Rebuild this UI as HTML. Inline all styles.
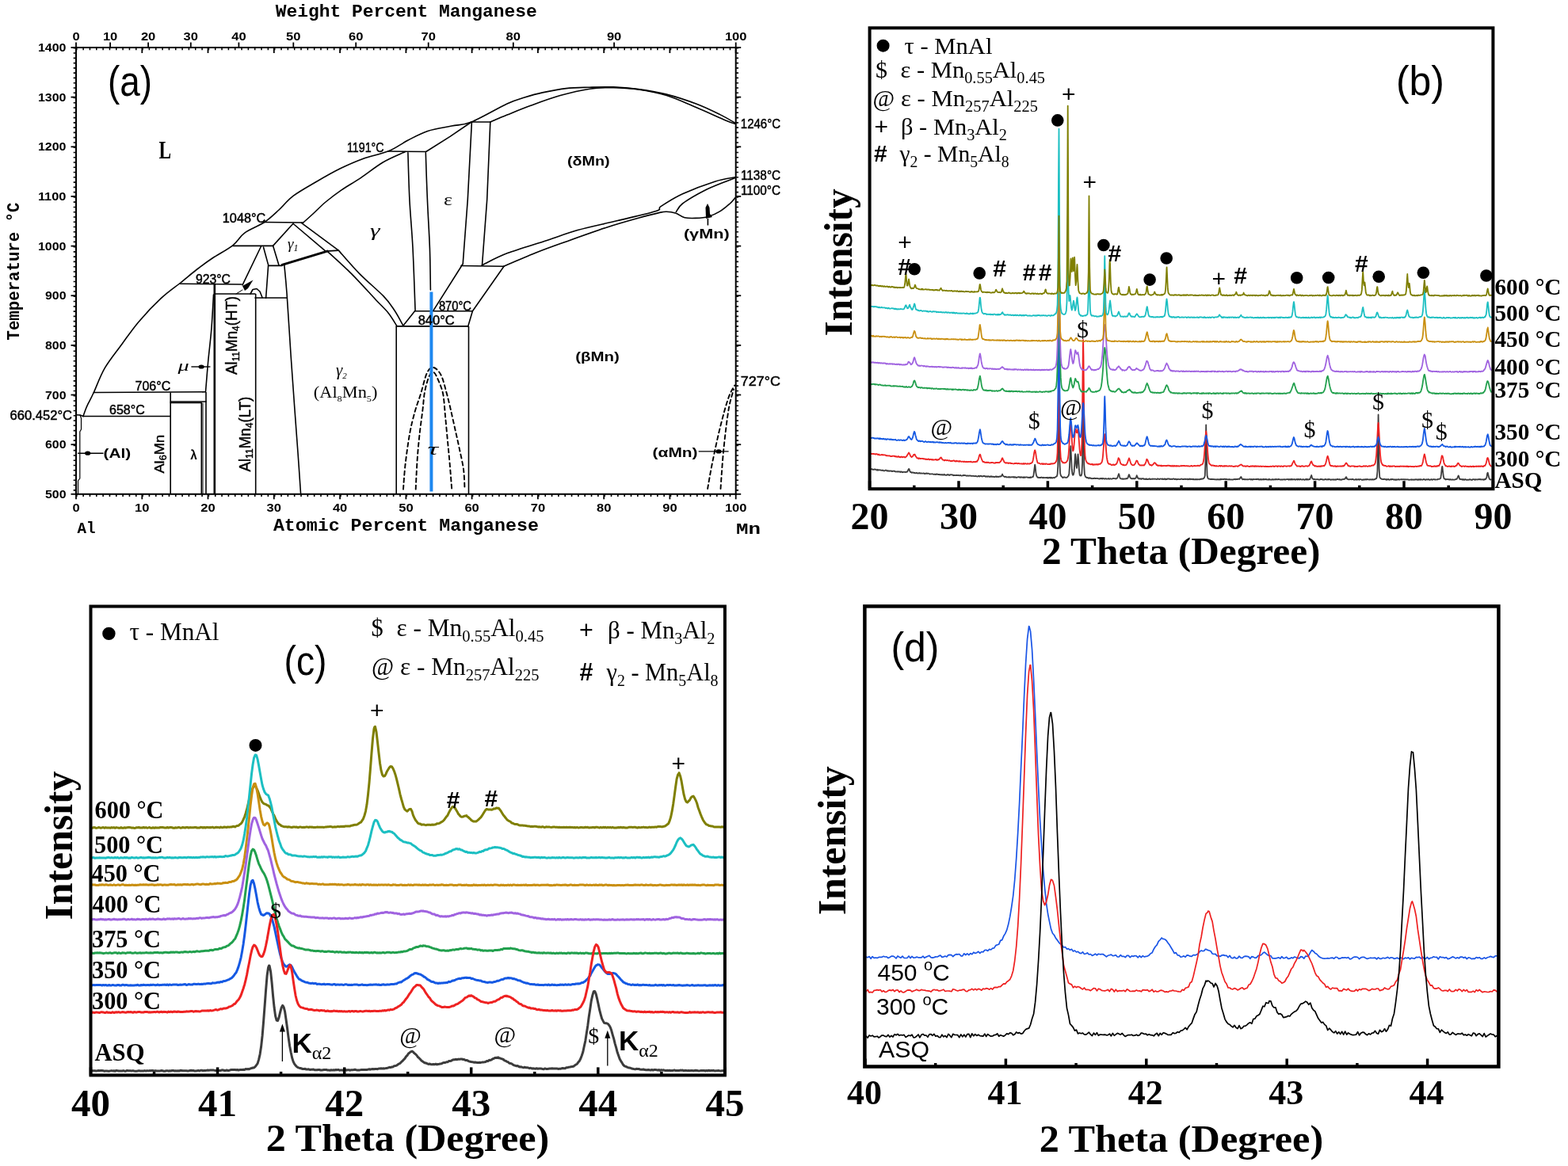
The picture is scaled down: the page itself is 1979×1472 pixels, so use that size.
<!DOCTYPE html>
<html><head><meta charset="utf-8"><title>Mn-Al phase diagram and XRD</title>
<style>html,body{margin:0;padding:0;background:#fff;overflow:hidden}svg{display:block}</style></head>
<body><svg xmlns="http://www.w3.org/2000/svg" width="1979" height="1472" viewBox="0 0 1979 1472">
<rect width="1979" height="1472" fill="#fff"/>
<rect x="96.0" y="60.0" width="832.7" height="563.8" fill="none" stroke="#000" stroke-width="2"/>
<line x1="94.2" y1="60.0" x2="94.2" y2="623.8" stroke="#000" stroke-width="3" stroke-dasharray="1.6 4.67"/>
<line x1="930.5" y1="60.0" x2="930.5" y2="623.8" stroke="#000" stroke-width="3" stroke-dasharray="1.6 4.67"/>
<line x1="96.0" y1="61.8" x2="928.7" y2="61.8" stroke="#000" stroke-width="3" stroke-dasharray="1.6 6.73"/>
<line x1="96.0" y1="625.5999999999999" x2="928.7" y2="625.5999999999999" stroke="#000" stroke-width="3" stroke-dasharray="1.6 6.73"/>
<line x1="89.5" y1="623.8" x2="96.0" y2="623.8" stroke="#000" stroke-width="1.8" />
<line x1="928.7" y1="623.8" x2="935.2" y2="623.8" stroke="#000" stroke-width="1.8" />
<line x1="89.5" y1="561.2" x2="96.0" y2="561.2" stroke="#000" stroke-width="1.8" />
<line x1="928.7" y1="561.2" x2="935.2" y2="561.2" stroke="#000" stroke-width="1.8" />
<line x1="89.5" y1="498.5" x2="96.0" y2="498.5" stroke="#000" stroke-width="1.8" />
<line x1="928.7" y1="498.5" x2="935.2" y2="498.5" stroke="#000" stroke-width="1.8" />
<line x1="89.5" y1="435.9" x2="96.0" y2="435.9" stroke="#000" stroke-width="1.8" />
<line x1="928.7" y1="435.9" x2="935.2" y2="435.9" stroke="#000" stroke-width="1.8" />
<line x1="89.5" y1="373.2" x2="96.0" y2="373.2" stroke="#000" stroke-width="1.8" />
<line x1="928.7" y1="373.2" x2="935.2" y2="373.2" stroke="#000" stroke-width="1.8" />
<line x1="89.5" y1="310.6" x2="96.0" y2="310.6" stroke="#000" stroke-width="1.8" />
<line x1="928.7" y1="310.6" x2="935.2" y2="310.6" stroke="#000" stroke-width="1.8" />
<line x1="89.5" y1="247.9" x2="96.0" y2="247.9" stroke="#000" stroke-width="1.8" />
<line x1="928.7" y1="247.9" x2="935.2" y2="247.9" stroke="#000" stroke-width="1.8" />
<line x1="89.5" y1="185.3" x2="96.0" y2="185.3" stroke="#000" stroke-width="1.8" />
<line x1="928.7" y1="185.3" x2="935.2" y2="185.3" stroke="#000" stroke-width="1.8" />
<line x1="89.5" y1="122.6" x2="96.0" y2="122.6" stroke="#000" stroke-width="1.8" />
<line x1="928.7" y1="122.6" x2="935.2" y2="122.6" stroke="#000" stroke-width="1.8" />
<line x1="89.5" y1="60.0" x2="96.0" y2="60.0" stroke="#000" stroke-width="1.8" />
<line x1="928.7" y1="60.0" x2="935.2" y2="60.0" stroke="#000" stroke-width="1.8" />
<line x1="96.0" y1="623.8" x2="96.0" y2="630.3" stroke="#000" stroke-width="1.8" />
<line x1="96.0" y1="60.0" x2="96.0" y2="67.0" stroke="#000" stroke-width="1.8" />
<line x1="179.3" y1="623.8" x2="179.3" y2="630.3" stroke="#000" stroke-width="1.8" />
<line x1="179.3" y1="60.0" x2="179.3" y2="67.0" stroke="#000" stroke-width="1.8" />
<line x1="262.5" y1="623.8" x2="262.5" y2="630.3" stroke="#000" stroke-width="1.8" />
<line x1="262.5" y1="60.0" x2="262.5" y2="67.0" stroke="#000" stroke-width="1.8" />
<line x1="345.8" y1="623.8" x2="345.8" y2="630.3" stroke="#000" stroke-width="1.8" />
<line x1="345.8" y1="60.0" x2="345.8" y2="67.0" stroke="#000" stroke-width="1.8" />
<line x1="429.1" y1="623.8" x2="429.1" y2="630.3" stroke="#000" stroke-width="1.8" />
<line x1="429.1" y1="60.0" x2="429.1" y2="67.0" stroke="#000" stroke-width="1.8" />
<line x1="512.4" y1="623.8" x2="512.4" y2="630.3" stroke="#000" stroke-width="1.8" />
<line x1="512.4" y1="60.0" x2="512.4" y2="67.0" stroke="#000" stroke-width="1.8" />
<line x1="595.6" y1="623.8" x2="595.6" y2="630.3" stroke="#000" stroke-width="1.8" />
<line x1="595.6" y1="60.0" x2="595.6" y2="67.0" stroke="#000" stroke-width="1.8" />
<line x1="678.9" y1="623.8" x2="678.9" y2="630.3" stroke="#000" stroke-width="1.8" />
<line x1="678.9" y1="60.0" x2="678.9" y2="67.0" stroke="#000" stroke-width="1.8" />
<line x1="762.2" y1="623.8" x2="762.2" y2="630.3" stroke="#000" stroke-width="1.8" />
<line x1="762.2" y1="60.0" x2="762.2" y2="67.0" stroke="#000" stroke-width="1.8" />
<line x1="845.4" y1="623.8" x2="845.4" y2="630.3" stroke="#000" stroke-width="1.8" />
<line x1="845.4" y1="60.0" x2="845.4" y2="67.0" stroke="#000" stroke-width="1.8" />
<line x1="928.7" y1="623.8" x2="928.7" y2="630.3" stroke="#000" stroke-width="1.8" />
<line x1="928.7" y1="60.0" x2="928.7" y2="67.0" stroke="#000" stroke-width="1.8" />
<line x1="96.0" y1="53.5" x2="96.0" y2="60.0" stroke="#000" stroke-width="1.8" />
<line x1="139.1" y1="53.5" x2="139.1" y2="60.0" stroke="#000" stroke-width="1.8" />
<line x1="187.1" y1="53.5" x2="187.1" y2="60.0" stroke="#000" stroke-width="1.8" />
<line x1="240.8" y1="53.5" x2="240.8" y2="60.0" stroke="#000" stroke-width="1.8" />
<line x1="301.4" y1="53.5" x2="301.4" y2="60.0" stroke="#000" stroke-width="1.8" />
<line x1="370.3" y1="53.5" x2="370.3" y2="60.0" stroke="#000" stroke-width="1.8" />
<line x1="449.2" y1="53.5" x2="449.2" y2="60.0" stroke="#000" stroke-width="1.8" />
<line x1="540.7" y1="53.5" x2="540.7" y2="60.0" stroke="#000" stroke-width="1.8" />
<line x1="647.8" y1="53.5" x2="647.8" y2="60.0" stroke="#000" stroke-width="1.8" />
<line x1="775.1" y1="53.5" x2="775.1" y2="60.0" stroke="#000" stroke-width="1.8" />
<line x1="928.7" y1="53.5" x2="928.7" y2="60.0" stroke="#000" stroke-width="1.8" />
<text x="83.5" y="628.9" font-size="14" text-anchor="end" font-family="Liberation Sans" font-weight="bold" textLength="26.5" lengthAdjust="spacingAndGlyphs">500</text>
<text x="83.5" y="566.3" font-size="14" text-anchor="end" font-family="Liberation Sans" font-weight="bold" textLength="26.5" lengthAdjust="spacingAndGlyphs">600</text>
<text x="83.5" y="503.6" font-size="14" text-anchor="end" font-family="Liberation Sans" font-weight="bold" textLength="26.5" lengthAdjust="spacingAndGlyphs">700</text>
<text x="83.5" y="441.0" font-size="14" text-anchor="end" font-family="Liberation Sans" font-weight="bold" textLength="26.5" lengthAdjust="spacingAndGlyphs">800</text>
<text x="83.5" y="378.3" font-size="14" text-anchor="end" font-family="Liberation Sans" font-weight="bold" textLength="26.5" lengthAdjust="spacingAndGlyphs">900</text>
<text x="83.5" y="315.7" font-size="14" text-anchor="end" font-family="Liberation Sans" font-weight="bold" textLength="35.6" lengthAdjust="spacingAndGlyphs">1000</text>
<text x="83.5" y="253.0" font-size="14" text-anchor="end" font-family="Liberation Sans" font-weight="bold" textLength="35.6" lengthAdjust="spacingAndGlyphs">1100</text>
<text x="83.5" y="190.4" font-size="14" text-anchor="end" font-family="Liberation Sans" font-weight="bold" textLength="35.6" lengthAdjust="spacingAndGlyphs">1200</text>
<text x="83.5" y="127.7" font-size="14" text-anchor="end" font-family="Liberation Sans" font-weight="bold" textLength="35.6" lengthAdjust="spacingAndGlyphs">1300</text>
<text x="83.5" y="65.1" font-size="14" text-anchor="end" font-family="Liberation Sans" font-weight="bold" textLength="35.6" lengthAdjust="spacingAndGlyphs">1400</text>
<text x="96.0" y="645.5" font-size="15" text-anchor="middle" font-family="Liberation Sans" font-weight="bold" textLength="9.2" lengthAdjust="spacingAndGlyphs">0</text>
<text x="179.3" y="645.5" font-size="15" text-anchor="middle" font-family="Liberation Sans" font-weight="bold" textLength="18.4" lengthAdjust="spacingAndGlyphs">10</text>
<text x="262.5" y="645.5" font-size="15" text-anchor="middle" font-family="Liberation Sans" font-weight="bold" textLength="18.4" lengthAdjust="spacingAndGlyphs">20</text>
<text x="345.8" y="645.5" font-size="15" text-anchor="middle" font-family="Liberation Sans" font-weight="bold" textLength="18.4" lengthAdjust="spacingAndGlyphs">30</text>
<text x="429.1" y="645.5" font-size="15" text-anchor="middle" font-family="Liberation Sans" font-weight="bold" textLength="18.4" lengthAdjust="spacingAndGlyphs">40</text>
<text x="512.4" y="645.5" font-size="15" text-anchor="middle" font-family="Liberation Sans" font-weight="bold" textLength="18.4" lengthAdjust="spacingAndGlyphs">50</text>
<text x="595.6" y="645.5" font-size="15" text-anchor="middle" font-family="Liberation Sans" font-weight="bold" textLength="18.4" lengthAdjust="spacingAndGlyphs">60</text>
<text x="678.9" y="645.5" font-size="15" text-anchor="middle" font-family="Liberation Sans" font-weight="bold" textLength="18.4" lengthAdjust="spacingAndGlyphs">70</text>
<text x="762.2" y="645.5" font-size="15" text-anchor="middle" font-family="Liberation Sans" font-weight="bold" textLength="18.4" lengthAdjust="spacingAndGlyphs">80</text>
<text x="845.4" y="645.5" font-size="15" text-anchor="middle" font-family="Liberation Sans" font-weight="bold" textLength="18.4" lengthAdjust="spacingAndGlyphs">90</text>
<text x="928.7" y="645.5" font-size="15" text-anchor="middle" font-family="Liberation Sans" font-weight="bold" textLength="27.599999999999998" lengthAdjust="spacingAndGlyphs">100</text>
<text x="96.0" y="50.8" font-size="15" text-anchor="middle" font-family="Liberation Sans" font-weight="bold" textLength="9.2" lengthAdjust="spacingAndGlyphs">0</text>
<text x="139.1" y="50.8" font-size="15" text-anchor="middle" font-family="Liberation Sans" font-weight="bold" textLength="18.4" lengthAdjust="spacingAndGlyphs">10</text>
<text x="187.1" y="50.8" font-size="15" text-anchor="middle" font-family="Liberation Sans" font-weight="bold" textLength="18.4" lengthAdjust="spacingAndGlyphs">20</text>
<text x="240.8" y="50.8" font-size="15" text-anchor="middle" font-family="Liberation Sans" font-weight="bold" textLength="18.4" lengthAdjust="spacingAndGlyphs">30</text>
<text x="301.4" y="50.8" font-size="15" text-anchor="middle" font-family="Liberation Sans" font-weight="bold" textLength="18.4" lengthAdjust="spacingAndGlyphs">40</text>
<text x="370.3" y="50.8" font-size="15" text-anchor="middle" font-family="Liberation Sans" font-weight="bold" textLength="18.4" lengthAdjust="spacingAndGlyphs">50</text>
<text x="449.2" y="50.8" font-size="15" text-anchor="middle" font-family="Liberation Sans" font-weight="bold" textLength="18.4" lengthAdjust="spacingAndGlyphs">60</text>
<text x="540.7" y="50.8" font-size="15" text-anchor="middle" font-family="Liberation Sans" font-weight="bold" textLength="18.4" lengthAdjust="spacingAndGlyphs">70</text>
<text x="647.8" y="50.8" font-size="15" text-anchor="middle" font-family="Liberation Sans" font-weight="bold" textLength="18.4" lengthAdjust="spacingAndGlyphs">80</text>
<text x="775.1" y="50.8" font-size="15" text-anchor="middle" font-family="Liberation Sans" font-weight="bold" textLength="18.4" lengthAdjust="spacingAndGlyphs">90</text>
<text x="928.7" y="50.8" font-size="15" text-anchor="middle" font-family="Liberation Sans" font-weight="bold" textLength="27.599999999999998" lengthAdjust="spacingAndGlyphs">100</text>
<text x="347.8" y="21.0" font-size="22.5" text-anchor="start" font-family="Liberation Mono" font-weight="bold" textLength="330" lengthAdjust="spacingAndGlyphs">Weight Percent Manganese</text>
<text x="344.9" y="670.0" font-size="22.5" text-anchor="start" font-family="Liberation Mono" font-weight="bold" textLength="335" lengthAdjust="spacingAndGlyphs">Atomic Percent Manganese</text>
<text x="97.5" y="672.5" font-size="20" text-anchor="start" font-family="Liberation Mono" font-weight="bold" textLength="23" lengthAdjust="spacingAndGlyphs">Al</text>
<text x="929.0" y="673.5" font-size="20" text-anchor="start" font-family="Liberation Mono" font-weight="bold" textLength="31" lengthAdjust="spacingAndGlyphs">Mn</text>
<text transform="translate(24,429.5) rotate(-90)" font-size="22" font-family="Liberation Mono" font-weight="bold" textLength="174" lengthAdjust="spacingAndGlyphs">Temperature °C</text>
<text x="136" y="120.5" font-size="54" font-family="Liberation Sans" textLength="56" lengthAdjust="spacingAndGlyphs">(a)</text>
<polyline points="96.0,523.7 101.0,524.0 105.0,525.5" fill="none" stroke="#000" stroke-width="1.6" stroke-linejoin="round" stroke-linecap="round" />
<path d="M105.0,525.5 C105.5,524.1 107.0,519.6 108.0,517.0 C109.0,514.4 109.5,513.3 111.2,509.7 C112.9,506.1 114.8,503.1 118.3,495.5 C121.8,487.9 126.5,474.5 132.4,464.4 C138.3,454.3 146.6,444.4 153.7,434.7 C160.8,425.0 166.7,416.1 174.9,406.4 C183.2,396.7 194.5,384.8 203.2,376.7 C211.9,368.6 219.7,363.5 227.2,357.5 C234.7,351.5 241.2,345.8 248.0,340.5 C254.8,335.2 260.4,331.1 268.0,326.0 C275.6,320.9 287.0,315.1 293.8,309.8 C300.6,304.5 302.0,299.0 308.7,294.1 C315.4,289.2 326.6,285.4 333.8,280.5 C341.0,275.6 346.0,270.5 352.0,265.0 C358.0,259.5 362.0,253.4 370.0,247.4 C378.0,241.4 390.1,234.8 400.0,229.0 C409.9,223.2 419.7,217.6 429.4,212.8 C439.1,208.1 447.9,204.2 458.0,200.5 C468.1,196.8 480.8,194.7 490.3,190.8 C499.8,186.9 506.8,181.2 515.0,177.0 C523.2,172.8 530.6,168.4 539.8,165.4 C549.0,162.4 560.8,160.9 570.0,159.0 C579.2,157.1 583.3,158.7 595.0,154.0 C606.7,149.3 628.8,136.2 640.0,131.0 C651.2,125.8 654.5,125.3 662.0,123.0 C669.5,120.7 676.0,118.8 684.7,116.9 C693.5,115.0 704.6,112.7 714.5,111.6 C724.4,110.5 734.0,110.5 744.0,110.2 C754.0,109.9 764.2,109.5 774.2,109.9 C784.2,110.3 792.8,110.9 804.0,112.4 C815.2,113.9 828.9,116.0 841.3,119.1 C853.7,122.2 867.3,126.8 878.5,131.0 C889.7,135.2 900.0,140.3 908.3,144.4 C916.6,148.5 925.1,153.7 928.5,155.6" fill="none" stroke="#000" stroke-width="1.6" stroke-linejoin="round" stroke-linecap="round" />
<path d="M619.0,154.0 C622.5,152.5 631.5,148.4 640.0,145.0 C648.5,141.6 658.6,137.4 669.8,133.3 C681.0,129.2 694.7,124.1 707.1,120.6 C719.5,117.1 733.2,113.9 744.4,112.2 C755.6,110.5 764.3,110.5 774.2,110.6 C784.1,110.7 792.8,111.1 804.0,112.8 C815.2,114.5 828.9,116.7 841.3,120.5 C853.7,124.3 866.1,130.3 878.5,135.5 C890.9,140.7 907.5,148.4 915.8,151.9 C924.1,155.4 926.4,155.7 928.5,156.4" fill="none" stroke="#000" stroke-width="1.6" stroke-linejoin="round" stroke-linecap="round" />
<path d="M382.7,281.0 C384.8,279.2 390.3,274.3 395.0,270.0 C399.7,265.7 405.0,260.0 411.0,255.0 C417.0,250.0 423.7,244.8 431.0,239.8 C438.3,234.8 446.2,230.6 454.9,224.8 C463.6,219.0 473.8,210.6 483.2,205.0 C492.6,199.4 506.8,193.8 511.5,191.5" fill="none" stroke="#000" stroke-width="1.6" stroke-linejoin="round" stroke-linecap="round" />
<polyline points="490.3,191.0 537.7,191.5" fill="none" stroke="#000" stroke-width="1.6" stroke-linejoin="round" stroke-linecap="round" />
<polyline points="537.7,191.5 568.0,172.4 595.0,154.0" fill="none" stroke="#000" stroke-width="1.6" stroke-linejoin="round" stroke-linecap="round" />
<polyline points="595.0,154.0 619.0,154.0" fill="none" stroke="#000" stroke-width="1.6" stroke-linejoin="round" stroke-linecap="round" />
<path d="M514.9,192.8 C515.2,202.7 515.9,231.9 516.9,251.9 C517.9,271.9 519.8,289.6 521.0,313.0 C522.2,336.4 523.6,379.2 524.1,392.5" fill="none" stroke="#000" stroke-width="1.6" stroke-linejoin="round" stroke-linecap="round" />
<path d="M537.3,192.8 C537.6,202.7 538.5,231.9 539.4,251.9 C540.2,271.9 541.7,294.0 542.4,313.0 C543.1,332.0 543.2,357.2 543.4,366.0" fill="none" stroke="#000" stroke-width="1.6" stroke-linejoin="round" stroke-linecap="round" />
<polyline points="595.4,154.1 590.3,251.9 584.2,333.4 582.2,335.5" fill="none" stroke="#000" stroke-width="1.6" stroke-linejoin="round" stroke-linecap="round" />
<polyline points="618.8,154.1 614.7,251.9 608.6,333.4 608.4,334.8" fill="none" stroke="#000" stroke-width="1.6" stroke-linejoin="round" stroke-linecap="round" />
<polyline points="582.2,335.5 636.0,336.2" fill="none" stroke="#000" stroke-width="1.6" stroke-linejoin="round" stroke-linecap="round" />
<polyline points="582.2,336.2 546.9,392.1" fill="none" stroke="#000" stroke-width="1.6" stroke-linejoin="round" stroke-linecap="round" />
<polyline points="636.0,336.2 596.4,392.8 590.7,411.9" fill="none" stroke="#000" stroke-width="1.6" stroke-linejoin="round" stroke-linecap="round" />
<polyline points="523.5,392.8 596.4,392.8" fill="none" stroke="#000" stroke-width="1.6" stroke-linejoin="round" stroke-linecap="round" />
<polyline points="500.2,411.9 590.7,411.9" fill="none" stroke="#000" stroke-width="1.6" stroke-linejoin="round" stroke-linecap="round" />
<polyline points="508.8,411.2 523.5,392.8" fill="none" stroke="#000" stroke-width="1.6" stroke-linejoin="round" stroke-linecap="round" />
<line x1="500.2" y1="411.9" x2="500.2" y2="623.8" stroke="#000" stroke-width="1.6" />
<line x1="591.5" y1="411.9" x2="591.5" y2="623.8" stroke="#000" stroke-width="1.6" />
<path d="M608.3,334.7 C613.7,332.2 626.7,324.9 640.5,319.6 C654.3,314.4 676.4,308.1 691.1,303.2 C705.9,298.3 714.3,294.6 729.0,290.5 C743.7,286.4 763.0,282.5 779.5,278.5 C796.0,274.5 818.9,269.5 828.0,266.5 C837.1,263.5 828.7,264.0 834.3,260.4 C839.9,256.8 850.2,250.0 861.5,244.8 C872.8,239.6 891.1,232.7 902.2,229.2 C913.3,225.7 923.7,224.7 928.0,223.8" fill="none" stroke="#000" stroke-width="1.6" stroke-linejoin="round" stroke-linecap="round" />
<path d="M636.1,336.0 C643.1,333.1 665.0,323.6 678.4,318.3 C691.8,313.0 701.5,309.7 716.3,304.4 C731.0,299.1 752.1,291.5 766.9,286.7 C781.6,281.9 794.0,278.5 804.8,275.5 C815.6,272.5 825.5,270.0 831.6,268.6 C837.7,267.2 837.5,267.1 841.1,267.2 C844.7,267.3 849.4,268.1 853.3,269.3 C857.1,270.6 860.1,273.7 864.2,274.7 C868.3,275.7 872.8,275.6 877.8,275.4 C882.8,275.2 888.9,274.9 894.1,273.4 C899.3,271.9 904.5,269.3 909.0,266.6 C913.5,263.9 918.1,259.8 921.3,257.0 C924.5,254.2 926.9,250.8 928.0,249.6" fill="none" stroke="#000" stroke-width="1.6" stroke-linejoin="round" stroke-linecap="round" />
<path d="M853.3,267.5 C854.7,265.8 855.6,261.5 861.5,257.0 C867.4,252.5 879.7,245.3 888.7,240.7 C897.8,236.1 909.2,231.9 915.8,229.2 C922.3,226.5 926.0,225.3 928.0,224.5" fill="none" stroke="#000" stroke-width="1.6" stroke-linejoin="round" stroke-linecap="round" />
<path d="M891,276 L890.5,262 L893,257 L895.5,262 L896,270 L899,274 Z" fill="#000"/>
<line x1="893.4" y1="276.0" x2="893.4" y2="284.5" stroke="#000" stroke-width="1.6" />
<polyline points="333.8,280.5 382.7,281.0" fill="none" stroke="#000" stroke-width="1.6" stroke-linejoin="round" stroke-linecap="round" />
<polyline points="370.2,282.0 344.5,310.4" fill="none" stroke="#000" stroke-width="1.6" stroke-linejoin="round" stroke-linecap="round" />
<polyline points="293.8,310.4 344.5,310.4" fill="none" stroke="#000" stroke-width="1.6" stroke-linejoin="round" stroke-linecap="round" />
<polyline points="370.2,282.5 411.0,317.1" fill="none" stroke="#000" stroke-width="1.6" stroke-linejoin="round" stroke-linecap="round" />
<polyline points="380.4,281.4 427.3,316.1" fill="none" stroke="#000" stroke-width="1.6" stroke-linejoin="round" stroke-linecap="round" />
<polyline points="411.0,317.1 427.3,316.1" fill="none" stroke="#000" stroke-width="1.6" stroke-linejoin="round" stroke-linecap="round" />
<path d="M413.0,317.1 C418.1,321.9 433.4,335.4 443.6,345.6 C453.8,355.8 466.4,370.0 474.1,378.2 C481.8,386.4 485.6,389.5 490.0,395.0 C494.4,400.5 498.8,408.3 500.6,411.0" fill="none" stroke="#000" stroke-width="1.6" stroke-linejoin="round" stroke-linecap="round" />
<path d="M427.3,316.1 C431.7,321.0 444.3,335.9 453.8,345.6 C463.3,355.3 476.9,366.4 484.3,374.1 C491.7,381.8 493.9,385.9 498.0,392.0 C502.1,398.1 507.0,407.8 508.8,411.0" fill="none" stroke="#000" stroke-width="1.6" stroke-linejoin="round" stroke-linecap="round" />
<polyline points="356.0,334.4 413.0,317.1" fill="none" stroke="#000" stroke-width="3.0" stroke-linejoin="round" stroke-linecap="round" />
<polyline points="329.5,311.0 306.0,359.9" fill="none" stroke="#000" stroke-width="1.6" stroke-linejoin="round" stroke-linecap="round" />
<polyline points="332.5,312.0 338.6,334.4" fill="none" stroke="#000" stroke-width="1.6" stroke-linejoin="round" stroke-linecap="round" />
<polyline points="344.8,311.0 351.9,334.4" fill="none" stroke="#000" stroke-width="1.6" stroke-linejoin="round" stroke-linecap="round" />
<polyline points="338.6,335.4 356.0,335.4" fill="none" stroke="#000" stroke-width="1.6" stroke-linejoin="round" stroke-linecap="round" />
<polyline points="338.6,335.4 335.6,376.2" fill="none" stroke="#000" stroke-width="1.6" stroke-linejoin="round" stroke-linecap="round" />
<path d="M358.8,334.2 C359.3,340.2 360.6,350.7 362.0,370.0 C363.4,389.3 365.6,425.9 367.2,450.0 C368.8,474.1 370.3,494.6 371.8,514.9 C373.3,535.1 374.7,553.4 376.0,571.5 C377.3,589.6 379.0,615.1 379.6,623.8" fill="none" stroke="#000" stroke-width="1.6" stroke-linejoin="round" stroke-linecap="round" />
<polyline points="322.0,376.0 362.0,376.0" fill="none" stroke="#000" stroke-width="1.6" stroke-linejoin="round" stroke-linecap="round" />
<polyline points="227.2,358.3 305.0,359.0" fill="none" stroke="#000" stroke-width="1.6" stroke-linejoin="round" stroke-linecap="round" />
<polyline points="271.8,371.0 322.0,371.0" fill="none" stroke="#000" stroke-width="1.6" stroke-linejoin="round" stroke-linecap="round" />
<polyline points="316.0,371.0 319.0,365.5 324.0,364.5 328.0,368.0 331.0,375.5" fill="none" stroke="#000" stroke-width="1.6" stroke-linejoin="round" stroke-linecap="round" />
<line x1="322.7" y1="371.0" x2="322.7" y2="623.8" stroke="#000" stroke-width="1.6" />
<line x1="270.8" y1="359.0" x2="270.8" y2="623.8" stroke="#000" stroke-width="2.6" />
<path d="M269.5,372.0 C269.1,379.1 268.0,400.7 266.9,414.9 C265.8,429.1 263.8,444.0 262.6,457.3 C261.4,470.6 260.0,488.6 259.5,494.8" fill="none" stroke="#000" stroke-width="1.6" stroke-linejoin="round" stroke-linecap="round" />
<line x1="260.0" y1="495.0" x2="260.0" y2="623.8" stroke="#000" stroke-width="1.6" />
<path d="M306,361 L319.5,353.5 L313,364 L309,367 Z" fill="#000"/>
<polyline points="298.0,371.0 306.0,366.0" fill="none" stroke="#000" stroke-width="1.0" stroke-linejoin="round" stroke-linecap="round" />
<polyline points="118.3,495.5 259.1,494.8" fill="none" stroke="#000" stroke-width="1.6" stroke-linejoin="round" stroke-linecap="round" />
<line x1="215.2" y1="495.5" x2="215.2" y2="623.8" stroke="#000" stroke-width="1.6" />
<polyline points="215.4,507.0 260.0,507.0" fill="none" stroke="#000" stroke-width="1.6" stroke-linejoin="round" stroke-linecap="round" />
<polyline points="215.4,508.5 254.3,508.5" fill="none" stroke="#000" stroke-width="1.6" stroke-linejoin="round" stroke-linecap="round" />
<line x1="254.3" y1="508.5" x2="254.3" y2="623.8" stroke="#000" stroke-width="1.6" />
<line x1="256.0" y1="508.5" x2="256.0" y2="623.8" stroke="#000" stroke-width="1.0" />
<polyline points="105.0,525.5 215.2,525.5" fill="none" stroke="#000" stroke-width="1.6" stroke-linejoin="round" stroke-linecap="round" />
<polyline points="101.0,524.0 102.5,528.0 102.5,542.0 100.8,545.0 100.8,604.0 98.5,607.0 98.5,623.8" fill="none" stroke="#000" stroke-width="1.2" stroke-linejoin="round" stroke-linecap="round" />
<line x1="98.0" y1="572.2" x2="130.5" y2="572.2" stroke="#000" stroke-width="1.4" />
<ellipse cx="110.7" cy="572.2" rx="3.6" ry="2.6" fill="#000"/>
<line x1="241.4" y1="463.0" x2="265.4" y2="463.0" stroke="#000" stroke-width="1.4" />
<ellipse cx="254.1" cy="463.0" rx="3.6" ry="2.6" fill="#000"/>
<line x1="881.7" y1="569.9" x2="919.6" y2="569.9" stroke="#000" stroke-width="1.4" />
<ellipse cx="907.0" cy="569.9" rx="3.6" ry="2.6" fill="#000"/>
<path d="M509.0,617.6 C509.4,612.2 510.3,596.8 511.7,585.0 C513.1,573.2 515.2,558.0 517.2,546.9 C519.2,535.8 521.7,526.5 524.0,518.4 C526.3,510.2 528.3,505.9 530.8,498.0 C533.3,490.1 536.2,476.5 538.9,470.8 C541.6,465.1 544.1,463.6 547.1,464.0 C550.1,464.4 553.9,468.3 556.6,473.5 C559.3,478.7 561.4,487.9 563.4,495.2 C565.4,502.4 567.0,509.3 568.8,517.0 C570.6,524.7 572.5,533.4 574.3,541.5 C576.1,549.6 577.9,557.3 579.7,565.9 C581.5,574.5 584.0,584.5 585.1,593.1 C586.2,601.7 586.3,613.5 586.5,617.6" fill="none" stroke="#000" stroke-width="1.9" stroke-linejoin="round" stroke-linecap="round" stroke-dasharray="5 4"/>
<path d="M524.7,617.6 C525.0,611.2 525.9,590.8 526.7,579.5 C527.5,568.2 528.3,560.0 529.4,549.6 C530.5,539.2 532.4,526.3 533.5,517.0 C534.6,507.7 534.8,500.9 536.2,493.9 C537.6,486.9 539.8,478.9 541.7,474.9 C543.6,470.9 545.5,468.9 547.5,470.0 C549.5,471.1 551.9,477.0 553.9,481.7 C555.9,486.4 557.9,490.8 559.3,498.0 C560.6,505.2 561.1,515.6 562.0,525.1 C562.9,534.6 563.9,545.2 564.8,555.0 C565.7,564.8 566.6,573.2 567.5,583.6 C568.4,594.0 569.8,611.9 570.2,617.6" fill="none" stroke="#000" stroke-width="1.9" stroke-linejoin="round" stroke-linecap="round" stroke-dasharray="5 4"/>
<path d="M893.1,617.0 C894.1,611.2 896.7,595.8 899.4,582.5 C902.1,569.2 906.1,550.6 909.5,537.1 C912.9,523.6 916.6,510.1 919.6,501.7 C922.6,493.3 925.9,489.0 927.2,486.5" fill="none" stroke="#000" stroke-width="1.9" stroke-linejoin="round" stroke-linecap="round" stroke-dasharray="5 4"/>
<path d="M909.5,617.0 C910.1,608.7 911.6,584.1 913.3,567.4 C915.0,550.7 917.5,529.5 919.6,516.9 C921.7,504.3 924.9,495.8 925.9,491.6" fill="none" stroke="#000" stroke-width="1.9" stroke-linejoin="round" stroke-linecap="round" stroke-dasharray="5 4"/>
<line x1="544.4" y1="368.5" x2="544.4" y2="620.5" stroke="#1e88f0" stroke-width="4"/>
<text x="437.9" y="191.5" font-size="16" font-family="Liberation Sans" stroke="#000" stroke-width="0.45" textLength="46.7" lengthAdjust="spacingAndGlyphs">1191°C</text>
<text x="280.8" y="281.2" font-size="16" font-family="Liberation Sans" stroke="#000" stroke-width="0.45" textLength="54.4" lengthAdjust="spacingAndGlyphs">1048°C</text>
<text x="247.0" y="357.6" font-size="16" font-family="Liberation Sans" stroke="#000" stroke-width="0.45" textLength="44.0" lengthAdjust="spacingAndGlyphs">923°C</text>
<text x="170.6" y="493.4" font-size="16" font-family="Liberation Sans" stroke="#000" stroke-width="0.45" textLength="44.6" lengthAdjust="spacingAndGlyphs">706°C</text>
<text x="138.1" y="523.1" font-size="16" font-family="Liberation Sans" stroke="#000" stroke-width="0.45" textLength="44.6" lengthAdjust="spacingAndGlyphs">658°C</text>
<text x="12.6" y="529.8" font-size="16" font-family="Liberation Sans" stroke="#000" stroke-width="0.45" textLength="78.4" lengthAdjust="spacingAndGlyphs">660.452°C</text>
<text x="553.9" y="392.0" font-size="16" font-family="Liberation Sans" stroke="#000" stroke-width="0.45" textLength="41.1" lengthAdjust="spacingAndGlyphs">870°C</text>
<text x="527.7" y="409.8" font-size="16" font-family="Liberation Sans" stroke="#000" stroke-width="0.45" textLength="46.0" lengthAdjust="spacingAndGlyphs">840°C</text>
<text x="934.8" y="161.7" font-size="16" font-family="Liberation Sans" stroke="#000" stroke-width="0.45" textLength="50.2" lengthAdjust="spacingAndGlyphs">1246°C</text>
<text x="934.9" y="227.2" font-size="16" font-family="Liberation Sans" stroke="#000" stroke-width="0.45" textLength="50.2" lengthAdjust="spacingAndGlyphs">1138°C</text>
<text x="934.9" y="246.2" font-size="16" font-family="Liberation Sans" stroke="#000" stroke-width="0.45" textLength="50.1" lengthAdjust="spacingAndGlyphs">1100°C</text>
<text x="934.8" y="486.5" font-size="16" font-family="Liberation Sans" stroke="#000" stroke-width="0.45" textLength="50.2" lengthAdjust="spacingAndGlyphs">727°C</text>
<text x="716.0" y="208.8" font-size="16" font-family="Liberation Sans" font-weight="bold" textLength="53.7" lengthAdjust="spacingAndGlyphs">(δMn)</text>
<text x="862.9" y="300.5" font-size="16" font-family="Liberation Sans" font-weight="bold" textLength="57.7" lengthAdjust="spacingAndGlyphs">(γMn)</text>
<text x="726.3" y="455.5" font-size="16" font-family="Liberation Sans" font-weight="bold" textLength="55.6" lengthAdjust="spacingAndGlyphs">(βMn)</text>
<text x="823.6" y="577.0" font-size="16" font-family="Liberation Sans" font-weight="bold" textLength="56.9" lengthAdjust="spacingAndGlyphs">(αMn)</text>
<text x="130.5" y="577.5" font-size="16" font-family="Liberation Sans" font-weight="bold" textLength="34.7" lengthAdjust="spacingAndGlyphs">(Al)</text>
<text x="200.4" y="200.0" font-size="31" font-family="Liberation Serif" font-weight="bold" textLength="15.6" lengthAdjust="spacingAndGlyphs">L</text>
<text x="467.0" y="298.0" font-size="22" font-family="Liberation Serif" font-style="italic" textLength="12.5" lengthAdjust="spacingAndGlyphs">γ</text>
<text x="560.0" y="259.0" font-size="20" font-family="Liberation Serif" textLength="11.0" lengthAdjust="spacingAndGlyphs">ε</text>
<text x="363" y="314" font-size="19" font-family="Liberation Serif" font-style="italic">γ<tspan font-size="12" dy="3">1</tspan></text>
<text x="539.6" y="574.0" font-size="21" font-family="Liberation Serif" font-style="italic" textLength="13.6" lengthAdjust="spacingAndGlyphs">τ</text>
<text x="224.4" y="468.0" font-size="19" font-family="Liberation Serif" font-style="italic" textLength="14.2" lengthAdjust="spacingAndGlyphs">μ</text>
<text x="240.2" y="580.0" font-size="16" font-family="Liberation Sans" font-weight="bold" textLength="8.5" lengthAdjust="spacingAndGlyphs">λ</text>
<text x="424" y="474" font-size="21" font-family="Liberation Serif" font-style="italic">γ<tspan font-size="11" dy="4">2</tspan></text>
<text x="395.8" y="501.5" font-size="20" font-family="Liberation Serif" textLength="80.7" lengthAdjust="spacingAndGlyphs">(Al<tspan font-size="11" dy="5">8</tspan><tspan dy="-5">Mn</tspan><tspan font-size="11" dy="5">5</tspan><tspan dy="-5">)</tspan></text>
<text transform="translate(206.5,597.6) rotate(-90)" font-size="17" font-family="Liberation Sans" stroke="#000" stroke-width="0.45" textLength="48.8" lengthAdjust="spacingAndGlyphs">Al<tspan font-size="12" dy="3">6</tspan><tspan dy="-3">Mn</tspan></text>
<text transform="translate(299.4,472.9) rotate(-90)" font-size="20.5" font-family="Liberation Sans" stroke="#000" stroke-width="0.45" textLength="99" lengthAdjust="spacingAndGlyphs">Al<tspan font-size="13" dy="3">11</tspan><tspan dy="-3">Mn</tspan><tspan font-size="13" dy="3">4</tspan><tspan dy="-3">(HT)</tspan></text>
<text transform="translate(316,595.5) rotate(-90)" font-size="20" font-family="Liberation Sans" stroke="#000" stroke-width="0.45" textLength="94.8" lengthAdjust="spacingAndGlyphs">Al<tspan font-size="13" dy="3">11</tspan><tspan dy="-3">Mn</tspan><tspan font-size="13" dy="3">4</tspan><tspan dy="-3">(LT)</tspan></text>
<polyline points="1098.7,592.3 1099.4,592.2 1100.1,592.4 1100.8,592.1 1101.5,592.8 1102.2,592.9 1102.9,592.8 1103.6,592.4 1104.3,592.8 1105.0,592.7 1105.7,592.7 1106.4,593.5 1107.1,593.6 1107.8,592.7 1108.5,593.6 1109.2,593.4 1109.9,593.3 1110.6,593.2 1111.3,593.7 1112.0,593.5 1112.7,593.8 1113.4,593.9 1114.1,593.4 1114.8,594.1 1115.5,594.4 1116.2,594.4 1116.9,594.1 1117.6,593.6 1118.3,593.7 1119.0,593.9 1119.7,594.7 1120.4,594.2 1121.1,594.3 1121.8,594.9 1122.5,594.4 1123.2,594.7 1123.9,594.6 1124.6,594.3 1125.3,594.9 1126.0,595.2 1126.7,594.6 1127.4,594.7 1128.1,594.9 1128.8,594.6 1129.5,595.1 1130.2,595.5 1130.9,595.4 1131.6,595.3 1132.3,595.7 1133.0,595.1 1133.7,595.5 1134.4,595.4 1135.1,595.7 1135.8,595.3 1136.5,596.0 1137.2,595.3 1137.9,595.5 1138.6,596.2 1139.3,596.3 1140.0,595.9 1140.7,595.9 1141.4,595.8 1142.1,595.8 1142.8,596.2 1143.5,595.8 1144.2,595.7 1144.9,595.8 1145.6,594.7 1146.3,593.2 1147.0,591.8 1147.1,591.8 1147.7,592.9 1148.4,594.9 1149.1,596.0 1149.8,595.9 1150.5,596.8 1151.2,596.5 1151.9,596.6 1152.6,596.4 1153.3,596.9 1154.0,597.0 1154.7,596.9 1155.4,597.4 1156.1,597.3 1156.8,596.9 1157.5,597.3 1158.2,597.7 1158.9,597.3 1159.6,597.5 1160.3,597.0 1161.0,597.5 1161.7,597.5 1162.4,597.5 1163.1,597.5 1163.8,597.7 1164.5,597.7 1165.2,597.7 1165.9,597.4 1166.6,597.8 1167.3,598.3 1168.0,597.8 1168.7,597.5 1169.4,597.5 1170.1,598.1 1170.8,597.6 1171.5,597.7 1172.2,597.8 1172.9,598.2 1173.6,598.7 1174.3,598.3 1175.0,598.3 1175.7,598.3 1176.4,598.4 1177.1,598.4 1177.8,598.7 1178.5,598.9 1179.2,598.8 1179.9,598.5 1180.6,598.8 1181.3,599.1 1182.0,598.4 1182.7,598.5 1183.4,598.9 1184.1,599.0 1184.8,599.0 1185.5,599.0 1186.2,599.3 1186.9,599.0 1187.6,599.3 1188.3,599.5 1189.0,599.0 1189.7,599.5 1190.4,599.4 1191.1,599.6 1191.8,598.8 1192.5,599.7 1193.2,599.6 1193.9,599.8 1194.6,599.9 1195.3,599.2 1196.0,599.6 1196.7,599.1 1197.4,599.6 1198.1,600.0 1198.8,599.3 1199.5,599.5 1200.2,599.2 1200.9,599.4 1201.6,599.4 1202.3,599.4 1203.0,600.3 1203.7,600.2 1204.4,599.8 1205.1,600.1 1205.8,600.1 1206.5,600.0 1207.2,599.9 1207.9,600.2 1208.6,600.1 1209.3,599.8 1210.0,600.0 1210.7,600.3 1211.4,600.3 1212.1,599.9 1212.8,600.3 1213.5,600.6 1214.2,600.7 1214.9,600.5 1215.6,599.9 1216.3,600.3 1217.0,600.0 1217.7,600.0 1218.4,600.2 1219.1,600.4 1219.8,600.8 1220.5,600.7 1221.2,600.4 1221.9,600.8 1222.6,600.6 1223.3,600.7 1224.0,600.4 1224.7,600.6 1225.4,600.6 1226.1,601.0 1226.8,600.8 1227.5,600.8 1228.2,600.8 1228.9,600.8 1229.6,601.1 1230.3,601.1 1231.0,601.2 1231.7,600.9 1232.4,601.3 1233.1,601.5 1233.8,601.5 1234.5,601.3 1235.2,600.7 1235.9,601.5 1236.6,601.5 1237.3,600.7 1238.0,601.0 1238.7,601.0 1239.4,601.5 1240.1,601.4 1240.8,601.1 1241.5,601.0 1242.2,601.0 1242.9,601.0 1243.6,601.7 1244.3,601.8 1245.0,601.1 1245.7,601.7 1246.4,601.9 1247.1,601.2 1247.8,601.6 1248.5,601.5 1249.2,602.0 1249.9,602.0 1250.6,601.1 1251.3,601.3 1252.0,602.0 1252.7,601.7 1253.4,601.7 1254.1,602.0 1254.8,602.0 1255.5,602.2 1256.2,601.6 1256.9,601.3 1257.6,602.0 1258.3,601.4 1259.0,601.9 1259.7,602.2 1260.4,601.7 1261.1,601.9 1261.8,601.5 1262.5,601.4 1263.2,601.6 1263.9,601.1 1264.6,600.0 1265.1,598.6 1265.3,599.6 1266.0,600.5 1266.7,601.3 1267.4,601.7 1268.1,602.1 1268.8,601.9 1269.5,601.7 1270.2,602.5 1270.9,602.4 1271.6,602.3 1272.3,602.4 1273.0,602.7 1273.7,601.9 1274.4,602.6 1275.1,602.6 1275.8,602.2 1276.5,602.4 1277.2,602.3 1277.9,602.1 1278.6,602.3 1279.3,602.0 1280.0,602.8 1280.7,602.1 1281.4,602.6 1282.1,602.5 1282.8,603.0 1283.5,602.8 1284.2,602.4 1284.9,602.4 1285.6,602.1 1286.3,602.1 1287.0,602.4 1287.7,603.0 1288.4,602.2 1289.1,602.3 1289.8,602.8 1290.5,602.5 1291.2,602.3 1291.9,603.1 1292.6,602.2 1293.3,602.8 1294.0,602.6 1294.7,602.5 1295.4,602.4 1296.1,602.4 1296.8,602.6 1297.5,603.0 1298.2,602.7 1298.9,603.0 1299.6,603.1 1300.3,602.3 1301.0,603.0 1301.7,602.6 1302.4,602.4 1303.1,602.2 1303.8,602.1 1304.5,599.7 1305.2,594.4 1305.9,588.5 1306.2,586.6 1306.6,588.5 1307.3,596.1 1308.0,600.1 1308.7,601.7 1309.4,602.5 1310.1,603.0 1310.8,602.6 1311.5,603.2 1312.2,603.0 1312.9,603.0 1313.6,603.0 1314.3,602.5 1315.0,602.7 1315.7,603.2 1316.4,603.3 1317.1,602.7 1317.8,603.2 1318.5,603.1 1319.2,603.2 1319.9,603.0 1320.6,602.9 1321.3,603.0 1322.0,603.6 1322.7,602.8 1323.4,603.5 1324.1,603.2 1324.8,602.7 1325.5,603.5 1326.2,602.7 1326.9,603.5 1327.6,602.9 1328.3,603.5 1329.0,603.3 1329.7,602.8 1330.4,603.0 1331.1,603.3 1331.8,602.3 1332.5,602.0 1333.2,601.6 1333.9,601.2 1334.6,598.5 1335.3,588.6 1336.0,524.8 1336.5,481.5 1336.7,501.9 1337.4,581.7 1338.1,597.3 1338.8,600.0 1339.5,601.2 1340.2,601.7 1340.9,602.8 1341.6,603.2 1342.3,602.4 1343.0,602.7 1343.7,602.4 1344.4,602.8 1345.1,603.0 1345.8,602.8 1346.5,602.9 1347.2,602.3 1347.9,601.4 1348.6,600.7 1349.3,597.9 1350.0,588.6 1350.7,571.3 1351.3,563.2 1351.4,563.6 1352.1,578.7 1352.8,592.7 1353.5,598.3 1354.2,599.8 1354.9,599.1 1355.6,595.9 1356.3,585.9 1357.0,573.9 1357.2,573.1 1357.7,577.0 1358.4,588.2 1359.1,590.9 1359.8,583.1 1360.5,573.6 1360.6,573.5 1361.2,580.4 1361.9,592.7 1362.6,599.0 1363.3,600.5 1364.0,600.7 1364.7,600.2 1365.4,597.8 1366.1,583.7 1366.8,506.7 1367.1,479.5 1367.5,516.5 1368.2,586.9 1368.9,598.8 1369.6,600.9 1370.3,602.4 1371.0,602.5 1371.7,603.2 1372.4,602.8 1373.1,603.2 1373.8,603.9 1374.5,603.3 1375.2,603.8 1375.9,603.3 1376.6,603.9 1377.3,603.8 1378.0,604.3 1378.7,604.2 1379.4,604.2 1380.1,603.8 1380.8,604.1 1381.5,603.6 1382.2,604.0 1382.9,603.9 1383.6,604.0 1384.3,603.8 1385.0,603.8 1385.7,604.1 1386.4,604.3 1387.1,604.2 1387.8,604.6 1388.5,604.2 1389.2,603.8 1389.9,604.3 1390.6,604.0 1391.3,604.6 1392.0,603.8 1392.7,604.2 1393.4,604.4 1394.1,604.7 1394.8,604.2 1395.5,604.1 1396.2,604.5 1396.9,604.5 1397.6,604.7 1398.3,604.5 1399.0,603.9 1399.7,604.8 1400.4,604.7 1401.1,604.2 1401.8,604.4 1402.5,604.6 1403.2,604.7 1403.9,604.5 1404.6,603.9 1405.3,603.9 1406.0,604.1 1406.7,604.2 1407.4,604.1 1408.1,604.5 1408.8,604.4 1409.5,603.8 1410.2,603.5 1410.9,601.3 1411.6,599.4 1412.0,598.2 1412.3,598.6 1413.0,601.4 1413.7,603.7 1414.4,604.1 1415.1,604.4 1415.8,604.6 1416.5,604.2 1417.2,604.8 1417.9,604.8 1418.6,604.4 1419.3,604.6 1420.0,604.7 1420.7,604.4 1421.4,603.9 1422.1,604.4 1422.8,603.9 1423.5,603.5 1424.2,601.0 1424.9,599.1 1425.0,599.2 1425.6,600.4 1426.3,602.7 1427.0,603.6 1427.7,604.1 1428.4,604.4 1429.1,604.0 1429.8,604.4 1430.5,604.3 1431.2,603.9 1431.9,604.5 1432.6,604.2 1433.3,603.8 1434.0,602.4 1434.7,600.2 1434.8,600.8 1435.4,601.6 1436.1,603.6 1436.8,603.7 1437.5,604.7 1438.2,604.4 1438.9,604.1 1439.6,604.5 1440.3,605.0 1441.0,604.2 1441.7,604.5 1442.4,604.2 1443.1,604.2 1443.8,605.0 1444.5,604.7 1445.2,604.7 1445.9,605.1 1446.6,604.3 1447.3,605.1 1448.0,604.9 1448.7,605.1 1449.4,605.0 1450.1,604.6 1450.8,604.2 1451.5,605.2 1452.2,604.9 1452.9,604.9 1453.6,604.9 1454.3,604.5 1455.0,604.9 1455.7,604.7 1456.4,604.5 1457.1,604.8 1457.8,604.7 1458.5,604.6 1459.2,605.0 1459.9,605.2 1460.6,604.9 1461.3,604.3 1462.0,604.8 1462.7,604.9 1463.4,605.1 1464.1,604.6 1464.8,604.5 1465.5,604.7 1466.2,604.5 1466.9,605.1 1467.6,604.4 1468.3,604.9 1469.0,605.2 1469.7,604.4 1470.4,604.5 1471.1,605.3 1471.8,604.7 1472.5,605.1 1473.2,604.4 1473.9,604.8 1474.6,604.4 1475.3,604.6 1476.0,604.4 1476.7,605.1 1477.4,604.8 1478.1,604.7 1478.8,604.8 1479.5,605.1 1480.2,604.6 1480.9,604.5 1481.6,604.4 1482.3,605.0 1483.0,605.1 1483.7,604.6 1484.4,604.9 1485.1,605.4 1485.8,604.9 1486.5,605.2 1487.2,604.8 1487.9,605.0 1488.6,605.2 1489.3,605.1 1490.0,605.0 1490.7,604.7 1491.4,604.5 1492.1,604.9 1492.8,605.2 1493.5,604.8 1494.2,605.2 1494.9,604.9 1495.6,604.5 1496.3,605.0 1497.0,605.0 1497.7,604.8 1498.4,604.7 1499.1,605.4 1499.8,605.0 1500.5,605.2 1501.2,604.5 1501.9,605.2 1502.6,604.6 1503.3,605.0 1504.0,604.9 1504.7,604.9 1505.4,605.3 1506.1,604.7 1506.8,605.4 1507.5,605.3 1508.2,605.0 1508.9,605.3 1509.6,605.0 1510.3,605.4 1511.0,604.9 1511.7,605.4 1512.4,605.2 1513.1,605.1 1513.8,605.4 1514.5,605.1 1515.2,604.6 1515.9,605.0 1516.6,604.4 1517.3,604.6 1518.0,604.7 1518.7,604.0 1519.4,603.8 1520.1,602.8 1520.8,600.5 1521.5,581.7 1522.2,536.4 1522.2,536.4 1522.9,578.7 1523.6,600.3 1524.3,603.2 1525.0,604.2 1525.7,604.6 1526.4,604.7 1527.1,604.9 1527.8,605.0 1528.5,604.9 1529.2,605.2 1529.9,604.6 1530.6,605.2 1531.3,605.1 1532.0,605.0 1532.7,605.1 1533.4,605.4 1534.1,605.3 1534.8,605.2 1535.5,605.5 1536.2,605.4 1536.9,604.9 1537.6,605.4 1538.3,605.5 1539.0,605.2 1539.7,605.5 1540.4,604.8 1541.1,605.4 1541.8,604.8 1542.5,605.0 1543.2,605.1 1543.9,605.0 1544.6,605.1 1545.3,604.7 1546.0,604.7 1546.7,605.4 1547.4,604.9 1548.1,604.9 1548.8,605.3 1549.5,605.4 1550.2,605.2 1550.9,605.5 1551.6,605.0 1552.3,605.5 1553.0,605.3 1553.7,605.5 1554.4,605.5 1555.1,605.3 1555.8,605.6 1556.5,605.4 1557.2,605.1 1557.9,604.8 1558.6,605.1 1559.3,605.3 1560.0,604.7 1560.7,605.2 1561.4,605.0 1562.1,605.1 1562.8,604.6 1563.5,604.6 1564.2,605.0 1564.9,604.0 1565.6,602.7 1566.3,602.6 1566.3,601.8 1567.0,603.3 1567.7,604.6 1568.4,605.3 1569.1,605.2 1569.8,604.7 1570.5,605.1 1571.2,605.5 1571.9,605.1 1572.6,605.2 1573.3,605.4 1574.0,605.3 1574.7,605.1 1575.4,605.3 1576.1,605.2 1576.8,605.0 1577.5,604.8 1578.2,605.0 1578.9,605.7 1579.6,605.0 1580.3,605.1 1581.0,605.7 1581.7,604.8 1582.4,605.0 1583.1,605.1 1583.8,605.2 1584.5,605.1 1585.2,605.0 1585.9,604.9 1586.6,605.3 1587.3,604.9 1588.0,604.7 1588.7,605.5 1589.4,605.5 1590.1,605.1 1590.8,605.6 1591.5,604.9 1592.2,605.7 1592.9,605.4 1593.6,605.4 1594.3,604.8 1595.0,605.5 1595.7,604.9 1596.4,605.3 1597.1,605.3 1597.8,604.8 1598.5,605.1 1599.2,605.7 1599.9,605.5 1600.6,605.1 1601.3,605.7 1602.0,604.8 1602.7,605.4 1603.4,605.6 1604.1,605.6 1604.8,605.4 1605.5,605.5 1606.2,605.0 1606.9,605.6 1607.6,605.5 1608.3,605.4 1609.0,605.1 1609.7,605.5 1610.4,604.8 1611.1,605.3 1611.8,605.4 1612.5,605.1 1613.2,605.4 1613.9,604.8 1614.6,605.1 1615.3,605.3 1616.0,605.6 1616.7,605.3 1617.4,605.7 1618.1,605.2 1618.8,605.7 1619.5,605.4 1620.2,605.3 1620.9,605.0 1621.6,605.6 1622.3,605.6 1623.0,605.2 1623.7,605.1 1624.4,605.1 1625.1,605.1 1625.8,604.9 1626.5,605.7 1627.2,605.2 1627.9,605.0 1628.6,605.5 1629.3,605.0 1630.0,605.7 1630.7,604.8 1631.4,605.4 1632.1,605.5 1632.8,605.2 1633.5,605.0 1634.2,605.7 1634.9,605.4 1635.6,605.5 1636.3,605.0 1637.0,604.8 1637.7,605.7 1638.4,605.0 1639.1,604.9 1639.8,605.6 1640.5,605.4 1641.2,604.8 1641.9,605.4 1642.6,605.3 1643.3,605.7 1644.0,605.4 1644.7,605.0 1645.4,605.4 1646.1,605.6 1646.8,605.8 1647.5,605.1 1648.2,605.4 1648.9,604.8 1649.6,605.7 1650.3,604.9 1651.0,605.4 1651.7,605.5 1652.4,605.0 1653.1,605.2 1653.8,603.5 1654.5,601.5 1655.1,600.7 1655.2,599.9 1655.9,602.6 1656.6,604.4 1657.3,604.5 1658.0,605.3 1658.7,605.0 1659.4,604.9 1660.1,605.3 1660.8,605.5 1661.5,605.2 1662.2,605.2 1662.9,605.0 1663.6,605.4 1664.3,605.4 1665.0,605.7 1665.7,605.7 1666.4,604.9 1667.1,605.0 1667.8,605.0 1668.5,605.1 1669.2,605.6 1669.9,605.3 1670.6,605.6 1671.3,605.7 1672.0,605.2 1672.7,604.9 1673.4,605.1 1674.1,605.5 1674.8,605.4 1675.5,605.1 1676.2,605.6 1676.9,604.9 1677.6,605.0 1678.3,605.4 1679.0,605.5 1679.7,605.8 1680.4,605.3 1681.1,605.7 1681.8,605.3 1682.5,605.2 1683.2,605.8 1683.9,605.4 1684.6,605.6 1685.3,605.2 1686.0,605.8 1686.7,605.4 1687.4,604.9 1688.1,604.9 1688.8,605.2 1689.5,605.3 1690.2,605.0 1690.9,605.7 1691.6,605.4 1692.3,605.8 1693.0,605.5 1693.7,605.6 1694.4,605.0 1695.1,604.8 1695.8,605.0 1696.5,605.1 1697.2,604.4 1697.9,604.3 1698.6,602.4 1698.9,602.7 1699.3,602.3 1700.0,604.4 1700.7,604.7 1701.4,605.2 1702.1,605.4 1702.8,605.4 1703.5,605.1 1704.2,605.1 1704.9,605.2 1705.6,605.4 1706.3,604.9 1707.0,605.1 1707.7,604.9 1708.4,605.7 1709.1,605.6 1709.8,605.7 1710.5,605.6 1711.2,604.9 1711.9,605.2 1712.6,605.8 1713.3,605.4 1714.0,605.2 1714.7,605.0 1715.4,605.8 1716.1,605.0 1716.8,605.2 1717.5,605.2 1718.2,605.5 1718.9,605.8 1719.6,605.6 1720.3,605.8 1721.0,605.2 1721.7,605.6 1722.4,605.6 1723.1,604.9 1723.8,605.4 1724.5,605.7 1725.2,604.9 1725.9,605.1 1726.6,605.4 1727.3,605.4 1728.0,605.4 1728.7,605.7 1729.4,605.2 1730.1,605.5 1730.8,605.3 1731.5,605.6 1732.2,605.1 1732.9,605.6 1733.6,605.5 1734.3,605.2 1735.0,605.3 1735.7,604.9 1736.4,604.1 1737.1,604.2 1737.8,602.1 1738.5,595.0 1739.2,550.6 1739.6,523.4 1739.9,539.7 1740.6,591.5 1741.3,602.2 1742.0,603.5 1742.7,604.0 1743.4,604.7 1744.1,605.0 1744.8,604.8 1745.5,605.2 1746.2,605.1 1746.9,604.7 1747.6,604.8 1748.3,605.2 1749.0,605.5 1749.7,605.0 1750.4,605.8 1751.1,605.2 1751.8,605.0 1752.5,605.0 1753.2,605.8 1753.9,605.7 1754.6,605.5 1755.3,604.9 1756.0,605.5 1756.7,604.9 1757.4,605.1 1758.1,605.0 1758.8,605.6 1759.5,605.7 1760.2,605.2 1760.9,605.9 1761.6,605.5 1762.3,605.8 1763.0,605.1 1763.7,605.7 1764.4,605.5 1765.1,605.0 1765.8,605.7 1766.5,605.7 1767.2,605.3 1767.9,605.2 1768.6,605.0 1769.3,605.5 1770.0,605.2 1770.7,605.2 1771.4,605.4 1772.1,605.1 1772.8,605.6 1773.5,605.3 1774.2,605.2 1774.9,605.4 1775.6,605.4 1776.3,605.4 1777.0,605.2 1777.7,605.7 1778.4,605.8 1779.1,605.5 1779.8,605.7 1780.5,605.7 1781.2,605.2 1781.9,605.8 1782.6,605.5 1783.3,605.6 1784.0,605.5 1784.7,605.8 1785.4,605.4 1786.1,605.7 1786.8,605.2 1787.5,605.1 1788.2,605.5 1788.9,605.8 1789.6,605.1 1790.3,605.7 1791.0,605.2 1791.7,605.1 1792.4,605.8 1793.1,605.0 1793.8,605.4 1794.5,605.6 1795.2,605.6 1795.9,605.7 1796.6,605.0 1797.3,605.1 1798.0,605.2 1798.7,605.8 1799.4,605.8 1800.1,605.4 1800.8,605.2 1801.5,605.5 1802.2,605.4 1802.9,604.9 1803.6,605.5 1804.3,605.9 1805.0,605.6 1805.7,605.6 1806.4,605.0 1807.1,605.5 1807.8,605.8 1808.5,605.2 1809.2,605.2 1809.9,605.1 1810.6,605.5 1811.3,605.2 1812.0,605.7 1812.7,605.5 1813.4,605.3 1814.1,605.5 1814.8,604.9 1815.5,604.9 1816.2,604.9 1816.9,604.7 1817.6,604.3 1818.3,603.5 1819.0,598.7 1819.7,591.9 1820.2,588.8 1820.4,588.8 1821.1,595.6 1821.8,601.1 1822.5,604.1 1823.2,604.6 1823.9,604.6 1824.6,605.5 1825.3,605.1 1826.0,605.0 1826.7,605.2 1827.4,605.0 1828.1,605.1 1828.8,605.5 1829.5,605.5 1830.2,605.0 1830.9,605.6 1831.6,605.6 1832.3,605.4 1833.0,605.5 1833.7,605.5 1834.4,605.6 1835.1,605.6 1835.8,605.6 1836.5,605.3 1837.2,605.2 1837.9,604.8 1838.6,604.9 1839.3,603.7 1840.0,601.8 1840.6,600.6 1840.7,600.5 1841.4,602.0 1842.1,604.4 1842.8,605.2 1843.5,604.8 1844.2,605.0 1844.9,605.3 1845.6,605.0 1846.3,605.9 1847.0,605.0 1847.7,605.6 1848.4,605.8 1849.1,605.0 1849.8,605.4 1850.5,605.4 1851.2,605.9 1851.9,605.9 1852.6,605.5 1853.3,605.7 1854.0,605.8 1854.7,605.1 1855.4,605.1 1856.1,605.6 1856.8,605.9 1857.5,605.7 1858.2,605.9 1858.9,605.1 1859.6,605.2 1860.3,605.1 1861.0,605.5 1861.7,605.9 1862.4,605.1 1863.1,605.4 1863.8,605.4 1864.5,605.5 1865.2,605.2 1865.9,605.4 1866.6,604.9 1867.3,604.9 1868.0,605.4 1868.7,605.0 1869.4,605.5 1870.1,605.3 1870.8,605.3 1871.5,605.2 1872.2,605.7 1872.9,605.1 1873.6,605.6 1874.3,604.7 1875.0,605.0 1875.7,603.9 1876.4,602.6 1877.1,597.8 1877.7,596.8 1877.8,596.9 1878.5,600.0 1879.2,602.9 1879.9,604.8 1880.6,605.3 1881.3,605.5 1882.0,605.4 1882.7,605.6" fill="none" stroke="#3c3c3c" stroke-width="1.8" stroke-linejoin="round"/>
<polyline points="1098.7,572.5 1099.4,572.7 1100.1,573.2 1100.8,572.8 1101.5,572.9 1102.2,573.1 1102.9,572.8 1103.6,573.2 1104.3,573.4 1105.0,573.7 1105.7,573.0 1106.4,573.3 1107.1,573.2 1107.8,574.0 1108.5,574.0 1109.2,573.4 1109.9,574.4 1110.6,574.5 1111.3,574.3 1112.0,574.3 1112.7,574.0 1113.4,573.9 1114.1,574.5 1114.8,574.1 1115.5,574.3 1116.2,574.4 1116.9,574.3 1117.6,574.8 1118.3,574.9 1119.0,575.4 1119.7,575.1 1120.4,575.3 1121.1,575.3 1121.8,575.5 1122.5,575.4 1123.2,575.3 1123.9,576.1 1124.6,576.1 1125.3,576.0 1126.0,576.0 1126.7,575.7 1127.4,575.7 1128.1,575.8 1128.8,575.6 1129.5,576.4 1130.2,576.1 1130.9,576.6 1131.6,576.2 1132.3,576.9 1133.0,576.8 1133.7,576.0 1134.4,576.3 1135.1,577.1 1135.8,576.7 1136.5,577.3 1137.2,576.7 1137.9,576.5 1138.6,577.1 1139.3,577.3 1140.0,576.8 1140.7,576.7 1141.4,576.9 1142.1,577.5 1142.8,577.3 1143.5,576.5 1144.2,576.1 1144.9,575.1 1145.6,573.7 1146.3,572.8 1147.0,571.4 1147.1,571.8 1147.7,572.4 1148.4,573.8 1149.1,575.8 1149.8,576.2 1150.5,577.1 1151.2,576.5 1151.9,576.3 1152.6,575.0 1153.3,573.8 1154.0,573.8 1154.1,573.6 1154.7,573.7 1155.4,575.6 1156.1,576.3 1156.8,577.4 1157.5,578.4 1158.2,578.5 1158.9,578.2 1159.6,579.2 1160.3,578.5 1161.0,578.6 1161.7,579.2 1162.4,578.9 1163.1,578.9 1163.8,578.8 1164.5,578.8 1165.2,579.4 1165.9,579.1 1166.6,579.5 1167.3,579.4 1168.0,579.5 1168.7,580.1 1169.4,579.6 1170.1,579.8 1170.8,580.1 1171.5,579.5 1172.2,579.5 1172.9,580.3 1173.6,580.3 1174.3,579.8 1175.0,579.8 1175.7,580.4 1176.4,580.6 1177.1,579.9 1177.8,580.7 1178.5,580.7 1179.2,580.4 1179.9,580.3 1180.6,580.0 1181.3,580.0 1182.0,580.9 1182.7,580.2 1183.4,580.7 1184.1,580.1 1184.8,580.4 1185.5,579.7 1186.2,578.7 1186.9,577.9 1187.5,578.2 1187.6,577.5 1188.3,578.2 1189.0,579.4 1189.7,580.4 1190.4,580.7 1191.1,580.7 1191.8,581.5 1192.5,580.8 1193.2,580.7 1193.9,581.0 1194.6,581.3 1195.3,581.0 1196.0,581.1 1196.7,581.4 1197.4,581.6 1198.1,581.2 1198.8,581.5 1199.5,582.1 1200.2,582.2 1200.9,581.9 1201.6,582.0 1202.3,581.9 1203.0,581.5 1203.7,581.5 1204.4,581.5 1205.1,582.4 1205.8,582.2 1206.5,582.6 1207.2,581.6 1207.9,582.3 1208.6,582.2 1209.3,582.5 1210.0,582.1 1210.7,582.8 1211.4,581.9 1212.1,582.4 1212.8,582.7 1213.5,582.9 1214.2,582.7 1214.9,582.7 1215.6,582.9 1216.3,583.0 1217.0,582.5 1217.7,582.8 1218.4,583.1 1219.1,583.1 1219.8,582.7 1220.5,583.1 1221.2,583.2 1221.9,582.9 1222.6,583.0 1223.3,582.8 1224.0,583.0 1224.7,583.1 1225.4,582.6 1226.1,583.1 1226.8,583.5 1227.5,583.4 1228.2,583.3 1228.9,582.9 1229.6,583.3 1230.3,583.1 1231.0,582.9 1231.7,583.3 1232.4,582.4 1233.1,582.7 1233.8,581.4 1234.5,580.6 1235.2,578.3 1235.9,575.4 1236.6,573.9 1236.9,573.6 1237.3,574.3 1238.0,577.0 1238.7,579.0 1239.4,580.7 1240.1,582.2 1240.8,583.1 1241.5,582.9 1242.2,583.1 1242.9,583.9 1243.6,583.8 1244.3,583.6 1245.0,584.1 1245.7,583.6 1246.4,584.0 1247.1,583.6 1247.8,583.9 1248.5,584.3 1249.2,584.4 1249.9,584.4 1250.6,583.9 1251.3,584.2 1252.0,583.9 1252.7,583.8 1253.4,584.2 1254.1,584.5 1254.8,584.6 1255.5,584.4 1256.2,584.7 1256.9,584.0 1257.6,583.9 1258.3,584.2 1259.0,584.0 1259.7,583.9 1260.4,584.1 1261.1,584.2 1261.8,583.7 1262.5,582.9 1263.2,582.3 1263.9,580.9 1264.6,578.9 1265.1,578.2 1265.3,578.3 1266.0,580.3 1266.7,581.2 1267.4,583.2 1268.1,583.8 1268.8,584.0 1269.5,584.7 1270.2,584.1 1270.9,584.3 1271.6,584.7 1272.3,584.3 1273.0,585.1 1273.7,584.6 1274.4,584.5 1275.1,584.4 1275.8,585.1 1276.5,584.9 1277.2,585.1 1277.9,585.2 1278.6,585.3 1279.3,585.5 1280.0,585.3 1280.7,584.8 1281.4,585.1 1282.1,584.8 1282.8,584.7 1283.5,585.2 1284.2,585.4 1284.9,584.9 1285.6,585.0 1286.3,585.1 1287.0,585.5 1287.7,585.3 1288.4,585.4 1289.1,585.6 1289.8,585.2 1290.5,585.6 1291.2,585.8 1291.9,584.9 1292.6,585.8 1293.3,585.6 1294.0,585.0 1294.7,585.3 1295.4,585.5 1296.1,585.8 1296.8,585.2 1297.5,585.4 1298.2,585.6 1298.9,585.5 1299.6,585.6 1300.3,585.0 1301.0,585.0 1301.7,584.3 1302.4,584.3 1303.1,583.2 1303.8,580.7 1304.5,577.0 1305.2,571.7 1305.9,568.6 1306.2,568.3 1306.6,569.1 1307.3,572.8 1308.0,577.9 1308.7,581.0 1309.4,583.7 1310.1,584.7 1310.8,584.7 1311.5,584.7 1312.2,585.2 1312.9,585.5 1313.6,585.8 1314.3,585.5 1315.0,585.1 1315.7,586.0 1316.4,585.3 1317.1,586.0 1317.8,585.4 1318.5,585.6 1319.2,586.1 1319.9,585.4 1320.6,585.4 1321.3,585.8 1322.0,586.0 1322.7,586.1 1323.4,586.0 1324.1,586.2 1324.8,585.7 1325.5,586.1 1326.2,585.2 1326.9,585.3 1327.6,585.6 1328.3,585.2 1329.0,585.5 1329.7,585.3 1330.4,584.9 1331.1,584.9 1331.8,584.2 1332.5,583.2 1333.2,582.0 1333.9,579.9 1334.6,571.6 1335.3,542.3 1336.0,489.3 1336.5,471.5 1336.7,478.7 1337.4,531.7 1338.1,566.7 1338.8,578.3 1339.5,581.4 1340.2,582.9 1340.9,583.0 1341.6,584.4 1342.3,584.2 1343.0,584.1 1343.7,584.5 1344.4,584.2 1345.1,583.8 1345.8,583.6 1346.5,582.4 1347.2,581.6 1347.9,578.8 1348.6,574.1 1349.3,564.6 1350.0,550.5 1350.7,537.3 1351.3,532.2 1351.4,532.7 1352.1,541.4 1352.8,554.7 1353.5,564.8 1354.2,569.4 1354.9,567.9 1355.6,561.4 1356.3,551.6 1357.0,542.6 1357.2,542.0 1357.7,541.5 1358.4,545.3 1359.1,546.4 1359.8,543.9 1360.5,541.6 1360.6,541.9 1361.2,547.3 1361.9,557.2 1362.6,567.3 1363.3,572.7 1364.0,575.2 1364.7,572.9 1365.4,559.8 1366.1,515.3 1366.8,442.8 1367.1,429.1 1367.5,449.2 1368.2,522.7 1368.9,563.9 1369.6,576.5 1370.3,580.7 1371.0,582.5 1371.7,583.5 1372.4,584.6 1373.1,584.9 1373.8,585.5 1374.5,585.2 1375.2,585.9 1375.9,586.1 1376.6,586.4 1377.3,585.9 1378.0,586.0 1378.7,586.7 1379.4,586.0 1380.1,586.9 1380.8,586.8 1381.5,586.1 1382.2,586.2 1382.9,586.7 1383.6,586.2 1384.3,586.0 1385.0,586.7 1385.7,586.2 1386.4,586.5 1387.1,585.7 1387.8,585.8 1388.5,585.9 1389.2,584.9 1389.9,584.4 1390.6,583.6 1391.3,581.1 1392.0,575.8 1392.7,566.3 1393.4,556.2 1394.1,549.0 1394.3,548.2 1394.8,550.9 1395.5,559.9 1396.2,570.0 1396.9,577.4 1397.6,581.6 1398.3,584.2 1399.0,585.2 1399.7,585.8 1400.4,585.7 1401.1,586.0 1401.8,586.1 1402.5,586.9 1403.2,587.2 1403.9,587.2 1404.6,586.4 1405.3,586.4 1406.0,587.3 1406.7,586.7 1407.4,586.9 1408.1,586.3 1408.8,585.9 1409.5,584.9 1410.2,583.0 1410.9,580.8 1411.6,578.2 1412.0,578.6 1412.3,579.0 1413.0,580.3 1413.7,583.0 1414.4,585.2 1415.1,585.9 1415.8,586.3 1416.5,586.5 1417.2,587.0 1417.9,586.5 1418.6,587.4 1419.3,587.3 1420.0,587.2 1420.7,587.2 1421.4,586.7 1422.1,585.7 1422.8,584.6 1423.5,582.4 1424.2,580.5 1424.9,578.9 1425.0,578.3 1425.6,579.8 1426.3,582.0 1427.0,584.3 1427.7,585.9 1428.4,586.3 1429.1,587.2 1429.8,587.3 1430.5,587.2 1431.2,587.1 1431.9,586.6 1432.6,585.4 1433.3,584.3 1434.0,582.1 1434.7,581.5 1434.8,581.6 1435.4,581.8 1436.1,583.7 1436.8,585.5 1437.5,586.5 1438.2,586.7 1438.9,587.7 1439.6,587.5 1440.3,587.2 1441.0,587.6 1441.7,587.5 1442.4,587.4 1443.1,587.2 1443.8,587.6 1444.5,586.8 1445.2,585.9 1445.9,584.4 1446.6,582.5 1447.3,579.7 1447.7,580.0 1448.0,580.3 1448.7,581.5 1449.4,583.8 1450.1,585.1 1450.8,586.3 1451.5,587.0 1452.2,586.9 1452.9,587.1 1453.6,587.7 1454.3,587.1 1455.0,586.5 1455.7,586.1 1456.4,584.7 1457.1,584.4 1457.3,584.1 1457.8,584.6 1458.5,584.8 1459.2,586.4 1459.9,587.3 1460.6,587.0 1461.3,588.1 1462.0,587.5 1462.7,587.8 1463.4,587.6 1464.1,587.9 1464.8,588.1 1465.5,587.5 1466.2,588.5 1466.9,587.9 1467.6,588.1 1468.3,588.1 1469.0,587.9 1469.7,587.9 1470.4,588.2 1471.1,588.1 1471.8,587.9 1472.5,588.3 1473.2,587.9 1473.9,587.6 1474.6,587.9 1475.3,587.7 1476.0,587.8 1476.7,588.4 1477.4,588.0 1478.1,588.6 1478.8,588.4 1479.5,587.7 1480.2,588.7 1480.9,588.6 1481.6,587.8 1482.3,588.6 1483.0,588.1 1483.7,588.2 1484.4,588.7 1485.1,587.9 1485.8,588.2 1486.5,588.6 1487.2,588.4 1487.9,588.2 1488.6,588.7 1489.3,588.5 1490.0,588.3 1490.7,587.8 1491.4,588.4 1492.1,588.2 1492.8,587.9 1493.5,587.8 1494.2,588.3 1494.9,587.9 1495.6,588.2 1496.3,588.4 1497.0,588.2 1497.7,588.0 1498.4,588.3 1499.1,588.2 1499.8,588.5 1500.5,588.3 1501.2,588.7 1501.9,588.7 1502.6,588.4 1503.3,587.9 1504.0,587.8 1504.7,588.6 1505.4,588.5 1506.1,588.3 1506.8,588.0 1507.5,587.9 1508.2,588.3 1508.9,588.1 1509.6,588.1 1510.3,588.1 1511.0,588.2 1511.7,587.6 1512.4,587.6 1513.1,588.2 1513.8,588.1 1514.5,587.9 1515.2,586.9 1515.9,586.7 1516.6,586.6 1517.3,586.2 1518.0,585.5 1518.7,583.2 1519.4,579.8 1520.1,572.3 1520.8,561.8 1521.5,550.7 1522.2,544.5 1522.2,544.6 1522.9,549.6 1523.6,561.2 1524.3,571.8 1525.0,579.3 1525.7,583.7 1526.4,585.7 1527.1,585.9 1527.8,586.4 1528.5,587.5 1529.2,587.5 1529.9,587.8 1530.6,587.4 1531.3,587.8 1532.0,587.7 1532.7,588.3 1533.4,587.9 1534.1,588.3 1534.8,588.6 1535.5,588.0 1536.2,588.3 1536.9,588.5 1537.6,588.7 1538.3,588.2 1539.0,588.2 1539.7,587.9 1540.4,588.7 1541.1,588.0 1541.8,588.0 1542.5,588.5 1543.2,588.4 1543.9,588.6 1544.6,588.2 1545.3,588.7 1546.0,588.0 1546.7,588.2 1547.4,588.6 1548.1,588.1 1548.8,588.3 1549.5,588.7 1550.2,588.7 1550.9,588.3 1551.6,588.1 1552.3,588.4 1553.0,588.7 1553.7,588.4 1554.4,588.1 1555.1,588.7 1555.8,588.6 1556.5,588.9 1557.2,589.0 1557.9,588.9 1558.6,588.4 1559.3,588.8 1560.0,588.3 1560.7,588.3 1561.4,588.4 1562.1,588.9 1562.8,588.7 1563.5,587.9 1564.2,587.7 1564.9,587.2 1565.6,586.7 1566.3,586.5 1566.3,586.5 1567.0,586.6 1567.7,587.5 1568.4,588.2 1569.1,588.2 1569.8,588.7 1570.5,588.5 1571.2,588.2 1571.9,588.8 1572.6,588.9 1573.3,588.4 1574.0,588.1 1574.7,588.6 1575.4,588.6 1576.1,588.7 1576.8,589.1 1577.5,588.8 1578.2,588.9 1578.9,588.2 1579.6,588.7 1580.3,588.9 1581.0,588.2 1581.7,588.2 1582.4,588.9 1583.1,589.0 1583.8,588.2 1584.5,588.8 1585.2,588.3 1585.9,588.9 1586.6,588.8 1587.3,588.4 1588.0,588.4 1588.7,588.9 1589.4,588.7 1590.1,588.9 1590.8,588.6 1591.5,588.5 1592.2,589.1 1592.9,588.8 1593.6,588.7 1594.3,588.7 1595.0,588.9 1595.7,588.9 1596.4,589.1 1597.1,588.6 1597.8,589.0 1598.5,588.9 1599.2,589.0 1599.9,589.0 1600.6,589.0 1601.3,589.1 1602.0,589.2 1602.7,588.8 1603.4,588.7 1604.1,588.9 1604.8,589.0 1605.5,588.6 1606.2,588.6 1606.9,588.3 1607.6,588.9 1608.3,589.2 1609.0,588.6 1609.7,588.4 1610.4,588.4 1611.1,588.6 1611.8,588.5 1612.5,589.2 1613.2,588.3 1613.9,588.5 1614.6,588.3 1615.3,588.8 1616.0,589.0 1616.7,588.4 1617.4,588.3 1618.1,588.6 1618.8,588.8 1619.5,589.1 1620.2,588.2 1620.9,588.3 1621.6,588.4 1622.3,588.4 1623.0,588.4 1623.7,588.9 1624.4,588.7 1625.1,588.3 1625.8,588.3 1626.5,588.3 1627.2,588.2 1627.9,588.7 1628.6,588.1 1629.3,588.1 1630.0,587.8 1630.7,586.5 1631.4,584.6 1632.1,583.4 1632.8,582.2 1633.0,581.6 1633.5,582.4 1634.2,584.6 1634.9,585.9 1635.6,586.9 1636.3,587.4 1637.0,588.7 1637.7,588.7 1638.4,588.3 1639.1,588.5 1639.8,588.6 1640.5,588.4 1641.2,589.1 1641.9,588.8 1642.6,588.4 1643.3,588.1 1644.0,588.6 1644.7,588.5 1645.4,588.9 1646.1,588.8 1646.8,588.7 1647.5,588.3 1648.2,588.2 1648.9,588.4 1649.6,588.3 1650.3,588.8 1651.0,588.3 1651.7,588.1 1652.4,587.9 1653.1,586.1 1653.8,584.9 1654.5,582.9 1655.1,583.0 1655.2,582.3 1655.9,584.1 1656.6,585.7 1657.3,587.1 1658.0,587.2 1658.7,587.9 1659.4,588.6 1660.1,588.0 1660.8,588.5 1661.5,588.5 1662.2,589.0 1662.9,588.7 1663.6,588.9 1664.3,588.4 1665.0,588.9 1665.7,588.5 1666.4,589.0 1667.1,588.1 1667.8,588.8 1668.5,588.2 1669.2,588.4 1669.9,588.3 1670.6,587.8 1671.3,588.3 1672.0,587.3 1672.7,586.3 1673.4,584.2 1674.1,581.5 1674.8,578.1 1675.5,576.1 1675.7,575.7 1676.2,577.0 1676.9,579.7 1677.6,583.3 1678.3,585.8 1679.0,587.6 1679.7,588.1 1680.4,588.3 1681.1,587.8 1681.8,588.3 1682.5,588.7 1683.2,588.3 1683.9,588.6 1684.6,588.6 1685.3,588.1 1686.0,589.1 1686.7,589.0 1687.4,588.4 1688.1,588.8 1688.8,588.5 1689.5,588.6 1690.2,588.7 1690.9,588.5 1691.6,588.5 1692.3,588.5 1693.0,588.8 1693.7,588.4 1694.4,588.2 1695.1,588.7 1695.8,588.0 1696.5,588.1 1697.2,586.9 1697.9,586.0 1698.6,584.7 1698.9,585.1 1699.3,584.5 1700.0,585.5 1700.7,586.5 1701.4,587.9 1702.1,588.4 1702.8,588.1 1703.5,588.5 1704.2,589.0 1704.9,588.8 1705.6,588.3 1706.3,588.4 1707.0,588.4 1707.7,588.3 1708.4,588.6 1709.1,588.3 1709.8,589.2 1710.5,588.7 1711.2,588.8 1711.9,588.9 1712.6,589.0 1713.3,589.1 1714.0,588.6 1714.7,588.6 1715.4,588.6 1716.1,588.2 1716.8,588.6 1717.5,588.9 1718.2,589.2 1718.9,589.0 1719.6,588.8 1720.3,588.8 1721.0,588.2 1721.7,588.5 1722.4,588.5 1723.1,588.8 1723.8,588.2 1724.5,588.4 1725.2,588.5 1725.9,588.8 1726.6,588.8 1727.3,588.5 1728.0,588.0 1728.7,588.6 1729.4,588.6 1730.1,588.2 1730.8,587.9 1731.5,587.9 1732.2,587.3 1732.9,587.6 1733.6,587.6 1734.3,586.6 1735.0,586.0 1735.7,584.6 1736.4,580.8 1737.1,575.1 1737.8,563.9 1738.5,548.9 1739.2,536.1 1739.6,533.6 1739.9,535.3 1740.6,546.9 1741.3,561.3 1742.0,573.6 1742.7,580.1 1743.4,583.9 1744.1,585.2 1744.8,587.0 1745.5,586.6 1746.2,587.8 1746.9,587.7 1747.6,587.9 1748.3,588.1 1749.0,587.9 1749.7,588.6 1750.4,588.8 1751.1,588.7 1751.8,588.5 1752.5,588.1 1753.2,588.8 1753.9,588.3 1754.6,589.0 1755.3,588.4 1756.0,588.7 1756.7,589.0 1757.4,588.4 1758.1,588.7 1758.8,588.3 1759.5,588.3 1760.2,588.4 1760.9,589.2 1761.6,589.2 1762.3,588.9 1763.0,588.6 1763.7,588.9 1764.4,589.0 1765.1,588.7 1765.8,588.9 1766.5,589.1 1767.2,588.3 1767.9,588.5 1768.6,588.8 1769.3,588.5 1770.0,588.7 1770.7,588.9 1771.4,588.5 1772.1,588.8 1772.8,588.6 1773.5,588.9 1774.2,588.7 1774.9,589.0 1775.6,588.4 1776.3,589.0 1777.0,588.5 1777.7,589.3 1778.4,588.9 1779.1,588.8 1779.8,588.7 1780.5,588.9 1781.2,589.0 1781.9,589.1 1782.6,589.0 1783.3,588.8 1784.0,589.3 1784.7,589.1 1785.4,589.1 1786.1,588.7 1786.8,588.7 1787.5,588.8 1788.2,589.1 1788.9,588.7 1789.6,588.6 1790.3,588.5 1791.0,588.9 1791.7,588.2 1792.4,587.8 1793.1,588.3 1793.8,588.1 1794.5,587.2 1795.2,585.5 1795.9,582.9 1796.6,578.6 1797.3,575.1 1797.8,573.4 1798.0,573.6 1798.7,576.6 1799.4,580.7 1800.1,584.0 1800.8,585.8 1801.5,587.6 1802.2,587.9 1802.9,587.9 1803.6,588.1 1804.3,588.3 1805.0,588.2 1805.7,588.1 1806.4,589.0 1807.1,589.1 1807.8,588.8 1808.5,589.0 1809.2,588.6 1809.9,588.9 1810.6,588.3 1811.3,588.8 1812.0,588.6 1812.7,588.9 1813.4,588.1 1814.1,588.7 1814.8,587.9 1815.5,588.2 1816.2,588.2 1816.9,586.5 1817.6,585.3 1818.3,582.8 1819.0,579.2 1819.7,575.4 1820.2,575.3 1820.4,575.3 1821.1,577.5 1821.8,581.3 1822.5,584.6 1823.2,586.0 1823.9,587.1 1824.6,588.4 1825.3,588.1 1826.0,588.4 1826.7,588.9 1827.4,589.0 1828.1,588.6 1828.8,588.4 1829.5,588.5 1830.2,589.1 1830.9,589.1 1831.6,588.4 1832.3,589.1 1833.0,588.6 1833.7,588.7 1834.4,588.4 1835.1,589.1 1835.8,589.1 1836.5,588.3 1837.2,588.5 1837.9,587.7 1838.6,587.6 1839.3,585.8 1840.0,584.8 1840.6,585.1 1840.7,584.7 1841.4,586.0 1842.1,587.1 1842.8,587.8 1843.5,587.8 1844.2,588.7 1844.9,589.1 1845.6,588.7 1846.3,588.3 1847.0,588.5 1847.7,588.6 1848.4,589.0 1849.1,588.5 1849.8,588.5 1850.5,588.6 1851.2,589.0 1851.9,589.2 1852.6,588.7 1853.3,589.0 1854.0,589.3 1854.7,589.0 1855.4,588.6 1856.1,588.7 1856.8,589.3 1857.5,589.1 1858.2,588.7 1858.9,589.0 1859.6,588.5 1860.3,589.4 1861.0,588.8 1861.7,588.9 1862.4,588.9 1863.1,588.4 1863.8,589.0 1864.5,588.6 1865.2,588.6 1865.9,589.1 1866.6,588.4 1867.3,588.6 1868.0,589.1 1868.7,588.5 1869.4,588.5 1870.1,588.8 1870.8,588.4 1871.5,589.0 1872.2,589.0 1872.9,587.9 1873.6,588.1 1874.3,587.8 1875.0,586.3 1875.7,584.9 1876.4,581.6 1877.1,578.5 1877.7,578.0 1877.8,578.2 1878.5,579.8 1879.2,583.1 1879.9,585.7 1880.6,587.0 1881.3,587.9 1882.0,588.6 1882.7,588.6" fill="none" stroke="#ee2222" stroke-width="1.8" stroke-linejoin="round"/>
<polyline points="1098.7,552.8 1099.4,553.0 1100.1,553.1 1100.8,552.6 1101.5,552.6 1102.2,553.0 1102.9,552.9 1103.6,553.5 1104.3,553.5 1105.0,553.5 1105.7,553.5 1106.4,553.6 1107.1,553.2 1107.8,553.5 1108.5,553.3 1109.2,554.1 1109.9,553.3 1110.6,554.2 1111.3,553.5 1112.0,554.1 1112.7,553.8 1113.4,554.0 1114.1,554.5 1114.8,553.7 1115.5,553.8 1116.2,554.7 1116.9,554.4 1117.6,554.0 1118.3,554.9 1119.0,555.0 1119.7,554.2 1120.4,554.5 1121.1,554.3 1121.8,554.5 1122.5,554.9 1123.2,554.5 1123.9,555.1 1124.6,554.5 1125.3,554.6 1126.0,555.3 1126.7,555.0 1127.4,555.0 1128.1,555.3 1128.8,555.2 1129.5,555.2 1130.2,554.8 1130.9,555.6 1131.6,555.9 1132.3,555.9 1133.0,555.7 1133.7,555.4 1134.4,555.4 1135.1,555.8 1135.8,555.8 1136.5,555.3 1137.2,555.5 1137.9,555.6 1138.6,555.8 1139.3,556.1 1140.0,555.8 1140.7,555.4 1141.4,556.2 1142.1,555.8 1142.8,555.8 1143.5,555.3 1144.2,555.1 1144.9,554.3 1145.6,553.5 1146.3,551.5 1147.0,551.3 1147.1,550.9 1147.7,552.0 1148.4,552.6 1149.1,554.0 1149.8,554.7 1150.5,555.0 1151.2,553.8 1151.9,552.5 1152.6,549.6 1153.3,546.5 1154.0,544.8 1154.1,545.3 1154.7,545.9 1155.4,549.5 1156.1,551.8 1156.8,554.8 1157.5,555.4 1158.2,555.9 1158.9,556.8 1159.6,557.1 1160.3,556.4 1161.0,556.7 1161.7,557.3 1162.4,557.0 1163.1,557.0 1163.8,556.8 1164.5,556.9 1165.2,557.5 1165.9,557.9 1166.6,558.0 1167.3,557.6 1168.0,557.1 1168.7,557.5 1169.4,558.0 1170.1,558.1 1170.8,557.9 1171.5,557.5 1172.2,557.9 1172.9,557.9 1173.6,558.1 1174.3,557.7 1175.0,558.4 1175.7,558.4 1176.4,557.7 1177.1,557.9 1177.8,558.5 1178.5,558.0 1179.2,558.7 1179.9,558.3 1180.6,558.5 1181.3,558.5 1182.0,558.1 1182.7,558.2 1183.4,558.2 1184.1,558.6 1184.8,558.7 1185.5,558.2 1186.2,558.9 1186.9,558.5 1187.6,558.4 1188.3,558.6 1189.0,559.2 1189.7,558.8 1190.4,558.9 1191.1,559.2 1191.8,559.3 1192.5,559.1 1193.2,558.8 1193.9,559.0 1194.6,559.3 1195.3,559.2 1196.0,559.1 1196.7,558.9 1197.4,558.9 1198.1,559.3 1198.8,559.2 1199.5,558.6 1200.2,559.4 1200.9,559.6 1201.6,559.5 1202.3,559.6 1203.0,559.7 1203.7,559.3 1204.4,559.6 1205.1,559.2 1205.8,559.0 1206.5,559.3 1207.2,559.2 1207.9,559.9 1208.6,559.7 1209.3,559.5 1210.0,559.6 1210.7,559.2 1211.4,559.6 1212.1,559.8 1212.8,559.5 1213.5,559.4 1214.2,559.6 1214.9,559.5 1215.6,559.9 1216.3,559.4 1217.0,559.3 1217.7,559.6 1218.4,560.0 1219.1,560.1 1219.8,560.0 1220.5,560.3 1221.2,559.7 1221.9,559.4 1222.6,559.9 1223.3,559.8 1224.0,559.6 1224.7,560.1 1225.4,559.8 1226.1,559.7 1226.8,559.7 1227.5,560.4 1228.2,559.4 1228.9,559.7 1229.6,559.6 1230.3,559.5 1231.0,559.6 1231.7,559.2 1232.4,559.6 1233.1,558.6 1233.8,557.6 1234.5,554.7 1235.2,551.1 1235.9,546.4 1236.6,543.1 1236.9,542.2 1237.3,543.5 1238.0,548.2 1238.7,552.9 1239.4,555.8 1240.1,558.1 1240.8,559.4 1241.5,559.5 1242.2,560.0 1242.9,560.2 1243.6,560.6 1244.3,560.3 1245.0,560.5 1245.7,560.3 1246.4,560.7 1247.1,560.3 1247.8,560.6 1248.5,560.5 1249.2,560.4 1249.9,560.3 1250.6,560.4 1251.3,560.8 1252.0,560.5 1252.7,560.3 1253.4,561.1 1254.1,560.6 1254.8,561.3 1255.5,561.0 1256.2,560.8 1256.9,561.3 1257.6,561.3 1258.3,560.7 1259.0,560.5 1259.7,561.0 1260.4,561.2 1261.1,560.9 1261.8,560.8 1262.5,560.0 1263.2,559.5 1263.9,558.1 1264.6,557.3 1265.1,557.0 1265.3,557.1 1266.0,557.9 1266.7,559.5 1267.4,559.7 1268.1,560.3 1268.8,560.6 1269.5,561.5 1270.2,561.1 1270.9,560.7 1271.6,561.5 1272.3,561.6 1273.0,561.6 1273.7,561.2 1274.4,561.6 1275.1,561.2 1275.8,561.0 1276.5,561.8 1277.2,561.7 1277.9,561.1 1278.6,561.8 1279.3,561.0 1280.0,561.3 1280.7,561.0 1281.4,561.2 1282.1,561.2 1282.8,561.7 1283.5,561.3 1284.2,561.3 1284.9,561.3 1285.6,561.4 1286.3,562.0 1287.0,561.7 1287.7,561.2 1288.4,561.8 1289.1,561.7 1289.8,561.6 1290.5,561.7 1291.2,561.8 1291.9,562.0 1292.6,561.7 1293.3,561.8 1294.0,561.7 1294.7,561.8 1295.4,561.6 1296.1,561.6 1296.8,561.7 1297.5,561.9 1298.2,561.5 1298.9,562.1 1299.6,561.6 1300.3,561.9 1301.0,561.7 1301.7,561.9 1302.4,561.4 1303.1,560.6 1303.8,559.5 1304.5,558.1 1305.2,556.1 1305.9,554.5 1306.2,553.6 1306.6,553.9 1307.3,555.8 1308.0,557.9 1308.7,559.4 1309.4,560.3 1310.1,561.1 1310.8,561.1 1311.5,561.8 1312.2,561.8 1312.9,562.2 1313.6,562.3 1314.3,562.1 1315.0,562.3 1315.7,561.4 1316.4,561.6 1317.1,562.3 1317.8,561.9 1318.5,561.6 1319.2,562.2 1319.9,561.8 1320.6,561.9 1321.3,561.7 1322.0,561.6 1322.7,561.4 1323.4,561.9 1324.1,562.2 1324.8,562.2 1325.5,562.0 1326.2,562.1 1326.9,561.4 1327.6,561.2 1328.3,561.7 1329.0,561.3 1329.7,561.1 1330.4,560.1 1331.1,559.9 1331.8,559.5 1332.5,558.8 1333.2,557.3 1333.9,553.8 1334.6,542.3 1335.3,504.3 1336.0,433.3 1336.5,409.6 1336.7,419.3 1337.4,489.5 1338.1,537.1 1338.8,552.0 1339.5,556.1 1340.2,557.8 1340.9,559.0 1341.6,559.8 1342.3,559.7 1343.0,560.4 1343.7,560.9 1344.4,560.7 1345.1,560.1 1345.8,560.1 1346.5,559.4 1347.2,559.3 1347.9,557.6 1348.6,553.8 1349.3,548.2 1350.0,539.7 1350.7,531.2 1351.3,528.0 1351.4,528.1 1352.1,533.5 1352.8,542.6 1353.5,548.7 1354.2,552.1 1354.9,551.6 1355.6,547.7 1356.3,542.4 1357.0,537.6 1357.2,537.1 1357.7,537.2 1358.4,539.2 1359.1,540.3 1359.8,538.0 1360.5,536.8 1360.6,537.3 1361.2,539.8 1361.9,545.4 1362.6,550.3 1363.3,552.0 1364.0,551.4 1364.7,545.3 1365.4,534.9 1366.1,521.6 1366.8,510.7 1367.1,508.9 1367.5,510.7 1368.2,523.2 1368.9,537.2 1369.6,548.6 1370.3,554.3 1371.0,557.5 1371.7,559.5 1372.4,560.3 1373.1,560.8 1373.8,561.1 1374.5,561.8 1375.2,561.5 1375.9,562.2 1376.6,561.8 1377.3,562.0 1378.0,562.0 1378.7,562.4 1379.4,562.5 1380.1,562.0 1380.8,562.4 1381.5,562.6 1382.2,562.4 1382.9,562.6 1383.6,562.5 1384.3,562.6 1385.0,562.3 1385.7,562.2 1386.4,561.9 1387.1,562.7 1387.8,562.5 1388.5,562.0 1389.2,562.4 1389.9,562.1 1390.6,560.9 1391.3,560.8 1392.0,558.5 1392.7,551.7 1393.4,531.2 1394.1,503.5 1394.3,500.5 1394.8,512.3 1395.5,540.9 1396.2,555.4 1396.9,559.3 1397.6,560.5 1398.3,561.9 1399.0,561.8 1399.7,562.2 1400.4,562.5 1401.1,562.9 1401.8,562.2 1402.5,562.4 1403.2,563.1 1403.9,563.1 1404.6,563.2 1405.3,562.8 1406.0,562.6 1406.7,562.4 1407.4,563.1 1408.1,562.8 1408.8,562.2 1409.5,561.7 1410.2,560.0 1410.9,558.7 1411.6,557.7 1412.0,556.7 1412.3,557.4 1413.0,558.3 1413.7,560.5 1414.4,561.8 1415.1,562.3 1415.8,562.5 1416.5,562.3 1417.2,562.8 1417.9,562.7 1418.6,562.8 1419.3,562.4 1420.0,563.2 1420.7,562.8 1421.4,562.6 1422.1,562.4 1422.8,561.6 1423.5,559.8 1424.2,558.2 1424.9,557.6 1425.0,557.1 1425.6,558.2 1426.3,558.8 1427.0,561.1 1427.7,561.9 1428.4,562.5 1429.1,563.2 1429.8,562.5 1430.5,562.7 1431.2,563.0 1431.9,562.6 1432.6,561.8 1433.3,561.2 1434.0,560.0 1434.7,559.6 1434.8,559.4 1435.4,559.5 1436.1,560.4 1436.8,561.2 1437.5,562.0 1438.2,562.3 1438.9,563.4 1439.6,562.6 1440.3,563.1 1441.0,562.6 1441.7,563.4 1442.4,562.9 1443.1,562.3 1443.8,562.7 1444.5,562.0 1445.2,560.8 1445.9,557.6 1446.6,554.6 1447.3,552.1 1447.7,551.2 1448.0,551.8 1448.7,554.4 1449.4,557.7 1450.1,560.3 1450.8,561.8 1451.5,562.2 1452.2,563.0 1452.9,562.9 1453.6,562.7 1454.3,562.7 1455.0,563.3 1455.7,563.1 1456.4,562.9 1457.1,563.3 1457.8,563.2 1458.5,563.2 1459.2,563.4 1459.9,563.4 1460.6,563.4 1461.3,563.9 1462.0,563.8 1462.7,563.2 1463.4,563.8 1464.1,563.2 1464.8,563.8 1465.5,562.9 1466.2,563.1 1466.9,563.7 1467.6,563.3 1468.3,563.2 1469.0,562.4 1469.7,561.6 1470.4,561.2 1471.1,558.4 1471.8,556.4 1472.5,555.5 1472.6,555.9 1473.2,556.7 1473.9,559.1 1474.6,560.9 1475.3,561.9 1476.0,563.1 1476.7,562.9 1477.4,562.8 1478.1,563.8 1478.8,563.8 1479.5,563.6 1480.2,563.4 1480.9,563.2 1481.6,563.2 1482.3,563.1 1483.0,563.2 1483.7,563.6 1484.4,564.0 1485.1,564.0 1485.8,563.6 1486.5,563.8 1487.2,563.6 1487.9,563.9 1488.6,563.8 1489.3,564.1 1490.0,564.0 1490.7,563.8 1491.4,563.7 1492.1,563.3 1492.8,563.6 1493.5,563.6 1494.2,563.3 1494.9,563.4 1495.6,563.6 1496.3,563.4 1497.0,563.8 1497.7,563.5 1498.4,564.2 1499.1,563.9 1499.8,563.7 1500.5,563.6 1501.2,563.6 1501.9,563.4 1502.6,564.2 1503.3,564.1 1504.0,563.8 1504.7,563.8 1505.4,563.3 1506.1,563.7 1506.8,563.4 1507.5,563.5 1508.2,563.8 1508.9,563.3 1509.6,563.4 1510.3,563.9 1511.0,563.6 1511.7,564.0 1512.4,563.3 1513.1,563.2 1513.8,564.0 1514.5,563.6 1515.2,563.6 1515.9,563.4 1516.6,562.9 1517.3,563.6 1518.0,562.8 1518.7,562.7 1519.4,560.7 1520.1,558.6 1520.8,555.5 1521.5,551.5 1522.2,550.2 1522.2,549.6 1522.9,551.1 1523.6,554.8 1524.3,558.4 1525.0,561.4 1525.7,562.6 1526.4,563.0 1527.1,563.1 1527.8,562.8 1528.5,563.7 1529.2,563.1 1529.9,563.2 1530.6,563.5 1531.3,564.0 1532.0,563.3 1532.7,563.3 1533.4,564.1 1534.1,563.2 1534.8,564.0 1535.5,563.4 1536.2,563.6 1536.9,563.5 1537.6,563.7 1538.3,564.2 1539.0,564.1 1539.7,563.8 1540.4,563.4 1541.1,563.5 1541.8,563.6 1542.5,564.1 1543.2,564.2 1543.9,563.4 1544.6,563.7 1545.3,564.3 1546.0,563.5 1546.7,563.4 1547.4,563.6 1548.1,564.2 1548.8,563.6 1549.5,564.1 1550.2,563.5 1550.9,564.0 1551.6,563.5 1552.3,564.0 1553.0,564.1 1553.7,564.2 1554.4,563.8 1555.1,564.3 1555.8,563.8 1556.5,564.3 1557.2,564.3 1557.9,564.3 1558.6,563.4 1559.3,563.6 1560.0,564.0 1560.7,564.2 1561.4,563.5 1562.1,564.0 1562.8,563.6 1563.5,562.8 1564.2,562.4 1564.9,561.6 1565.6,561.0 1566.3,561.4 1566.3,561.1 1567.0,561.7 1567.7,562.5 1568.4,562.7 1569.1,563.5 1569.8,563.8 1570.5,563.9 1571.2,563.4 1571.9,564.2 1572.6,563.5 1573.3,563.8 1574.0,564.1 1574.7,564.1 1575.4,564.2 1576.1,563.7 1576.8,563.7 1577.5,564.1 1578.2,563.5 1578.9,564.3 1579.6,563.7 1580.3,563.8 1581.0,563.7 1581.7,564.2 1582.4,563.6 1583.1,563.6 1583.8,563.5 1584.5,563.6 1585.2,564.1 1585.9,564.4 1586.6,563.5 1587.3,563.9 1588.0,563.8 1588.7,563.8 1589.4,563.8 1590.1,563.6 1590.8,563.9 1591.5,563.7 1592.2,563.5 1592.9,563.6 1593.6,564.4 1594.3,564.2 1595.0,564.5 1595.7,564.3 1596.4,564.2 1597.1,563.7 1597.8,563.6 1598.5,564.5 1599.2,564.2 1599.9,564.2 1600.6,563.6 1601.3,564.3 1602.0,564.0 1602.7,563.6 1603.4,563.7 1604.1,564.4 1604.8,564.1 1605.5,563.6 1606.2,563.6 1606.9,564.2 1607.6,563.8 1608.3,564.0 1609.0,563.6 1609.7,563.7 1610.4,564.0 1611.1,563.9 1611.8,563.7 1612.5,563.6 1613.2,563.9 1613.9,563.6 1614.6,563.5 1615.3,563.9 1616.0,563.5 1616.7,564.2 1617.4,564.2 1618.1,564.2 1618.8,564.4 1619.5,563.6 1620.2,563.8 1620.9,563.8 1621.6,563.5 1622.3,564.2 1623.0,563.4 1623.7,564.3 1624.4,564.0 1625.1,564.3 1625.8,563.3 1626.5,564.1 1627.2,564.1 1627.9,563.7 1628.6,563.3 1629.3,563.0 1630.0,561.9 1630.7,560.5 1631.4,557.5 1632.1,554.2 1632.8,552.0 1633.0,552.2 1633.5,553.1 1634.2,556.5 1634.9,559.4 1635.6,561.1 1636.3,562.7 1637.0,562.8 1637.7,563.4 1638.4,563.6 1639.1,563.9 1639.8,563.3 1640.5,563.4 1641.2,563.5 1641.9,564.0 1642.6,563.5 1643.3,563.9 1644.0,564.3 1644.7,563.8 1645.4,563.6 1646.1,564.0 1646.8,563.8 1647.5,563.9 1648.2,563.6 1648.9,564.1 1649.6,563.7 1650.3,564.4 1651.0,563.8 1651.7,563.9 1652.4,564.0 1653.1,563.7 1653.8,562.2 1654.5,562.6 1655.1,561.6 1655.2,562.4 1655.9,562.6 1656.6,562.6 1657.3,563.5 1658.0,563.7 1658.7,563.7 1659.4,564.0 1660.1,563.8 1660.8,564.0 1661.5,564.1 1662.2,563.4 1662.9,564.0 1663.6,564.1 1664.3,564.2 1665.0,563.9 1665.7,563.8 1666.4,563.4 1667.1,563.4 1667.8,564.1 1668.5,563.1 1669.2,563.9 1669.9,563.0 1670.6,563.0 1671.3,562.9 1672.0,561.6 1672.7,560.5 1673.4,557.9 1674.1,553.0 1674.8,547.4 1675.5,543.8 1675.7,544.5 1676.2,545.3 1676.9,550.9 1677.6,556.0 1678.3,559.3 1679.0,561.6 1679.7,562.7 1680.4,562.7 1681.1,563.0 1681.8,563.9 1682.5,563.3 1683.2,563.6 1683.9,563.7 1684.6,564.1 1685.3,564.2 1686.0,564.1 1686.7,564.0 1687.4,563.9 1688.1,563.5 1688.8,564.0 1689.5,563.9 1690.2,564.2 1690.9,563.9 1691.6,563.6 1692.3,563.9 1693.0,564.3 1693.7,564.0 1694.4,564.2 1695.1,563.6 1695.8,563.8 1696.5,563.8 1697.2,564.0 1697.9,563.7 1698.6,564.5 1699.3,563.9 1700.0,563.6 1700.7,563.8 1701.4,564.1 1702.1,564.2 1702.8,564.4 1703.5,563.6 1704.2,564.5 1704.9,564.4 1705.6,564.1 1706.3,564.2 1707.0,563.9 1707.7,563.7 1708.4,563.6 1709.1,564.5 1709.8,564.5 1710.5,564.0 1711.2,564.2 1711.9,564.0 1712.6,564.3 1713.3,563.7 1714.0,564.3 1714.7,563.7 1715.4,564.2 1716.1,564.2 1716.8,564.4 1717.5,564.2 1718.2,563.7 1718.9,564.4 1719.6,563.9 1720.3,564.1 1721.0,564.4 1721.7,564.5 1722.4,563.7 1723.1,564.0 1723.8,563.9 1724.5,564.4 1725.2,563.9 1725.9,564.4 1726.6,564.3 1727.3,563.9 1728.0,564.3 1728.7,564.2 1729.4,563.6 1730.1,563.7 1730.8,563.6 1731.5,564.2 1732.2,563.7 1732.9,563.6 1733.6,563.9 1734.3,564.1 1735.0,563.1 1735.7,563.3 1736.4,562.1 1737.1,561.3 1737.8,558.9 1738.5,555.7 1739.2,552.8 1739.6,551.7 1739.9,552.8 1740.6,554.5 1741.3,558.2 1742.0,561.1 1742.7,562.0 1743.4,563.0 1744.1,563.6 1744.8,563.7 1745.5,563.5 1746.2,563.7 1746.9,564.2 1747.6,564.1 1748.3,563.6 1749.0,564.1 1749.7,564.3 1750.4,564.1 1751.1,564.4 1751.8,563.8 1752.5,563.8 1753.2,564.4 1753.9,563.8 1754.6,563.7 1755.3,563.7 1756.0,564.4 1756.7,564.4 1757.4,563.8 1758.1,564.3 1758.8,563.8 1759.5,564.2 1760.2,563.6 1760.9,564.2 1761.6,564.3 1762.3,564.1 1763.0,564.2 1763.7,563.7 1764.4,564.0 1765.1,564.4 1765.8,564.0 1766.5,564.3 1767.2,564.2 1767.9,564.4 1768.6,564.3 1769.3,563.9 1770.0,564.4 1770.7,564.4 1771.4,564.0 1772.1,564.3 1772.8,564.0 1773.5,564.2 1774.2,563.9 1774.9,564.0 1775.6,563.9 1776.3,564.5 1777.0,564.2 1777.7,564.2 1778.4,564.1 1779.1,564.0 1779.8,563.7 1780.5,564.2 1781.2,564.0 1781.9,563.9 1782.6,564.0 1783.3,563.6 1784.0,564.1 1784.7,564.3 1785.4,563.8 1786.1,563.6 1786.8,564.4 1787.5,564.0 1788.2,563.7 1788.9,563.4 1789.6,563.8 1790.3,563.4 1791.0,563.9 1791.7,563.6 1792.4,563.0 1793.1,562.8 1793.8,561.9 1794.5,560.9 1795.2,558.9 1795.9,555.0 1796.6,548.6 1797.3,543.4 1797.8,540.9 1798.0,540.9 1798.7,545.8 1799.4,551.5 1800.1,556.6 1800.8,560.1 1801.5,562.0 1802.2,562.4 1802.9,562.7 1803.6,563.4 1804.3,563.6 1805.0,563.7 1805.7,563.3 1806.4,564.1 1807.1,563.7 1807.8,563.9 1808.5,564.3 1809.2,563.5 1809.9,563.9 1810.6,563.9 1811.3,564.1 1812.0,563.7 1812.7,563.7 1813.4,563.7 1814.1,564.0 1814.8,563.7 1815.5,564.3 1816.2,564.2 1816.9,563.9 1817.6,563.3 1818.3,563.1 1819.0,562.1 1819.7,561.6 1820.2,561.6 1820.4,560.8 1821.1,561.9 1821.8,562.9 1822.5,563.1 1823.2,563.4 1823.9,563.4 1824.6,564.3 1825.3,563.7 1826.0,563.5 1826.7,563.6 1827.4,564.1 1828.1,564.3 1828.8,564.5 1829.5,564.3 1830.2,563.7 1830.9,564.5 1831.6,564.5 1832.3,564.4 1833.0,564.5 1833.7,564.4 1834.4,564.3 1835.1,564.4 1835.8,563.6 1836.5,564.6 1837.2,563.6 1837.9,564.1 1838.6,564.2 1839.3,564.1 1840.0,564.0 1840.7,564.1 1841.4,563.9 1842.1,564.3 1842.8,563.7 1843.5,564.0 1844.2,564.3 1844.9,564.1 1845.6,563.7 1846.3,564.1 1847.0,564.6 1847.7,564.2 1848.4,564.4 1849.1,564.0 1849.8,564.6 1850.5,564.2 1851.2,564.4 1851.9,564.3 1852.6,564.4 1853.3,564.0 1854.0,564.6 1854.7,564.6 1855.4,564.5 1856.1,564.5 1856.8,564.0 1857.5,564.0 1858.2,564.5 1858.9,564.4 1859.6,564.2 1860.3,564.2 1861.0,563.6 1861.7,564.1 1862.4,563.6 1863.1,564.1 1863.8,563.8 1864.5,564.2 1865.2,563.7 1865.9,563.9 1866.6,564.3 1867.3,564.1 1868.0,563.6 1868.7,564.4 1869.4,563.4 1870.1,563.7 1870.8,564.0 1871.5,563.7 1872.2,563.7 1872.9,563.7 1873.6,562.5 1874.3,562.1 1875.0,560.2 1875.7,557.7 1876.4,553.5 1877.1,549.6 1877.7,548.5 1877.8,548.3 1878.5,551.0 1879.2,555.5 1879.9,558.7 1880.6,561.8 1881.3,562.5 1882.0,563.1 1882.7,563.8" fill="none" stroke="#1559e3" stroke-width="1.8" stroke-linejoin="round"/>
<polyline points="1098.7,484.6 1099.4,485.1 1100.1,485.1 1100.8,485.4 1101.5,484.8 1102.2,484.9 1102.9,484.9 1103.6,485.0 1104.3,485.6 1105.0,485.0 1105.7,485.5 1106.4,485.3 1107.1,485.4 1107.8,485.6 1108.5,486.1 1109.2,485.9 1109.9,485.4 1110.6,485.7 1111.3,485.6 1112.0,486.4 1112.7,486.4 1113.4,486.5 1114.1,486.6 1114.8,486.5 1115.5,486.8 1116.2,486.7 1116.9,486.2 1117.6,486.9 1118.3,486.6 1119.0,486.9 1119.7,486.8 1120.4,486.7 1121.1,486.7 1121.8,486.8 1122.5,486.7 1123.2,486.6 1123.9,487.4 1124.6,487.4 1125.3,487.6 1126.0,487.4 1126.7,487.3 1127.4,487.6 1128.1,487.0 1128.8,487.6 1129.5,487.4 1130.2,487.2 1130.9,487.3 1131.6,487.7 1132.3,487.4 1133.0,487.7 1133.7,487.9 1134.4,487.7 1135.1,487.5 1135.8,487.9 1136.5,487.7 1137.2,487.8 1137.9,487.8 1138.6,488.0 1139.3,487.7 1140.0,488.4 1140.7,488.7 1141.4,488.2 1142.1,488.6 1142.8,488.8 1143.5,488.0 1144.2,488.1 1144.9,488.8 1145.6,488.8 1146.3,488.7 1147.0,488.2 1147.7,488.4 1148.4,488.9 1149.1,488.9 1149.8,488.6 1150.5,487.8 1151.2,487.7 1151.9,486.0 1152.6,484.3 1153.3,481.3 1154.0,480.7 1154.1,480.3 1154.7,481.3 1155.4,483.1 1156.1,485.9 1156.8,487.5 1157.5,488.4 1158.2,488.6 1158.9,489.3 1159.6,489.0 1160.3,489.1 1161.0,489.1 1161.7,489.7 1162.4,489.2 1163.1,489.3 1163.8,489.2 1164.5,489.9 1165.2,489.8 1165.9,489.9 1166.6,489.4 1167.3,489.9 1168.0,489.8 1168.7,489.6 1169.4,489.6 1170.1,490.6 1170.8,489.8 1171.5,490.0 1172.2,490.0 1172.9,490.4 1173.6,489.9 1174.3,490.3 1175.0,490.3 1175.7,490.8 1176.4,490.0 1177.1,490.3 1177.8,490.5 1178.5,491.1 1179.2,490.6 1179.9,490.6 1180.6,490.9 1181.3,490.5 1182.0,490.3 1182.7,490.8 1183.4,491.2 1184.1,491.1 1184.8,490.7 1185.5,491.1 1186.2,491.3 1186.9,490.8 1187.6,491.1 1188.3,490.9 1189.0,490.9 1189.7,490.9 1190.4,490.9 1191.1,491.1 1191.8,490.8 1192.5,491.2 1193.2,490.9 1193.9,491.6 1194.6,491.5 1195.3,490.9 1196.0,491.7 1196.7,491.2 1197.4,491.5 1198.1,491.6 1198.8,491.4 1199.5,491.4 1200.2,491.5 1200.9,491.3 1201.6,492.0 1202.3,491.3 1203.0,492.1 1203.7,491.5 1204.4,491.6 1205.1,491.7 1205.8,491.4 1206.5,491.5 1207.2,491.8 1207.9,491.9 1208.6,492.3 1209.3,492.5 1210.0,491.5 1210.7,492.1 1211.4,491.7 1212.1,492.4 1212.8,491.9 1213.5,492.5 1214.2,492.2 1214.9,491.8 1215.6,491.7 1216.3,492.0 1217.0,492.6 1217.7,491.9 1218.4,492.3 1219.1,492.2 1219.8,492.2 1220.5,492.7 1221.2,492.1 1221.9,492.6 1222.6,492.6 1223.3,492.9 1224.0,492.4 1224.7,492.9 1225.4,492.4 1226.1,492.5 1226.8,492.6 1227.5,492.8 1228.2,492.8 1228.9,492.0 1229.6,492.0 1230.3,492.3 1231.0,492.5 1231.7,492.1 1232.4,491.6 1233.1,491.6 1233.8,489.8 1234.5,487.1 1235.2,483.2 1235.9,478.4 1236.6,475.5 1236.9,474.6 1237.3,476.3 1238.0,480.7 1238.7,485.6 1239.4,488.9 1240.1,490.6 1240.8,491.8 1241.5,492.5 1242.2,492.6 1242.9,492.4 1243.6,493.0 1244.3,492.4 1245.0,492.7 1245.7,493.5 1246.4,493.0 1247.1,492.8 1247.8,493.4 1248.5,493.1 1249.2,492.7 1249.9,492.8 1250.6,493.0 1251.3,493.1 1252.0,493.8 1252.7,493.1 1253.4,493.7 1254.1,493.7 1254.8,493.3 1255.5,493.9 1256.2,493.7 1256.9,493.5 1257.6,493.2 1258.3,493.4 1259.0,493.9 1259.7,493.5 1260.4,493.2 1261.1,493.3 1261.8,493.2 1262.5,492.6 1263.2,492.5 1263.9,491.2 1264.6,491.2 1265.1,490.4 1265.3,490.4 1266.0,491.5 1266.7,492.1 1267.4,493.3 1268.1,493.3 1268.8,493.6 1269.5,494.0 1270.2,493.5 1270.9,494.1 1271.6,494.0 1272.3,493.8 1273.0,494.4 1273.7,493.5 1274.4,494.3 1275.1,493.6 1275.8,494.3 1276.5,493.7 1277.2,493.6 1277.9,494.1 1278.6,494.5 1279.3,493.8 1280.0,494.1 1280.7,494.2 1281.4,493.9 1282.1,494.2 1282.8,493.7 1283.5,494.1 1284.2,494.5 1284.9,494.1 1285.6,494.0 1286.3,493.8 1287.0,494.5 1287.7,494.2 1288.4,494.7 1289.1,494.5 1289.8,493.9 1290.5,494.7 1291.2,494.8 1291.9,494.7 1292.6,494.7 1293.3,494.6 1294.0,494.6 1294.7,494.6 1295.4,494.5 1296.1,494.2 1296.8,494.1 1297.5,494.7 1298.2,494.6 1298.9,494.0 1299.6,494.6 1300.3,494.6 1301.0,494.5 1301.7,494.8 1302.4,494.9 1303.1,494.4 1303.8,494.9 1304.5,494.6 1305.2,494.6 1305.9,494.5 1306.6,495.0 1307.3,494.5 1308.0,495.0 1308.7,494.4 1309.4,494.8 1310.1,495.0 1310.8,494.8 1311.5,494.5 1312.2,494.2 1312.9,494.6 1313.6,494.5 1314.3,494.9 1315.0,494.9 1315.7,495.1 1316.4,494.6 1317.1,494.5 1317.8,494.7 1318.5,494.8 1319.2,494.2 1319.9,494.3 1320.6,494.2 1321.3,494.4 1322.0,494.3 1322.7,494.9 1323.4,494.1 1324.1,494.8 1324.8,494.1 1325.5,494.0 1326.2,494.6 1326.9,493.6 1327.6,493.5 1328.3,493.3 1329.0,493.1 1329.7,493.1 1330.4,492.5 1331.1,491.8 1331.8,490.8 1332.5,490.1 1333.2,486.7 1333.9,479.8 1334.6,462.7 1335.3,430.3 1336.0,392.7 1336.5,383.2 1336.7,387.1 1337.4,421.1 1338.1,456.8 1338.8,476.9 1339.5,485.6 1340.2,489.5 1340.9,491.0 1341.6,491.9 1342.3,492.8 1343.0,492.6 1343.7,493.4 1344.4,493.3 1345.1,493.4 1345.8,493.2 1346.5,493.1 1347.2,493.1 1347.9,492.3 1348.6,491.0 1349.3,487.3 1350.0,483.4 1350.7,478.4 1351.3,477.4 1351.4,477.0 1352.1,480.4 1352.8,484.9 1353.5,487.6 1354.2,489.5 1354.9,488.1 1355.6,485.5 1356.3,481.3 1357.0,478.6 1357.2,477.8 1357.7,478.8 1358.4,480.7 1359.1,482.0 1359.8,482.2 1360.5,481.7 1360.6,481.9 1361.2,483.7 1361.9,486.6 1362.6,490.5 1363.3,491.8 1364.0,493.0 1364.7,494.3 1365.4,494.6 1366.1,494.4 1366.8,494.5 1367.5,494.3 1368.2,494.2 1368.9,494.7 1369.6,494.5 1370.3,494.3 1371.0,494.9 1371.7,493.6 1372.4,493.1 1373.1,492.3 1373.8,491.0 1374.5,489.7 1374.5,490.3 1375.2,490.7 1375.9,492.1 1376.6,493.6 1377.3,494.3 1378.0,494.5 1378.7,494.9 1379.4,494.7 1380.1,494.8 1380.8,495.0 1381.5,494.8 1382.2,494.5 1382.9,494.0 1383.6,494.7 1384.3,494.1 1385.0,494.0 1385.7,493.6 1386.4,493.6 1387.1,493.0 1387.8,492.9 1388.5,491.7 1389.2,490.0 1389.9,487.5 1390.6,482.6 1391.3,475.9 1392.0,466.8 1392.7,455.8 1393.4,445.4 1394.1,439.5 1394.3,438.8 1394.8,440.7 1395.5,448.6 1396.2,459.7 1396.9,470.4 1397.6,478.8 1398.3,485.1 1399.0,488.1 1399.7,490.6 1400.4,492.3 1401.1,492.8 1401.8,493.7 1402.5,493.4 1403.2,494.3 1403.9,494.2 1404.6,494.4 1405.3,494.0 1406.0,494.4 1406.7,494.8 1407.4,494.6 1408.1,494.2 1408.8,493.6 1409.5,492.5 1410.2,492.2 1410.9,491.1 1411.6,490.8 1412.0,490.6 1412.3,490.5 1413.0,491.6 1413.7,491.8 1414.4,493.6 1415.1,493.5 1415.8,495.0 1416.5,495.0 1417.2,495.1 1417.9,495.7 1418.6,495.3 1419.3,495.3 1420.0,494.8 1420.7,495.3 1421.4,494.9 1422.1,494.0 1422.8,493.2 1423.5,492.8 1424.2,492.6 1424.9,492.2 1425.0,491.8 1425.6,491.6 1426.3,493.0 1427.0,493.2 1427.7,494.4 1428.4,494.8 1429.1,495.6 1429.8,495.1 1430.5,495.8 1431.2,495.9 1431.9,495.2 1432.6,495.8 1433.3,495.5 1434.0,496.0 1434.7,496.2 1435.4,495.9 1436.1,495.8 1436.8,495.9 1437.5,495.5 1438.2,495.7 1438.9,495.3 1439.6,495.9 1440.3,495.1 1441.0,495.5 1441.7,495.0 1442.4,495.1 1443.1,494.1 1443.8,493.2 1444.5,492.5 1445.2,490.8 1445.9,488.7 1446.6,486.2 1447.3,484.9 1447.7,483.8 1448.0,484.4 1448.7,485.9 1449.4,487.7 1450.1,489.9 1450.8,491.9 1451.5,493.6 1452.2,494.8 1452.9,495.2 1453.6,495.4 1454.3,495.1 1455.0,495.9 1455.7,495.7 1456.4,495.5 1457.1,496.0 1457.8,495.6 1458.5,495.7 1459.2,495.9 1459.9,496.2 1460.6,495.6 1461.3,495.9 1462.0,495.7 1462.7,496.1 1463.4,496.2 1464.1,495.6 1464.8,496.1 1465.5,495.7 1466.2,495.4 1466.9,495.3 1467.6,495.2 1468.3,494.9 1469.0,493.9 1469.7,492.0 1470.4,491.0 1471.1,488.9 1471.8,487.0 1472.5,486.1 1472.6,486.3 1473.2,487.1 1473.9,488.3 1474.6,490.2 1475.3,492.7 1476.0,493.6 1476.7,494.2 1477.4,495.6 1478.1,495.2 1478.8,495.6 1479.5,496.0 1480.2,496.2 1480.9,496.5 1481.6,495.8 1482.3,496.2 1483.0,496.6 1483.7,496.2 1484.4,496.5 1485.1,496.2 1485.8,496.5 1486.5,496.8 1487.2,496.2 1487.9,496.6 1488.6,496.2 1489.3,496.7 1490.0,496.6 1490.7,496.7 1491.4,496.8 1492.1,496.5 1492.8,496.8 1493.5,496.1 1494.2,496.5 1494.9,496.0 1495.6,496.5 1496.3,496.6 1497.0,496.2 1497.7,496.8 1498.4,496.4 1499.1,496.2 1499.8,496.2 1500.5,496.5 1501.2,496.4 1501.9,496.0 1502.6,496.3 1503.3,497.0 1504.0,496.5 1504.7,496.7 1505.4,496.4 1506.1,496.1 1506.8,496.6 1507.5,496.2 1508.2,496.1 1508.9,496.6 1509.6,496.7 1510.3,496.0 1511.0,497.0 1511.7,496.0 1512.4,496.2 1513.1,496.4 1513.8,496.8 1514.5,496.8 1515.2,496.8 1515.9,496.5 1516.6,497.0 1517.3,496.2 1518.0,497.0 1518.7,496.1 1519.4,496.2 1520.1,496.8 1520.8,496.8 1521.5,496.7 1522.2,496.3 1522.9,496.9 1523.6,496.6 1524.3,496.3 1525.0,496.2 1525.7,497.1 1526.4,496.1 1527.1,496.3 1527.8,496.4 1528.5,497.0 1529.2,496.9 1529.9,496.9 1530.6,496.7 1531.3,496.1 1532.0,496.8 1532.7,496.3 1533.4,497.1 1534.1,497.1 1534.8,496.2 1535.5,496.8 1536.2,496.4 1536.9,496.2 1537.6,497.0 1538.3,496.6 1539.0,496.4 1539.7,496.7 1540.4,496.2 1541.1,496.5 1541.8,496.8 1542.5,497.0 1543.2,496.3 1543.9,497.0 1544.6,496.2 1545.3,496.3 1546.0,496.5 1546.7,496.3 1547.4,496.2 1548.1,496.8 1548.8,496.5 1549.5,496.3 1550.2,496.6 1550.9,496.3 1551.6,496.8 1552.3,497.1 1553.0,496.6 1553.7,496.5 1554.4,496.5 1555.1,496.5 1555.8,496.5 1556.5,496.3 1557.2,496.4 1557.9,496.8 1558.6,496.5 1559.3,496.1 1560.0,496.2 1560.7,496.8 1561.4,496.2 1562.1,496.5 1562.8,496.0 1563.5,495.6 1564.2,494.8 1564.9,494.5 1565.6,493.8 1566.3,493.7 1566.3,494.1 1567.0,493.5 1567.7,494.1 1568.4,495.4 1569.1,496.0 1569.8,496.2 1570.5,496.6 1571.2,496.0 1571.9,496.7 1572.6,496.2 1573.3,496.9 1574.0,496.5 1574.7,496.6 1575.4,496.7 1576.1,496.4 1576.8,496.7 1577.5,497.0 1578.2,496.6 1578.9,496.6 1579.6,496.5 1580.3,496.4 1581.0,496.5 1581.7,497.0 1582.4,497.2 1583.1,496.6 1583.8,496.5 1584.5,496.6 1585.2,497.1 1585.9,496.5 1586.6,496.4 1587.3,496.5 1588.0,496.3 1588.7,496.4 1589.4,496.5 1590.1,496.9 1590.8,497.2 1591.5,496.5 1592.2,496.5 1592.9,496.8 1593.6,496.3 1594.3,496.3 1595.0,496.8 1595.7,496.7 1596.4,496.6 1597.1,496.7 1597.8,496.3 1598.5,496.5 1599.2,496.4 1599.9,496.5 1600.6,496.3 1601.3,497.1 1602.0,496.3 1602.7,496.7 1603.4,496.4 1604.1,496.4 1604.8,497.0 1605.5,497.2 1606.2,497.2 1606.9,496.6 1607.6,496.8 1608.3,496.7 1609.0,496.3 1609.7,496.6 1610.4,496.8 1611.1,496.6 1611.8,497.0 1612.5,496.7 1613.2,496.5 1613.9,497.1 1614.6,496.8 1615.3,496.4 1616.0,497.1 1616.7,496.7 1617.4,496.8 1618.1,496.6 1618.8,497.0 1619.5,496.9 1620.2,496.5 1620.9,496.4 1621.6,496.8 1622.3,496.9 1623.0,496.6 1623.7,496.8 1624.4,496.4 1625.1,496.2 1625.8,496.0 1626.5,495.8 1627.2,495.5 1627.9,495.9 1628.6,494.8 1629.3,493.3 1630.0,491.8 1630.7,489.8 1631.4,487.7 1632.1,485.4 1632.8,484.1 1633.0,483.6 1633.5,484.3 1634.2,486.8 1634.9,488.8 1635.6,491.4 1636.3,492.7 1637.0,494.4 1637.7,495.2 1638.4,496.1 1639.1,496.4 1639.8,496.4 1640.5,496.1 1641.2,496.7 1641.9,496.8 1642.6,496.0 1643.3,496.4 1644.0,496.6 1644.7,496.4 1645.4,496.3 1646.1,496.9 1646.8,496.3 1647.5,496.7 1648.2,496.2 1648.9,496.6 1649.6,497.1 1650.3,496.2 1651.0,496.3 1651.7,497.1 1652.4,497.1 1653.1,496.7 1653.8,496.5 1654.5,496.5 1655.2,496.9 1655.9,496.7 1656.6,496.6 1657.3,496.8 1658.0,496.2 1658.7,496.5 1659.4,497.0 1660.1,497.0 1660.8,496.6 1661.5,496.8 1662.2,496.9 1662.9,496.5 1663.6,496.1 1664.3,496.0 1665.0,496.5 1665.7,496.2 1666.4,496.3 1667.1,495.7 1667.8,496.5 1668.5,495.6 1669.2,495.7 1669.9,495.4 1670.6,494.4 1671.3,493.2 1672.0,491.7 1672.7,488.7 1673.4,484.8 1674.1,480.7 1674.8,476.6 1675.5,475.3 1675.7,474.6 1676.2,476.2 1676.9,479.3 1677.6,483.9 1678.3,487.4 1679.0,490.3 1679.7,492.4 1680.4,494.3 1681.1,495.2 1681.8,495.7 1682.5,496.2 1683.2,495.6 1683.9,496.3 1684.6,496.4 1685.3,496.8 1686.0,496.1 1686.7,496.9 1687.4,496.0 1688.1,496.6 1688.8,496.4 1689.5,496.6 1690.2,496.3 1690.9,496.5 1691.6,496.5 1692.3,496.7 1693.0,496.6 1693.7,496.4 1694.4,496.4 1695.1,496.7 1695.8,497.2 1696.5,497.1 1697.2,496.4 1697.9,496.9 1698.6,496.4 1699.3,496.6 1700.0,497.3 1700.7,496.6 1701.4,496.4 1702.1,496.9 1702.8,496.9 1703.5,496.8 1704.2,497.3 1704.9,496.8 1705.6,496.7 1706.3,496.5 1707.0,496.9 1707.7,497.1 1708.4,496.8 1709.1,496.7 1709.8,496.6 1710.5,497.2 1711.2,497.3 1711.9,496.9 1712.6,497.1 1713.3,496.7 1714.0,496.5 1714.7,496.4 1715.4,497.0 1716.1,497.3 1716.8,497.1 1717.5,497.0 1718.2,497.2 1718.9,496.8 1719.6,496.8 1720.3,496.6 1721.0,497.2 1721.7,497.1 1722.4,496.9 1723.1,497.2 1723.8,497.3 1724.5,496.4 1725.2,496.6 1725.9,496.9 1726.6,497.1 1727.3,496.6 1728.0,496.8 1728.7,497.1 1729.4,496.7 1730.1,497.1 1730.8,496.4 1731.5,496.8 1732.2,497.0 1732.9,497.3 1733.6,496.9 1734.3,497.1 1735.0,497.1 1735.7,497.0 1736.4,496.8 1737.1,496.7 1737.8,496.5 1738.5,497.3 1739.2,497.2 1739.9,497.0 1740.6,497.1 1741.3,496.7 1742.0,496.6 1742.7,496.9 1743.4,496.9 1744.1,497.0 1744.8,497.3 1745.5,496.8 1746.2,496.8 1746.9,497.1 1747.6,497.3 1748.3,497.0 1749.0,497.0 1749.7,497.3 1750.4,497.3 1751.1,496.4 1751.8,497.4 1752.5,496.5 1753.2,496.9 1753.9,496.9 1754.6,497.4 1755.3,496.6 1756.0,496.4 1756.7,497.4 1757.4,496.8 1758.1,496.8 1758.8,496.8 1759.5,496.7 1760.2,496.4 1760.9,496.9 1761.6,496.6 1762.3,496.9 1763.0,497.4 1763.7,497.4 1764.4,496.7 1765.1,496.7 1765.8,496.5 1766.5,497.0 1767.2,496.5 1767.9,496.5 1768.6,497.3 1769.3,496.9 1770.0,497.2 1770.7,496.6 1771.4,496.5 1772.1,496.9 1772.8,497.0 1773.5,496.5 1774.2,496.8 1774.9,496.9 1775.6,496.8 1776.3,496.6 1777.0,496.7 1777.7,496.4 1778.4,496.4 1779.1,496.3 1779.8,497.1 1780.5,496.5 1781.2,496.9 1781.9,496.3 1782.6,497.1 1783.3,496.2 1784.0,496.9 1784.7,496.6 1785.4,497.0 1786.1,496.9 1786.8,496.0 1787.5,496.0 1788.2,496.1 1788.9,495.8 1789.6,496.5 1790.3,495.6 1791.0,495.9 1791.7,495.9 1792.4,495.1 1793.1,494.5 1793.8,492.6 1794.5,489.9 1795.2,487.0 1795.9,481.9 1796.6,477.6 1797.3,473.8 1797.8,473.0 1798.0,472.8 1798.7,475.9 1799.4,480.2 1800.1,484.6 1800.8,488.3 1801.5,491.8 1802.2,493.7 1802.9,494.0 1803.6,495.6 1804.3,495.2 1805.0,495.5 1805.7,495.8 1806.4,496.1 1807.1,496.3 1807.8,496.8 1808.5,496.1 1809.2,496.6 1809.9,496.6 1810.6,496.2 1811.3,497.1 1812.0,497.1 1812.7,496.5 1813.4,497.1 1814.1,496.7 1814.8,496.9 1815.5,497.2 1816.2,496.9 1816.9,496.6 1817.6,496.3 1818.3,496.8 1819.0,496.9 1819.7,496.6 1820.4,496.9 1821.1,496.4 1821.8,496.6 1822.5,496.8 1823.2,496.8 1823.9,497.1 1824.6,496.6 1825.3,496.7 1826.0,497.1 1826.7,496.7 1827.4,496.5 1828.1,497.0 1828.8,496.7 1829.5,497.0 1830.2,497.4 1830.9,497.4 1831.6,497.2 1832.3,497.4 1833.0,497.2 1833.7,496.8 1834.4,497.3 1835.1,496.5 1835.8,496.6 1836.5,496.9 1837.2,496.5 1837.9,497.0 1838.6,497.0 1839.3,496.6 1840.0,497.1 1840.7,496.5 1841.4,496.9 1842.1,496.7 1842.8,497.3 1843.5,496.6 1844.2,496.8 1844.9,497.1 1845.6,496.7 1846.3,497.2 1847.0,496.5 1847.7,496.5 1848.4,496.4 1849.1,497.0 1849.8,496.9 1850.5,496.9 1851.2,496.9 1851.9,497.3 1852.6,496.6 1853.3,496.5 1854.0,496.6 1854.7,497.2 1855.4,497.2 1856.1,496.5 1856.8,496.4 1857.5,497.3 1858.2,497.3 1858.9,496.6 1859.6,496.9 1860.3,496.4 1861.0,496.8 1861.7,496.5 1862.4,497.0 1863.1,496.4 1863.8,496.8 1864.5,496.6 1865.2,496.7 1865.9,497.1 1866.6,496.7 1867.3,497.1 1868.0,496.8 1868.7,496.2 1869.4,496.2 1870.1,496.6 1870.8,496.5 1871.5,495.6 1872.2,495.9 1872.9,494.8 1873.6,494.1 1874.3,492.8 1875.0,490.5 1875.7,486.9 1876.4,483.7 1877.1,481.4 1877.7,481.1 1877.8,481.5 1878.5,482.7 1879.2,485.7 1879.9,488.8 1880.6,491.2 1881.3,493.1 1882.0,494.8 1882.7,495.4" fill="none" stroke="#22a04e" stroke-width="1.8" stroke-linejoin="round"/>
<polyline points="1098.7,456.8 1099.4,457.5 1100.1,457.5 1100.8,457.8 1101.5,457.2 1102.2,457.3 1102.9,457.8 1103.6,457.8 1104.3,457.5 1105.0,458.0 1105.7,457.8 1106.4,458.2 1107.1,457.6 1107.8,457.8 1108.5,458.5 1109.2,458.0 1109.9,458.0 1110.6,458.6 1111.3,458.5 1112.0,458.1 1112.7,458.6 1113.4,458.7 1114.1,458.3 1114.8,458.8 1115.5,458.4 1116.2,458.6 1116.9,458.4 1117.6,458.6 1118.3,459.5 1119.0,458.9 1119.7,459.6 1120.4,459.1 1121.1,459.3 1121.8,459.6 1122.5,459.5 1123.2,459.0 1123.9,459.5 1124.6,459.6 1125.3,459.2 1126.0,459.2 1126.7,460.0 1127.4,459.7 1128.1,459.4 1128.8,459.8 1129.5,459.6 1130.2,460.2 1130.9,460.0 1131.6,459.6 1132.3,460.4 1133.0,459.7 1133.7,459.9 1134.4,459.7 1135.1,460.5 1135.8,459.9 1136.5,460.4 1137.2,460.0 1137.9,460.4 1138.6,460.6 1139.3,460.5 1140.0,460.5 1140.7,460.5 1141.4,460.5 1142.1,460.6 1142.8,460.1 1143.5,460.3 1144.2,459.8 1144.9,459.8 1145.6,459.0 1146.3,457.0 1147.0,456.6 1147.1,457.1 1147.7,457.4 1148.4,457.9 1149.1,459.5 1149.8,460.3 1150.5,459.8 1151.2,459.2 1151.9,458.0 1152.6,456.2 1153.3,452.9 1154.0,451.3 1154.1,451.2 1154.7,452.6 1155.4,455.1 1156.1,457.4 1156.8,459.4 1157.5,460.1 1158.2,460.9 1158.9,461.8 1159.6,461.6 1160.3,461.4 1161.0,462.2 1161.7,461.7 1162.4,461.7 1163.1,461.5 1163.8,461.7 1164.5,461.8 1165.2,461.9 1165.9,462.6 1166.6,462.0 1167.3,462.1 1168.0,462.5 1168.7,462.8 1169.4,462.2 1170.1,462.8 1170.8,462.4 1171.5,462.6 1172.2,462.7 1172.9,463.1 1173.6,463.0 1174.3,462.8 1175.0,463.1 1175.7,462.7 1176.4,462.7 1177.1,463.4 1177.8,463.0 1178.5,463.2 1179.2,462.8 1179.9,463.5 1180.6,463.2 1181.3,462.9 1182.0,463.6 1182.7,463.2 1183.4,463.1 1184.1,463.0 1184.8,462.9 1185.5,463.0 1186.2,463.6 1186.9,463.0 1187.6,463.2 1188.3,463.4 1189.0,463.5 1189.7,463.4 1190.4,463.9 1191.1,463.4 1191.8,463.5 1192.5,463.6 1193.2,463.3 1193.9,463.5 1194.6,463.4 1195.3,464.0 1196.0,463.5 1196.7,464.0 1197.4,463.6 1198.1,464.1 1198.8,464.1 1199.5,463.8 1200.2,464.4 1200.9,464.2 1201.6,464.1 1202.3,463.6 1203.0,464.0 1203.7,463.9 1204.4,464.2 1205.1,464.6 1205.8,464.6 1206.5,463.8 1207.2,464.5 1207.9,464.8 1208.6,464.4 1209.3,464.0 1210.0,464.8 1210.7,464.4 1211.4,464.9 1212.1,464.9 1212.8,464.8 1213.5,465.0 1214.2,464.1 1214.9,464.9 1215.6,464.4 1216.3,464.3 1217.0,464.5 1217.7,464.8 1218.4,464.2 1219.1,464.7 1219.8,465.0 1220.5,464.7 1221.2,464.8 1221.9,464.6 1222.6,465.3 1223.3,464.6 1224.0,465.0 1224.7,465.0 1225.4,464.3 1226.1,465.3 1226.8,464.6 1227.5,465.3 1228.2,465.2 1228.9,465.2 1229.6,465.1 1230.3,464.5 1231.0,464.5 1231.7,464.2 1232.4,464.5 1233.1,463.0 1233.8,461.8 1234.5,460.1 1235.2,455.8 1235.9,450.6 1236.6,447.2 1236.9,446.4 1237.3,447.8 1238.0,452.0 1238.7,457.5 1239.4,460.3 1240.1,462.8 1240.8,464.0 1241.5,464.8 1242.2,464.7 1242.9,465.1 1243.6,465.6 1244.3,465.1 1245.0,465.0 1245.7,464.9 1246.4,465.8 1247.1,465.4 1247.8,465.4 1248.5,465.6 1249.2,465.2 1249.9,465.3 1250.6,465.4 1251.3,465.4 1252.0,466.1 1252.7,465.5 1253.4,465.4 1254.1,466.2 1254.8,465.9 1255.5,465.4 1256.2,466.0 1256.9,466.0 1257.6,466.0 1258.3,466.2 1259.0,465.8 1259.7,465.6 1260.4,466.1 1261.1,465.9 1261.8,465.9 1262.5,465.0 1263.2,464.7 1263.9,464.2 1264.6,463.2 1265.1,463.3 1265.3,463.2 1266.0,464.1 1266.7,464.5 1267.4,465.3 1268.1,466.1 1268.8,465.8 1269.5,465.8 1270.2,466.3 1270.9,465.8 1271.6,466.6 1272.3,466.0 1273.0,466.7 1273.7,466.4 1274.4,466.0 1275.1,466.4 1275.8,466.6 1276.5,466.4 1277.2,466.6 1277.9,466.3 1278.6,466.9 1279.3,466.2 1280.0,466.8 1280.7,466.0 1281.4,466.5 1282.1,466.1 1282.8,466.2 1283.5,466.7 1284.2,467.0 1284.9,466.4 1285.6,466.5 1286.3,466.6 1287.0,466.8 1287.7,466.5 1288.4,466.5 1289.1,467.1 1289.8,466.8 1290.5,466.6 1291.2,467.1 1291.9,467.3 1292.6,466.7 1293.3,466.3 1294.0,466.6 1294.7,467.2 1295.4,466.5 1296.1,466.5 1296.8,467.1 1297.5,466.5 1298.2,467.2 1298.9,466.6 1299.6,466.8 1300.3,467.0 1301.0,466.5 1301.7,467.2 1302.4,466.9 1303.1,467.2 1303.8,467.2 1304.5,466.5 1305.2,467.3 1305.9,467.3 1306.6,466.7 1307.3,467.1 1308.0,466.7 1308.7,467.0 1309.4,467.3 1310.1,466.9 1310.8,467.0 1311.5,466.6 1312.2,467.4 1312.9,467.1 1313.6,467.3 1314.3,466.6 1315.0,467.3 1315.7,466.6 1316.4,467.1 1317.1,466.7 1317.8,467.4 1318.5,466.6 1319.2,467.0 1319.9,466.9 1320.6,466.8 1321.3,466.5 1322.0,467.1 1322.7,467.3 1323.4,466.7 1324.1,467.2 1324.8,466.6 1325.5,466.4 1326.2,466.5 1326.9,466.9 1327.6,466.6 1328.3,466.3 1329.0,465.5 1329.7,465.6 1330.4,464.7 1331.1,464.2 1331.8,463.7 1332.5,462.3 1333.2,459.5 1333.9,453.2 1334.6,436.9 1335.3,406.1 1336.0,370.7 1336.5,361.2 1336.7,364.7 1337.4,397.6 1338.1,430.7 1338.8,450.3 1339.5,459.1 1340.2,462.0 1340.9,463.9 1341.6,464.5 1342.3,465.3 1343.0,464.8 1343.7,465.8 1344.4,465.6 1345.1,465.7 1345.8,465.3 1346.5,465.0 1347.2,464.5 1347.9,463.2 1348.6,461.4 1349.3,456.1 1350.0,449.8 1350.7,443.8 1351.3,441.0 1351.4,441.2 1352.1,445.2 1352.8,451.5 1353.5,456.3 1354.2,459.0 1354.9,457.8 1355.6,453.3 1356.3,448.1 1357.0,443.1 1357.2,442.1 1357.7,443.2 1358.4,445.0 1359.1,447.0 1359.8,446.2 1360.5,444.9 1360.6,445.9 1361.2,448.3 1361.9,453.9 1362.6,459.5 1363.3,462.5 1364.0,464.3 1364.7,465.1 1365.4,466.5 1366.1,466.3 1366.8,466.8 1367.5,466.9 1368.2,467.3 1368.9,467.3 1369.6,467.3 1370.3,466.9 1371.0,467.1 1371.7,466.1 1372.4,465.2 1373.1,464.5 1373.8,462.6 1374.5,462.8 1374.5,462.2 1375.2,462.9 1375.9,464.1 1376.6,465.3 1377.3,466.4 1378.0,467.1 1378.7,466.5 1379.4,466.9 1380.1,466.8 1380.8,467.5 1381.5,466.9 1382.2,466.9 1382.9,467.3 1383.6,466.6 1384.3,466.5 1385.0,466.3 1385.7,465.9 1386.4,466.1 1387.1,465.2 1387.8,464.8 1388.5,463.9 1389.2,462.5 1389.9,459.7 1390.6,454.8 1391.3,448.3 1392.0,438.9 1392.7,427.7 1393.4,416.9 1394.1,410.5 1394.3,410.0 1394.8,412.4 1395.5,420.4 1396.2,431.9 1396.9,442.2 1397.6,450.8 1398.3,456.4 1399.0,461.0 1399.7,462.8 1400.4,464.4 1401.1,465.4 1401.8,466.1 1402.5,466.5 1403.2,466.5 1403.9,466.3 1404.6,467.2 1405.3,466.4 1406.0,466.8 1406.7,467.3 1407.4,467.1 1408.1,466.6 1408.8,466.4 1409.5,465.0 1410.2,463.9 1410.9,463.3 1411.6,463.3 1412.0,462.3 1412.3,462.7 1413.0,463.6 1413.7,464.2 1414.4,465.9 1415.1,465.9 1415.8,466.4 1416.5,467.7 1417.2,466.9 1417.9,467.3 1418.6,467.5 1419.3,467.9 1420.0,467.3 1420.7,467.3 1421.4,467.1 1422.1,466.3 1422.8,465.7 1423.5,463.9 1424.2,463.6 1424.9,462.7 1425.0,463.5 1425.6,462.9 1426.3,463.8 1427.0,465.1 1427.7,466.1 1428.4,466.2 1429.1,467.3 1429.8,467.0 1430.5,467.2 1431.2,466.8 1431.9,467.1 1432.6,466.8 1433.3,466.1 1434.0,465.2 1434.7,464.9 1434.8,465.6 1435.4,465.6 1436.1,466.2 1436.8,466.3 1437.5,467.2 1438.2,467.4 1438.9,467.8 1439.6,467.6 1440.3,467.9 1441.0,467.6 1441.7,467.2 1442.4,467.2 1443.1,466.2 1443.8,466.0 1444.5,464.2 1445.2,462.1 1445.9,460.3 1446.6,457.6 1447.3,455.6 1447.7,455.9 1448.0,456.1 1448.7,457.1 1449.4,459.7 1450.1,461.6 1450.8,464.1 1451.5,466.2 1452.2,466.7 1452.9,467.8 1453.6,467.2 1454.3,467.4 1455.0,467.5 1455.7,467.7 1456.4,468.4 1457.1,468.7 1457.8,468.5 1458.5,468.4 1459.2,468.2 1459.9,468.2 1460.6,467.9 1461.3,468.2 1462.0,467.9 1462.7,468.6 1463.4,468.3 1464.1,468.1 1464.8,468.6 1465.5,467.9 1466.2,468.4 1466.9,468.1 1467.6,467.7 1468.3,467.1 1469.0,466.3 1469.7,465.2 1470.4,463.6 1471.1,461.2 1471.8,459.9 1472.5,458.5 1472.6,459.1 1473.2,459.7 1473.9,461.1 1474.6,462.5 1475.3,465.1 1476.0,465.9 1476.7,466.8 1477.4,468.0 1478.1,467.5 1478.8,468.3 1479.5,468.0 1480.2,468.7 1480.9,468.2 1481.6,468.1 1482.3,468.5 1483.0,468.5 1483.7,468.9 1484.4,468.4 1485.1,468.4 1485.8,468.5 1486.5,468.7 1487.2,468.3 1487.9,468.8 1488.6,469.1 1489.3,468.9 1490.0,468.5 1490.7,468.7 1491.4,468.4 1492.1,468.8 1492.8,469.1 1493.5,468.3 1494.2,469.0 1494.9,469.2 1495.6,468.6 1496.3,468.6 1497.0,469.0 1497.7,468.5 1498.4,468.6 1499.1,469.0 1499.8,468.9 1500.5,468.5 1501.2,468.6 1501.9,468.9 1502.6,469.2 1503.3,468.6 1504.0,469.1 1504.7,468.9 1505.4,468.7 1506.1,468.8 1506.8,469.2 1507.5,468.5 1508.2,469.0 1508.9,468.9 1509.6,468.5 1510.3,468.8 1511.0,468.6 1511.7,468.8 1512.4,468.5 1513.1,469.0 1513.8,469.2 1514.5,469.3 1515.2,469.4 1515.9,468.7 1516.6,469.2 1517.3,468.8 1518.0,469.2 1518.7,468.9 1519.4,469.2 1520.1,468.9 1520.8,469.4 1521.5,468.9 1522.2,469.3 1522.9,468.6 1523.6,469.2 1524.3,468.7 1525.0,468.9 1525.7,468.9 1526.4,469.1 1527.1,469.1 1527.8,468.8 1528.5,469.4 1529.2,468.5 1529.9,469.0 1530.6,468.6 1531.3,468.6 1532.0,468.7 1532.7,469.4 1533.4,468.5 1534.1,469.2 1534.8,469.1 1535.5,469.3 1536.2,469.4 1536.9,468.6 1537.6,469.4 1538.3,468.7 1539.0,468.6 1539.7,468.8 1540.4,469.2 1541.1,469.1 1541.8,469.2 1542.5,468.7 1543.2,469.0 1543.9,468.9 1544.6,469.5 1545.3,469.1 1546.0,469.2 1546.7,469.0 1547.4,468.6 1548.1,468.6 1548.8,468.8 1549.5,469.3 1550.2,468.7 1550.9,469.0 1551.6,468.9 1552.3,468.7 1553.0,468.9 1553.7,469.0 1554.4,469.4 1555.1,469.3 1555.8,468.9 1556.5,468.8 1557.2,468.7 1557.9,468.8 1558.6,469.0 1559.3,469.4 1560.0,468.5 1560.7,468.5 1561.4,468.6 1562.1,468.6 1562.8,467.9 1563.5,467.4 1564.2,467.4 1564.9,466.3 1565.6,466.6 1566.3,466.3 1566.3,466.1 1567.0,466.8 1567.7,466.8 1568.4,467.9 1569.1,467.6 1569.8,467.9 1570.5,468.5 1571.2,468.8 1571.9,469.0 1572.6,468.6 1573.3,469.2 1574.0,468.8 1574.7,469.5 1575.4,469.3 1576.1,469.3 1576.8,468.6 1577.5,468.6 1578.2,468.6 1578.9,469.0 1579.6,468.6 1580.3,468.7 1581.0,468.7 1581.7,469.6 1582.4,469.1 1583.1,468.9 1583.8,468.8 1584.5,468.9 1585.2,468.7 1585.9,469.4 1586.6,469.5 1587.3,469.4 1588.0,468.7 1588.7,469.2 1589.4,469.5 1590.1,469.0 1590.8,469.4 1591.5,468.6 1592.2,469.2 1592.9,469.4 1593.6,469.1 1594.3,468.7 1595.0,469.6 1595.7,469.5 1596.4,468.9 1597.1,469.4 1597.8,468.8 1598.5,469.3 1599.2,469.4 1599.9,469.2 1600.6,469.1 1601.3,469.5 1602.0,469.1 1602.7,468.7 1603.4,468.8 1604.1,468.8 1604.8,469.4 1605.5,468.7 1606.2,469.6 1606.9,469.2 1607.6,468.7 1608.3,469.6 1609.0,469.6 1609.7,468.9 1610.4,469.2 1611.1,468.9 1611.8,468.8 1612.5,468.7 1613.2,469.5 1613.9,468.8 1614.6,468.8 1615.3,468.8 1616.0,468.9 1616.7,469.5 1617.4,468.8 1618.1,468.7 1618.8,468.6 1619.5,469.2 1620.2,468.6 1620.9,469.3 1621.6,469.4 1622.3,468.7 1623.0,468.9 1623.7,469.2 1624.4,468.8 1625.1,468.6 1625.8,469.1 1626.5,469.0 1627.2,468.1 1627.9,468.3 1628.6,466.9 1629.3,466.7 1630.0,464.7 1630.7,463.3 1631.4,460.0 1632.1,458.1 1632.8,457.1 1633.0,457.2 1633.5,458.0 1634.2,459.2 1634.9,461.5 1635.6,463.8 1636.3,465.4 1637.0,467.4 1637.7,467.8 1638.4,467.9 1639.1,468.3 1639.8,468.4 1640.5,468.7 1641.2,468.6 1641.9,469.0 1642.6,468.6 1643.3,469.1 1644.0,469.4 1644.7,469.2 1645.4,468.6 1646.1,469.0 1646.8,469.4 1647.5,468.6 1648.2,469.5 1648.9,468.7 1649.6,468.7 1650.3,468.6 1651.0,469.4 1651.7,468.6 1652.4,469.1 1653.1,469.2 1653.8,469.1 1654.5,469.6 1655.2,469.2 1655.9,468.6 1656.6,469.0 1657.3,468.7 1658.0,469.4 1658.7,468.8 1659.4,469.2 1660.1,469.0 1660.8,468.9 1661.5,469.0 1662.2,468.7 1662.9,469.1 1663.6,469.0 1664.3,469.2 1665.0,469.1 1665.7,468.4 1666.4,469.0 1667.1,468.4 1667.8,469.0 1668.5,468.4 1669.2,467.8 1669.9,467.8 1670.6,467.2 1671.3,466.2 1672.0,464.4 1672.7,462.1 1673.4,458.7 1674.1,455.1 1674.8,451.1 1675.5,449.3 1675.7,448.8 1676.2,450.4 1676.9,452.7 1677.6,457.4 1678.3,460.7 1679.0,463.6 1679.7,465.4 1680.4,466.9 1681.1,467.2 1681.8,467.7 1682.5,468.3 1683.2,468.3 1683.9,468.6 1684.6,468.7 1685.3,469.2 1686.0,469.0 1686.7,468.4 1687.4,469.1 1688.1,468.8 1688.8,468.7 1689.5,468.9 1690.2,469.4 1690.9,469.4 1691.6,469.0 1692.3,469.5 1693.0,469.1 1693.7,468.8 1694.4,469.4 1695.1,469.5 1695.8,469.3 1696.5,469.0 1697.2,469.2 1697.9,468.8 1698.6,468.9 1699.3,468.8 1700.0,469.7 1700.7,469.4 1701.4,469.2 1702.1,469.4 1702.8,469.4 1703.5,469.2 1704.2,469.0 1704.9,469.2 1705.6,469.3 1706.3,469.1 1707.0,469.0 1707.7,469.3 1708.4,469.4 1709.1,469.0 1709.8,468.9 1710.5,469.5 1711.2,469.7 1711.9,469.5 1712.6,469.6 1713.3,469.5 1714.0,469.2 1714.7,469.4 1715.4,469.2 1716.1,469.7 1716.8,468.9 1717.5,469.8 1718.2,468.9 1718.9,469.1 1719.6,469.4 1720.3,469.7 1721.0,469.7 1721.7,469.5 1722.4,469.4 1723.1,469.5 1723.8,469.1 1724.5,468.8 1725.2,469.4 1725.9,469.0 1726.6,469.2 1727.3,469.6 1728.0,469.8 1728.7,468.9 1729.4,469.7 1730.1,469.0 1730.8,469.3 1731.5,469.6 1732.2,469.5 1732.9,469.2 1733.6,469.7 1734.3,469.0 1735.0,469.6 1735.7,469.8 1736.4,469.6 1737.1,468.9 1737.8,469.2 1738.5,468.9 1739.2,469.1 1739.9,469.2 1740.6,469.0 1741.3,469.3 1742.0,469.6 1742.7,469.5 1743.4,469.1 1744.1,468.9 1744.8,468.9 1745.5,469.6 1746.2,469.1 1746.9,469.4 1747.6,469.0 1748.3,469.5 1749.0,468.9 1749.7,469.3 1750.4,469.2 1751.1,469.3 1751.8,469.0 1752.5,469.5 1753.2,469.8 1753.9,469.0 1754.6,468.9 1755.3,469.1 1756.0,469.1 1756.7,469.7 1757.4,468.8 1758.1,468.8 1758.8,469.3 1759.5,469.3 1760.2,469.0 1760.9,469.5 1761.6,469.2 1762.3,469.8 1763.0,469.0 1763.7,469.3 1764.4,468.9 1765.1,468.9 1765.8,469.7 1766.5,469.7 1767.2,469.5 1767.9,469.3 1768.6,469.4 1769.3,469.0 1770.0,468.9 1770.7,469.0 1771.4,469.0 1772.1,469.2 1772.8,469.3 1773.5,469.0 1774.2,469.1 1774.9,469.5 1775.6,469.5 1776.3,469.0 1777.0,469.3 1777.7,468.8 1778.4,469.3 1779.1,469.3 1779.8,468.9 1780.5,469.5 1781.2,469.3 1781.9,469.6 1782.6,468.9 1783.3,468.7 1784.0,469.3 1784.7,469.3 1785.4,468.7 1786.1,468.9 1786.8,468.6 1787.5,468.8 1788.2,469.3 1788.9,468.5 1789.6,468.4 1790.3,468.8 1791.0,468.7 1791.7,468.0 1792.4,467.5 1793.1,466.6 1793.8,465.4 1794.5,463.4 1795.2,460.2 1795.9,455.9 1796.6,451.5 1797.3,448.6 1797.8,447.5 1798.0,447.9 1798.7,449.2 1799.4,453.8 1800.1,458.1 1800.8,461.3 1801.5,463.7 1802.2,465.8 1802.9,467.6 1803.6,468.0 1804.3,468.0 1805.0,468.7 1805.7,468.1 1806.4,468.9 1807.1,468.8 1807.8,469.3 1808.5,468.7 1809.2,468.8 1809.9,468.8 1810.6,469.0 1811.3,469.0 1812.0,468.8 1812.7,469.1 1813.4,468.7 1814.1,469.3 1814.8,469.5 1815.5,469.0 1816.2,469.1 1816.9,469.7 1817.6,469.5 1818.3,469.4 1819.0,469.3 1819.7,469.7 1820.4,469.2 1821.1,469.4 1821.8,469.6 1822.5,469.1 1823.2,469.2 1823.9,469.4 1824.6,469.5 1825.3,469.5 1826.0,469.2 1826.7,469.1 1827.4,469.6 1828.1,469.5 1828.8,469.3 1829.5,469.1 1830.2,468.9 1830.9,469.3 1831.6,469.7 1832.3,469.7 1833.0,469.5 1833.7,469.2 1834.4,469.7 1835.1,469.7 1835.8,469.1 1836.5,469.3 1837.2,469.2 1837.9,469.0 1838.6,469.3 1839.3,469.0 1840.0,469.8 1840.7,469.8 1841.4,469.1 1842.1,469.0 1842.8,469.0 1843.5,469.7 1844.2,469.1 1844.9,469.6 1845.6,469.8 1846.3,469.2 1847.0,469.7 1847.7,468.9 1848.4,468.9 1849.1,469.5 1849.8,469.1 1850.5,469.0 1851.2,469.3 1851.9,469.6 1852.6,469.2 1853.3,469.3 1854.0,469.6 1854.7,468.9 1855.4,469.3 1856.1,468.8 1856.8,469.0 1857.5,468.9 1858.2,468.9 1858.9,469.7 1859.6,468.8 1860.3,469.2 1861.0,468.8 1861.7,468.7 1862.4,469.6 1863.1,469.2 1863.8,469.5 1864.5,469.3 1865.2,469.2 1865.9,469.4 1866.6,468.6 1867.3,468.8 1868.0,469.2 1868.7,469.4 1869.4,468.6 1870.1,468.7 1870.8,468.9 1871.5,468.6 1872.2,468.4 1872.9,467.2 1873.6,466.5 1874.3,465.5 1875.0,463.6 1875.7,461.0 1876.4,458.4 1877.1,456.3 1877.7,454.9 1877.8,455.2 1878.5,456.3 1879.2,458.9 1879.9,462.2 1880.6,464.2 1881.3,466.4 1882.0,466.7 1882.7,467.9" fill="none" stroke="#a063e0" stroke-width="1.8" stroke-linejoin="round"/>
<polyline points="1098.7,424.5 1099.4,423.6 1100.1,424.4 1100.8,423.9 1101.5,424.7 1102.2,423.8 1102.9,424.7 1103.6,424.5 1104.3,424.8 1105.0,424.9 1105.7,424.2 1106.4,424.4 1107.1,424.8 1107.8,424.4 1108.5,424.4 1109.2,424.4 1109.9,425.1 1110.6,425.1 1111.3,425.1 1112.0,424.6 1112.7,425.3 1113.4,424.9 1114.1,424.7 1114.8,424.9 1115.5,424.9 1116.2,424.6 1116.9,425.2 1117.6,425.0 1118.3,425.2 1119.0,425.6 1119.7,425.4 1120.4,425.2 1121.1,425.7 1121.8,425.8 1122.5,425.4 1123.2,425.9 1123.9,425.0 1124.6,425.1 1125.3,425.2 1126.0,426.0 1126.7,425.8 1127.4,425.8 1128.1,425.4 1128.8,425.7 1129.5,426.1 1130.2,425.3 1130.9,425.4 1131.6,425.4 1132.3,425.8 1133.0,426.2 1133.7,426.0 1134.4,425.8 1135.1,426.0 1135.8,425.7 1136.5,426.5 1137.2,425.9 1137.9,425.8 1138.6,425.9 1139.3,426.5 1140.0,426.0 1140.7,426.6 1141.4,426.1 1142.1,426.2 1142.8,425.8 1143.5,426.7 1144.2,426.6 1144.9,426.3 1145.6,426.0 1146.3,426.3 1147.0,426.2 1147.7,426.7 1148.4,426.8 1149.1,426.5 1149.8,426.0 1150.5,425.6 1151.2,426.1 1151.9,425.1 1152.6,422.3 1153.3,419.8 1154.0,417.8 1154.1,418.3 1154.7,418.5 1155.4,421.4 1156.1,424.6 1156.8,425.7 1157.5,426.2 1158.2,426.8 1158.9,426.7 1159.6,426.9 1160.3,426.6 1161.0,426.5 1161.7,426.4 1162.4,426.8 1163.1,427.2 1163.8,426.9 1164.5,426.9 1165.2,427.3 1165.9,427.4 1166.6,427.3 1167.3,427.0 1168.0,427.6 1168.7,427.6 1169.4,427.7 1170.1,427.7 1170.8,426.9 1171.5,427.6 1172.2,427.3 1172.9,427.3 1173.6,427.5 1174.3,427.1 1175.0,427.3 1175.7,428.0 1176.4,427.4 1177.1,428.0 1177.8,427.8 1178.5,427.4 1179.2,427.5 1179.9,427.8 1180.6,427.9 1181.3,427.6 1182.0,427.3 1182.7,427.4 1183.4,428.1 1184.1,428.0 1184.8,427.4 1185.5,428.2 1186.2,428.0 1186.9,427.7 1187.6,428.3 1188.3,427.6 1189.0,427.6 1189.7,427.8 1190.4,428.2 1191.1,428.1 1191.8,428.0 1192.5,428.5 1193.2,428.0 1193.9,428.4 1194.6,427.6 1195.3,428.4 1196.0,427.8 1196.7,428.3 1197.4,428.5 1198.1,428.4 1198.8,428.3 1199.5,428.3 1200.2,428.5 1200.9,428.2 1201.6,428.0 1202.3,428.4 1203.0,428.4 1203.7,428.0 1204.4,428.4 1205.1,428.4 1205.8,428.1 1206.5,428.6 1207.2,428.7 1207.9,428.3 1208.6,428.8 1209.3,429.0 1210.0,428.7 1210.7,428.4 1211.4,428.3 1212.1,428.2 1212.8,428.3 1213.5,429.1 1214.2,428.2 1214.9,429.0 1215.6,428.8 1216.3,428.9 1217.0,428.3 1217.7,428.8 1218.4,428.4 1219.1,428.9 1219.8,429.0 1220.5,428.9 1221.2,428.8 1221.9,429.1 1222.6,428.5 1223.3,428.4 1224.0,429.1 1224.7,428.3 1225.4,428.7 1226.1,428.7 1226.8,429.1 1227.5,428.6 1228.2,428.8 1228.9,428.7 1229.6,428.7 1230.3,428.6 1231.0,428.5 1231.7,428.5 1232.4,428.2 1233.1,427.9 1233.8,427.6 1234.5,425.8 1235.2,421.2 1235.9,416.0 1236.6,410.1 1236.9,410.0 1237.3,412.1 1238.0,417.2 1238.7,423.1 1239.4,426.6 1240.1,427.7 1240.8,428.2 1241.5,428.0 1242.2,428.6 1242.9,428.8 1243.6,429.2 1244.3,428.9 1245.0,429.4 1245.7,429.0 1246.4,429.3 1247.1,429.4 1247.8,428.9 1248.5,429.7 1249.2,429.2 1249.9,429.3 1250.6,429.8 1251.3,429.4 1252.0,429.4 1252.7,429.1 1253.4,429.1 1254.1,429.7 1254.8,429.4 1255.5,429.6 1256.2,429.6 1256.9,429.6 1257.6,429.3 1258.3,429.9 1259.0,429.5 1259.7,429.2 1260.4,429.9 1261.1,429.9 1261.8,429.2 1262.5,430.0 1263.2,429.8 1263.9,429.4 1264.6,429.7 1265.3,430.0 1266.0,429.3 1266.7,429.8 1267.4,429.4 1268.1,429.3 1268.8,430.1 1269.5,430.2 1270.2,429.9 1270.9,430.0 1271.6,429.6 1272.3,429.7 1273.0,429.9 1273.7,430.1 1274.4,430.0 1275.1,429.7 1275.8,429.9 1276.5,429.7 1277.2,430.1 1277.9,430.2 1278.6,430.1 1279.3,429.7 1280.0,429.7 1280.7,430.3 1281.4,429.7 1282.1,430.0 1282.8,429.5 1283.5,429.5 1284.2,429.6 1284.9,430.1 1285.6,429.6 1286.3,430.1 1287.0,429.5 1287.7,430.1 1288.4,430.2 1289.1,429.7 1289.8,429.7 1290.5,429.7 1291.2,430.0 1291.9,429.7 1292.6,429.7 1293.3,430.3 1294.0,430.5 1294.7,429.7 1295.4,430.1 1296.1,430.2 1296.8,430.5 1297.5,430.1 1298.2,430.1 1298.9,430.3 1299.6,430.4 1300.3,430.3 1301.0,430.2 1301.7,430.4 1302.4,429.7 1303.1,430.4 1303.8,429.8 1304.5,430.0 1305.2,430.0 1305.9,430.2 1306.6,430.2 1307.3,430.2 1308.0,430.0 1308.7,430.0 1309.4,430.3 1310.1,430.6 1310.8,430.1 1311.5,429.7 1312.2,430.5 1312.9,430.6 1313.6,430.5 1314.3,430.3 1315.0,430.1 1315.7,429.8 1316.4,430.6 1317.1,430.1 1317.8,429.8 1318.5,430.3 1319.2,429.8 1319.9,430.1 1320.6,430.3 1321.3,430.5 1322.0,430.0 1322.7,429.9 1323.4,430.0 1324.1,430.5 1324.8,429.7 1325.5,429.7 1326.2,429.9 1326.9,430.5 1327.6,430.3 1328.3,430.4 1329.0,429.3 1329.7,429.7 1330.4,429.1 1331.1,429.3 1331.8,429.1 1332.5,428.2 1333.2,427.5 1333.9,425.6 1334.6,420.1 1335.3,395.5 1336.0,327.8 1336.5,300.7 1336.7,313.1 1337.4,384.2 1338.1,417.8 1338.8,425.1 1339.5,427.2 1340.2,428.1 1340.9,428.4 1341.6,429.5 1342.3,429.2 1343.0,430.1 1343.7,430.2 1344.4,429.7 1345.1,430.4 1345.8,430.3 1346.5,430.4 1347.2,429.7 1347.9,429.8 1348.6,429.6 1349.3,430.0 1350.0,428.4 1350.7,427.4 1351.4,426.7 1351.6,426.3 1352.1,426.9 1352.8,428.1 1353.5,429.0 1354.2,430.1 1354.9,430.1 1355.6,430.1 1356.3,429.6 1357.0,428.5 1357.7,426.8 1358.4,426.9 1358.4,427.0 1359.1,426.9 1359.8,428.5 1360.5,429.3 1361.2,429.7 1361.9,430.4 1362.6,430.4 1363.3,430.1 1364.0,430.5 1364.7,430.7 1365.4,430.2 1366.1,430.7 1366.8,430.8 1367.5,431.0 1368.2,431.1 1368.9,431.0 1369.6,430.5 1370.3,430.2 1371.0,430.5 1371.7,430.3 1372.4,431.0 1373.1,430.5 1373.8,430.7 1374.5,430.9 1375.2,430.7 1375.9,431.2 1376.6,430.9 1377.3,430.8 1378.0,430.4 1378.7,430.4 1379.4,430.9 1380.1,430.6 1380.8,430.8 1381.5,431.1 1382.2,430.8 1382.9,431.0 1383.6,430.5 1384.3,430.2 1385.0,430.4 1385.7,431.0 1386.4,430.2 1387.1,430.1 1387.8,429.9 1388.5,430.7 1389.2,429.8 1389.9,429.4 1390.6,429.2 1391.3,428.2 1392.0,427.4 1392.7,422.2 1393.4,399.2 1394.1,356.0 1394.3,350.4 1394.8,371.8 1395.5,411.6 1396.2,425.3 1396.9,427.6 1397.6,429.5 1398.3,430.1 1399.0,430.0 1399.7,430.0 1400.4,430.4 1401.1,430.7 1401.8,430.5 1402.5,430.7 1403.2,431.1 1403.9,430.9 1404.6,430.6 1405.3,431.2 1406.0,431.1 1406.7,430.3 1407.4,430.8 1408.1,430.7 1408.8,430.7 1409.5,430.8 1410.2,431.2 1410.9,431.0 1411.6,430.7 1412.3,430.5 1413.0,430.6 1413.7,430.8 1414.4,431.0 1415.1,431.0 1415.8,430.9 1416.5,431.0 1417.2,430.8 1417.9,431.4 1418.6,430.7 1419.3,430.9 1420.0,431.1 1420.7,431.3 1421.4,430.9 1422.1,431.1 1422.8,430.8 1423.5,430.5 1424.2,431.5 1424.9,430.6 1425.6,431.3 1426.3,430.5 1427.0,430.8 1427.7,431.0 1428.4,431.4 1429.1,431.3 1429.8,430.8 1430.5,430.5 1431.2,431.3 1431.9,431.3 1432.6,431.5 1433.3,430.7 1434.0,431.2 1434.7,431.1 1435.4,431.4 1436.1,431.4 1436.8,431.3 1437.5,431.3 1438.2,430.6 1438.9,431.5 1439.6,431.0 1440.3,431.3 1441.0,430.5 1441.7,430.8 1442.4,431.1 1443.1,431.1 1443.8,430.6 1444.5,430.5 1445.2,428.6 1445.9,426.6 1446.6,423.3 1447.3,420.3 1447.7,419.3 1448.0,419.5 1448.7,423.3 1449.4,426.5 1450.1,428.5 1450.8,430.4 1451.5,430.7 1452.2,431.1 1452.9,431.1 1453.6,430.9 1454.3,431.3 1455.0,430.6 1455.7,430.5 1456.4,430.8 1457.1,431.5 1457.8,430.6 1458.5,431.3 1459.2,431.1 1459.9,430.7 1460.6,430.8 1461.3,431.3 1462.0,431.0 1462.7,431.4 1463.4,430.6 1464.1,431.1 1464.8,431.4 1465.5,430.7 1466.2,430.8 1466.9,431.0 1467.6,430.5 1468.3,430.9 1469.0,430.9 1469.7,429.8 1470.4,428.4 1471.1,426.8 1471.8,422.7 1472.5,421.6 1472.6,421.1 1473.2,423.1 1473.9,425.9 1474.6,429.0 1475.3,430.1 1476.0,430.6 1476.7,430.3 1477.4,431.0 1478.1,430.7 1478.8,431.2 1479.5,430.9 1480.2,430.8 1480.9,430.8 1481.6,430.9 1482.3,430.8 1483.0,431.0 1483.7,431.2 1484.4,431.6 1485.1,431.5 1485.8,431.1 1486.5,431.6 1487.2,431.1 1487.9,431.2 1488.6,431.3 1489.3,431.3 1490.0,431.2 1490.7,431.4 1491.4,431.0 1492.1,431.0 1492.8,431.1 1493.5,431.2 1494.2,431.0 1494.9,431.3 1495.6,430.8 1496.3,431.2 1497.0,431.2 1497.7,431.4 1498.4,430.9 1499.1,431.4 1499.8,431.3 1500.5,431.7 1501.2,430.9 1501.9,431.2 1502.6,431.6 1503.3,431.7 1504.0,431.6 1504.7,431.7 1505.4,431.2 1506.1,431.0 1506.8,431.1 1507.5,431.4 1508.2,431.5 1508.9,431.2 1509.6,431.0 1510.3,431.7 1511.0,431.1 1511.7,431.1 1512.4,431.7 1513.1,431.6 1513.8,431.5 1514.5,431.6 1515.2,431.5 1515.9,431.5 1516.6,431.2 1517.3,431.0 1518.0,431.8 1518.7,430.9 1519.4,431.6 1520.1,431.2 1520.8,431.6 1521.5,431.7 1522.2,431.6 1522.9,430.9 1523.6,431.7 1524.3,431.1 1525.0,431.1 1525.7,431.8 1526.4,431.7 1527.1,431.0 1527.8,431.7 1528.5,431.1 1529.2,431.5 1529.9,431.7 1530.6,430.9 1531.3,431.0 1532.0,431.0 1532.7,431.0 1533.4,431.8 1534.1,430.9 1534.8,431.2 1535.5,431.7 1536.2,430.9 1536.9,431.3 1537.6,431.7 1538.3,431.8 1539.0,431.7 1539.7,430.9 1540.4,430.9 1541.1,431.6 1541.8,431.3 1542.5,431.4 1543.2,431.6 1543.9,431.7 1544.6,431.2 1545.3,431.8 1546.0,431.2 1546.7,431.8 1547.4,431.0 1548.1,430.9 1548.8,431.5 1549.5,431.6 1550.2,431.5 1550.9,431.0 1551.6,431.8 1552.3,431.8 1553.0,431.8 1553.7,431.6 1554.4,430.9 1555.1,431.3 1555.8,431.1 1556.5,431.1 1557.2,431.4 1557.9,431.7 1558.6,431.5 1559.3,431.8 1560.0,431.2 1560.7,430.9 1561.4,431.6 1562.1,431.7 1562.8,431.2 1563.5,430.8 1564.2,430.8 1564.9,429.7 1565.6,428.8 1566.3,428.5 1566.3,428.6 1567.0,429.2 1567.7,429.5 1568.4,430.6 1569.1,431.1 1569.8,431.0 1570.5,430.9 1571.2,431.1 1571.9,431.3 1572.6,431.5 1573.3,431.9 1574.0,431.1 1574.7,431.5 1575.4,431.1 1576.1,431.0 1576.8,431.2 1577.5,431.3 1578.2,431.8 1578.9,431.2 1579.6,431.9 1580.3,431.7 1581.0,431.3 1581.7,431.8 1582.4,431.2 1583.1,430.9 1583.8,431.4 1584.5,431.6 1585.2,431.6 1585.9,431.0 1586.6,431.0 1587.3,431.6 1588.0,431.9 1588.7,431.4 1589.4,431.7 1590.1,431.1 1590.8,431.1 1591.5,431.4 1592.2,431.9 1592.9,431.1 1593.6,431.5 1594.3,431.6 1595.0,431.0 1595.7,431.8 1596.4,431.1 1597.1,431.8 1597.8,431.6 1598.5,431.0 1599.2,431.2 1599.9,431.4 1600.6,431.0 1601.3,431.7 1602.0,431.4 1602.7,431.1 1603.4,431.2 1604.1,431.6 1604.8,431.4 1605.5,431.5 1606.2,431.1 1606.9,431.2 1607.6,431.2 1608.3,431.4 1609.0,431.1 1609.7,431.0 1610.4,431.9 1611.1,431.9 1611.8,431.0 1612.5,431.8 1613.2,431.2 1613.9,431.5 1614.6,431.5 1615.3,431.0 1616.0,431.3 1616.7,431.4 1617.4,431.5 1618.1,431.5 1618.8,431.3 1619.5,431.4 1620.2,431.0 1620.9,431.6 1621.6,431.5 1622.3,431.1 1623.0,431.3 1623.7,431.3 1624.4,431.3 1625.1,431.0 1625.8,431.2 1626.5,431.2 1627.2,431.6 1627.9,431.4 1628.6,431.1 1629.3,430.4 1630.0,429.9 1630.7,428.0 1631.4,424.9 1632.1,420.4 1632.8,416.9 1633.0,416.9 1633.5,418.5 1634.2,423.3 1634.9,427.0 1635.6,429.1 1636.3,430.2 1637.0,430.8 1637.7,430.9 1638.4,431.1 1639.1,430.7 1639.8,431.7 1640.5,431.1 1641.2,431.1 1641.9,431.7 1642.6,431.2 1643.3,431.6 1644.0,431.0 1644.7,431.4 1645.4,430.9 1646.1,431.4 1646.8,431.7 1647.5,431.2 1648.2,431.6 1648.9,431.7 1649.6,431.3 1650.3,431.1 1651.0,431.6 1651.7,431.8 1652.4,431.9 1653.1,431.9 1653.8,431.8 1654.5,431.3 1655.2,431.7 1655.9,431.7 1656.6,431.4 1657.3,431.8 1658.0,431.1 1658.7,431.7 1659.4,431.6 1660.1,431.1 1660.8,431.0 1661.5,431.6 1662.2,431.0 1662.9,431.2 1663.6,431.8 1664.3,431.6 1665.0,431.2 1665.7,431.2 1666.4,431.0 1667.1,431.4 1667.8,431.2 1668.5,431.2 1669.2,430.7 1669.9,431.3 1670.6,430.4 1671.3,430.6 1672.0,430.4 1672.7,429.1 1673.4,425.4 1674.1,420.2 1674.8,412.1 1675.5,405.7 1675.7,405.3 1676.2,408.2 1676.9,416.6 1677.6,423.9 1678.3,427.8 1679.0,429.8 1679.7,430.0 1680.4,430.7 1681.1,431.3 1681.8,430.8 1682.5,430.9 1683.2,431.0 1683.9,430.8 1684.6,430.9 1685.3,431.6 1686.0,431.1 1686.7,431.1 1687.4,431.7 1688.1,430.9 1688.8,431.2 1689.5,431.1 1690.2,431.3 1690.9,431.1 1691.6,431.6 1692.3,431.2 1693.0,431.6 1693.7,431.1 1694.4,431.8 1695.1,431.1 1695.8,431.8 1696.5,431.1 1697.2,431.4 1697.9,431.6 1698.6,431.1 1699.3,431.5 1700.0,431.6 1700.7,431.4 1701.4,431.7 1702.1,431.5 1702.8,431.0 1703.5,431.8 1704.2,432.0 1704.9,431.2 1705.6,431.2 1706.3,431.6 1707.0,431.6 1707.7,431.5 1708.4,431.2 1709.1,431.5 1709.8,431.4 1710.5,431.6 1711.2,432.0 1711.9,431.5 1712.6,432.0 1713.3,432.0 1714.0,431.2 1714.7,431.5 1715.4,431.2 1716.1,431.2 1716.8,431.6 1717.5,431.1 1718.2,431.8 1718.9,431.7 1719.6,432.0 1720.3,431.8 1721.0,431.9 1721.7,431.4 1722.4,432.0 1723.1,431.3 1723.8,432.0 1724.5,432.0 1725.2,431.8 1725.9,431.8 1726.6,431.2 1727.3,431.8 1728.0,431.2 1728.7,431.3 1729.4,431.1 1730.1,431.8 1730.8,431.8 1731.5,431.5 1732.2,431.1 1732.9,431.2 1733.6,431.9 1734.3,431.7 1735.0,431.3 1735.7,432.0 1736.4,431.6 1737.1,431.1 1737.8,432.0 1738.5,431.4 1739.2,431.5 1739.9,431.9 1740.6,432.0 1741.3,431.3 1742.0,431.9 1742.7,431.3 1743.4,431.1 1744.1,431.1 1744.8,431.2 1745.5,431.6 1746.2,431.3 1746.9,431.9 1747.6,431.4 1748.3,431.1 1749.0,431.5 1749.7,431.1 1750.4,431.1 1751.1,432.0 1751.8,431.1 1752.5,431.2 1753.2,431.3 1753.9,431.2 1754.6,431.5 1755.3,431.7 1756.0,431.4 1756.7,431.6 1757.4,431.1 1758.1,431.2 1758.8,431.3 1759.5,431.7 1760.2,431.8 1760.9,432.0 1761.6,431.5 1762.3,431.2 1763.0,431.4 1763.7,431.4 1764.4,431.9 1765.1,431.7 1765.8,431.5 1766.5,431.5 1767.2,431.8 1767.9,431.7 1768.6,431.9 1769.3,431.5 1770.0,431.8 1770.7,432.0 1771.4,431.9 1772.1,431.2 1772.8,432.0 1773.5,431.6 1774.2,431.9 1774.9,431.9 1775.6,431.9 1776.3,431.8 1777.0,431.7 1777.7,432.0 1778.4,431.6 1779.1,431.2 1779.8,431.6 1780.5,431.6 1781.2,431.8 1781.9,431.6 1782.6,431.4 1783.3,431.7 1784.0,431.4 1784.7,431.1 1785.4,431.9 1786.1,431.5 1786.8,431.4 1787.5,431.6 1788.2,431.3 1788.9,431.2 1789.6,430.7 1790.3,431.2 1791.0,430.8 1791.7,431.0 1792.4,431.1 1793.1,430.6 1793.8,430.2 1794.5,428.7 1795.2,427.1 1795.9,422.6 1796.6,413.7 1797.3,404.1 1797.8,400.4 1798.0,401.1 1798.7,408.1 1799.4,418.2 1800.1,425.2 1800.8,428.3 1801.5,429.8 1802.2,429.9 1802.9,430.6 1803.6,430.9 1804.3,431.1 1805.0,430.8 1805.7,431.2 1806.4,431.2 1807.1,431.3 1807.8,431.0 1808.5,431.7 1809.2,431.5 1809.9,431.2 1810.6,431.9 1811.3,431.5 1812.0,431.3 1812.7,431.4 1813.4,431.3 1814.1,431.2 1814.8,431.1 1815.5,431.1 1816.2,431.1 1816.9,431.7 1817.6,431.4 1818.3,431.4 1819.0,431.4 1819.7,432.0 1820.4,431.9 1821.1,431.3 1821.8,431.7 1822.5,432.0 1823.2,431.9 1823.9,431.5 1824.6,431.8 1825.3,431.3 1826.0,431.8 1826.7,431.3 1827.4,431.8 1828.1,431.4 1828.8,431.9 1829.5,431.2 1830.2,431.4 1830.9,431.3 1831.6,431.5 1832.3,431.1 1833.0,431.2 1833.7,431.3 1834.4,431.1 1835.1,431.8 1835.8,431.9 1836.5,432.0 1837.2,431.5 1837.9,431.4 1838.6,431.6 1839.3,431.4 1840.0,431.1 1840.7,431.4 1841.4,431.8 1842.1,431.3 1842.8,431.3 1843.5,431.4 1844.2,431.9 1844.9,431.4 1845.6,431.4 1846.3,431.3 1847.0,431.2 1847.7,431.9 1848.4,432.0 1849.1,431.9 1849.8,431.6 1850.5,431.4 1851.2,431.7 1851.9,431.6 1852.6,431.3 1853.3,431.7 1854.0,431.9 1854.7,431.7 1855.4,431.4 1856.1,432.0 1856.8,431.9 1857.5,431.7 1858.2,431.3 1858.9,431.2 1859.6,431.9 1860.3,431.3 1861.0,431.1 1861.7,431.3 1862.4,431.8 1863.1,431.8 1863.8,431.9 1864.5,431.9 1865.2,431.7 1865.9,431.6 1866.6,431.8 1867.3,431.5 1868.0,431.9 1868.7,431.2 1869.4,430.9 1870.1,431.6 1870.8,431.3 1871.5,431.6 1872.2,431.0 1872.9,431.0 1873.6,430.3 1874.3,430.1 1875.0,428.6 1875.7,425.7 1876.4,420.9 1877.1,415.8 1877.7,414.0 1877.8,413.3 1878.5,418.3 1879.2,423.7 1879.9,427.6 1880.6,429.2 1881.3,430.9 1882.0,431.0 1882.7,430.6" fill="none" stroke="#c98f10" stroke-width="1.8" stroke-linejoin="round"/>
<polyline points="1098.7,386.6 1099.4,386.8 1100.1,386.8 1100.8,386.9 1101.5,387.0 1102.2,387.3 1102.9,387.0 1103.6,387.4 1104.3,386.9 1105.0,387.2 1105.7,387.4 1106.4,387.2 1107.1,387.9 1107.8,387.6 1108.5,388.1 1109.2,388.4 1109.9,387.7 1110.6,388.4 1111.3,388.4 1112.0,388.4 1112.7,387.8 1113.4,388.3 1114.1,388.5 1114.8,388.3 1115.5,388.3 1116.2,388.4 1116.9,388.5 1117.6,389.1 1118.3,388.7 1119.0,388.8 1119.7,389.1 1120.4,389.5 1121.1,388.9 1121.8,388.7 1122.5,389.7 1123.2,389.6 1123.9,389.7 1124.6,389.5 1125.3,389.2 1126.0,389.2 1126.7,389.4 1127.4,389.7 1128.1,389.3 1128.8,390.0 1129.5,390.1 1130.2,389.5 1130.9,390.3 1131.6,390.0 1132.3,390.5 1133.0,390.1 1133.7,390.5 1134.4,390.2 1135.1,390.4 1135.8,390.4 1136.5,389.9 1137.2,390.1 1137.9,390.2 1138.6,390.4 1139.3,390.3 1140.0,390.4 1140.7,390.3 1141.4,389.3 1142.1,387.7 1142.8,385.7 1143.3,385.4 1143.5,385.3 1144.2,386.9 1144.9,389.0 1145.6,389.3 1146.3,388.9 1147.0,387.4 1147.7,385.4 1148.2,384.7 1148.4,385.5 1149.1,387.7 1149.8,388.9 1150.5,390.5 1151.2,391.0 1151.9,390.4 1152.6,388.3 1153.3,386.1 1154.0,383.6 1154.1,383.5 1154.7,384.7 1155.4,388.2 1156.1,390.7 1156.8,390.9 1157.5,391.3 1158.2,391.8 1158.9,391.6 1159.6,392.1 1160.3,392.5 1161.0,392.3 1161.7,391.9 1162.4,392.0 1163.1,392.2 1163.8,392.7 1164.5,393.0 1165.2,392.7 1165.9,392.3 1166.6,392.5 1167.3,392.8 1168.0,392.5 1168.7,392.6 1169.4,392.9 1170.1,393.4 1170.8,392.8 1171.5,393.5 1172.2,393.6 1172.9,393.2 1173.6,393.0 1174.3,393.0 1175.0,393.5 1175.7,393.7 1176.4,393.8 1177.1,393.2 1177.8,393.5 1178.5,393.1 1179.2,393.4 1179.9,393.5 1180.6,393.3 1181.3,393.3 1182.0,394.3 1182.7,393.7 1183.4,393.9 1184.1,394.0 1184.8,393.9 1185.5,394.1 1186.2,394.1 1186.9,394.1 1187.6,393.7 1188.3,394.3 1189.0,394.4 1189.7,394.5 1190.4,394.1 1191.1,394.3 1191.8,394.7 1192.5,394.6 1193.2,394.0 1193.9,394.3 1194.6,394.2 1195.3,394.8 1196.0,394.5 1196.7,394.5 1197.4,394.4 1198.1,394.7 1198.8,395.0 1199.5,394.9 1200.2,394.5 1200.9,394.7 1201.6,395.0 1202.3,394.5 1203.0,395.4 1203.7,394.5 1204.4,395.2 1205.1,394.7 1205.8,395.6 1206.5,395.3 1207.2,394.9 1207.9,395.2 1208.6,395.6 1209.3,395.6 1210.0,395.5 1210.7,395.5 1211.4,395.6 1212.1,395.8 1212.8,395.4 1213.5,395.6 1214.2,395.8 1214.9,395.5 1215.6,395.3 1216.3,395.7 1217.0,395.5 1217.7,395.8 1218.4,395.9 1219.1,396.1 1219.8,395.3 1220.5,395.3 1221.2,396.2 1221.9,396.0 1222.6,396.3 1223.3,396.2 1224.0,396.3 1224.7,395.5 1225.4,395.6 1226.1,396.0 1226.8,396.2 1227.5,395.5 1228.2,396.4 1228.9,395.7 1229.6,395.6 1230.3,395.8 1231.0,395.5 1231.7,395.3 1232.4,395.2 1233.1,394.9 1233.8,394.5 1234.5,393.5 1235.2,389.9 1235.9,383.0 1236.6,376.0 1236.9,375.7 1237.3,377.3 1238.0,385.5 1238.7,391.1 1239.4,393.8 1240.1,395.2 1240.8,395.5 1241.5,396.3 1242.2,396.1 1242.9,395.8 1243.6,396.1 1244.3,396.1 1245.0,397.0 1245.7,396.5 1246.4,396.9 1247.1,396.8 1247.8,396.7 1248.5,397.0 1249.2,396.9 1249.9,396.4 1250.6,397.4 1251.3,396.8 1252.0,397.1 1252.7,396.9 1253.4,397.5 1254.1,396.7 1254.8,396.6 1255.5,396.6 1256.2,397.0 1256.9,397.5 1257.6,397.1 1258.3,397.6 1259.0,396.8 1259.7,397.6 1260.4,396.8 1261.1,397.5 1261.8,396.8 1262.5,397.1 1263.2,396.7 1263.9,396.2 1264.6,394.6 1265.1,394.8 1265.3,394.1 1266.0,395.9 1266.7,396.5 1267.4,397.1 1268.1,397.8 1268.8,397.2 1269.5,397.6 1270.2,397.6 1270.9,397.3 1271.6,397.2 1272.3,397.5 1273.0,397.4 1273.7,397.8 1274.4,397.6 1275.1,397.3 1275.8,397.9 1276.5,398.2 1277.2,397.9 1277.9,397.6 1278.6,397.6 1279.3,398.3 1280.0,397.8 1280.7,398.1 1281.4,397.5 1282.1,398.2 1282.8,398.3 1283.5,397.7 1284.2,397.7 1284.9,398.1 1285.6,398.4 1286.3,398.3 1287.0,397.5 1287.7,397.6 1288.4,398.4 1289.1,398.0 1289.8,398.5 1290.5,398.0 1291.2,398.4 1291.9,397.8 1292.6,398.6 1293.3,398.1 1294.0,397.7 1294.7,397.9 1295.4,397.8 1296.1,398.1 1296.8,398.7 1297.5,398.7 1298.2,398.7 1298.9,398.2 1299.6,398.6 1300.3,398.5 1301.0,398.6 1301.7,398.8 1302.4,398.7 1303.1,398.6 1303.8,398.2 1304.5,398.0 1305.2,398.3 1305.9,398.2 1306.6,398.7 1307.3,398.1 1308.0,398.1 1308.7,398.7 1309.4,398.0 1310.1,398.1 1310.8,398.0 1311.5,398.0 1312.2,398.1 1312.9,398.7 1313.6,398.3 1314.3,398.1 1315.0,398.5 1315.7,398.4 1316.4,398.0 1317.1,398.1 1317.8,398.3 1318.5,398.5 1319.2,398.2 1319.9,398.5 1320.6,398.5 1321.3,398.9 1322.0,398.6 1322.7,398.3 1323.4,398.2 1324.1,398.1 1324.8,398.3 1325.5,398.8 1326.2,398.8 1326.9,397.9 1327.6,398.3 1328.3,398.3 1329.0,398.4 1329.7,398.0 1330.4,397.6 1331.1,396.7 1331.8,396.4 1332.5,396.2 1333.2,394.7 1333.9,392.0 1334.6,384.9 1335.3,351.7 1336.0,224.8 1336.5,162.7 1336.7,190.5 1337.4,332.0 1338.1,381.7 1338.8,390.1 1339.5,393.2 1340.2,395.7 1340.9,396.0 1341.6,396.5 1342.3,396.9 1343.0,396.8 1343.7,396.9 1344.4,396.3 1345.1,394.8 1345.8,392.5 1346.5,381.5 1347.2,336.8 1347.7,311.0 1347.9,317.5 1348.6,366.0 1349.3,380.0 1350.0,374.7 1350.5,373.0 1350.7,374.1 1351.4,381.6 1352.1,388.5 1352.8,391.5 1353.5,389.0 1354.2,384.2 1354.9,379.8 1355.0,379.7 1355.6,382.3 1356.3,388.9 1357.0,392.0 1357.7,390.3 1358.4,384.2 1359.1,377.2 1359.5,375.5 1359.8,376.8 1360.5,384.3 1361.2,392.1 1361.9,396.2 1362.6,397.0 1363.3,397.7 1364.0,398.7 1364.7,398.2 1365.4,398.6 1366.1,399.1 1366.8,399.0 1367.5,398.6 1368.2,398.6 1368.9,398.5 1369.6,398.2 1370.3,398.5 1371.0,397.8 1371.7,397.4 1372.4,396.8 1373.1,391.6 1373.8,368.1 1374.5,331.1 1374.5,331.5 1375.2,364.3 1375.9,390.8 1376.6,396.4 1377.3,397.9 1378.0,398.8 1378.7,398.2 1379.4,398.7 1380.1,398.5 1380.8,399.0 1381.5,399.4 1382.2,399.1 1382.9,399.2 1383.6,399.1 1384.3,399.8 1385.0,399.6 1385.7,399.7 1386.4,399.4 1387.1,399.6 1387.8,399.3 1388.5,398.7 1389.2,398.6 1389.9,399.2 1390.6,398.5 1391.3,398.2 1392.0,396.9 1392.7,394.0 1393.4,375.2 1394.1,329.1 1394.3,323.2 1394.8,347.6 1395.5,385.9 1396.2,395.1 1396.9,396.6 1397.6,397.3 1398.3,396.8 1399.0,394.7 1399.7,390.9 1400.4,383.7 1401.1,379.8 1401.1,379.4 1401.8,384.7 1402.5,391.8 1403.2,395.8 1403.9,398.4 1404.6,399.0 1405.3,398.6 1406.0,398.8 1406.7,398.9 1407.4,399.5 1408.1,399.0 1408.8,398.9 1409.5,398.5 1410.2,398.0 1410.9,396.1 1411.6,394.3 1412.0,393.5 1412.3,394.4 1413.0,396.4 1413.7,398.0 1414.4,399.6 1415.1,399.6 1415.8,399.7 1416.5,399.5 1417.2,399.6 1417.9,400.0 1418.6,399.7 1419.3,399.4 1420.0,399.7 1420.7,399.8 1421.4,399.4 1422.1,399.3 1422.8,399.6 1423.5,398.4 1424.2,396.3 1424.9,395.3 1425.0,395.2 1425.6,395.6 1426.3,397.7 1427.0,398.5 1427.7,399.7 1428.4,399.8 1429.1,399.4 1429.8,399.9 1430.5,399.6 1431.2,400.0 1431.9,400.2 1432.6,399.7 1433.3,398.1 1434.0,397.2 1434.7,396.2 1434.8,396.5 1435.4,396.6 1436.1,397.9 1436.8,399.1 1437.5,399.6 1438.2,400.2 1438.9,400.3 1439.6,400.1 1440.3,400.2 1441.0,399.9 1441.7,399.7 1442.4,399.8 1443.1,400.0 1443.8,399.5 1444.5,399.7 1445.2,398.6 1445.9,396.5 1446.6,392.9 1447.3,388.7 1447.7,387.1 1448.0,387.7 1448.7,392.2 1449.4,396.8 1450.1,398.8 1450.8,399.6 1451.5,399.5 1452.2,400.0 1452.9,400.2 1453.6,399.9 1454.3,400.1 1455.0,399.8 1455.7,400.6 1456.4,400.4 1457.1,400.4 1457.8,400.5 1458.5,400.5 1459.2,400.1 1459.9,400.4 1460.6,399.9 1461.3,400.4 1462.0,400.1 1462.7,400.3 1463.4,400.5 1464.1,400.0 1464.8,399.8 1465.5,400.4 1466.2,399.8 1466.9,400.4 1467.6,400.3 1468.3,399.3 1469.0,399.3 1469.7,398.9 1470.4,396.5 1471.1,391.3 1471.8,382.7 1472.5,377.4 1472.6,377.8 1473.2,381.5 1473.9,390.5 1474.6,395.7 1475.3,398.1 1476.0,399.6 1476.7,399.5 1477.4,399.9 1478.1,400.5 1478.8,399.9 1479.5,400.7 1480.2,400.1 1480.9,400.4 1481.6,399.9 1482.3,400.9 1483.0,400.4 1483.7,400.4 1484.4,400.9 1485.1,400.4 1485.8,400.0 1486.5,400.3 1487.2,400.0 1487.9,400.0 1488.6,400.9 1489.3,400.8 1490.0,400.7 1490.7,400.7 1491.4,400.4 1492.1,400.6 1492.8,400.4 1493.5,400.7 1494.2,400.8 1494.9,400.5 1495.6,400.3 1496.3,400.4 1497.0,400.3 1497.7,401.0 1498.4,400.9 1499.1,400.4 1499.8,400.2 1500.5,400.6 1501.2,400.9 1501.9,400.4 1502.6,400.9 1503.3,400.5 1504.0,400.3 1504.7,400.9 1505.4,400.9 1506.1,400.5 1506.8,400.9 1507.5,400.5 1508.2,400.9 1508.9,400.8 1509.6,400.7 1510.3,400.5 1511.0,400.8 1511.7,400.4 1512.4,401.1 1513.1,400.7 1513.8,400.9 1514.5,400.2 1515.2,400.3 1515.9,400.5 1516.6,400.4 1517.3,400.6 1518.0,400.8 1518.7,401.0 1519.4,400.3 1520.1,400.9 1520.8,400.3 1521.5,401.0 1522.2,401.1 1522.9,400.9 1523.6,400.6 1524.3,400.6 1525.0,400.9 1525.7,401.1 1526.4,400.3 1527.1,400.5 1527.8,401.1 1528.5,401.0 1529.2,400.4 1529.9,400.4 1530.6,400.3 1531.3,400.5 1532.0,401.1 1532.7,400.8 1533.4,400.4 1534.1,400.3 1534.8,400.3 1535.5,400.5 1536.2,400.2 1536.9,400.0 1537.6,399.9 1538.3,398.6 1539.0,397.4 1539.3,397.3 1539.7,398.3 1540.4,399.2 1541.1,399.5 1541.8,400.9 1542.5,401.0 1543.2,400.2 1543.9,401.1 1544.6,400.2 1545.3,400.5 1546.0,400.4 1546.7,400.8 1547.4,400.9 1548.1,400.5 1548.8,400.9 1549.5,401.1 1550.2,400.4 1550.9,400.5 1551.6,401.1 1552.3,400.3 1553.0,400.6 1553.7,400.6 1554.4,400.9 1555.1,400.3 1555.8,400.3 1556.5,400.9 1557.2,401.0 1557.9,400.4 1558.6,400.9 1559.3,400.5 1560.0,401.1 1560.7,400.9 1561.4,400.9 1562.1,400.5 1562.8,400.7 1563.5,401.1 1564.2,400.3 1564.9,399.7 1565.6,398.8 1566.3,397.6 1566.3,397.7 1567.0,399.0 1567.7,399.8 1568.4,400.0 1569.1,400.6 1569.8,400.5 1570.5,400.9 1571.2,401.0 1571.9,401.2 1572.6,400.9 1573.3,400.5 1574.0,400.9 1574.7,400.5 1575.4,400.8 1576.1,400.8 1576.8,400.7 1577.5,400.6 1578.2,400.5 1578.9,400.6 1579.6,401.0 1580.3,400.6 1581.0,400.9 1581.7,401.3 1582.4,401.4 1583.1,401.2 1583.8,400.9 1584.5,401.0 1585.2,400.9 1585.9,401.3 1586.6,400.8 1587.3,400.5 1588.0,401.3 1588.7,400.6 1589.4,401.3 1590.1,401.3 1590.8,400.7 1591.5,400.7 1592.2,401.3 1592.9,401.3 1593.6,400.9 1594.3,400.5 1595.0,400.9 1595.7,401.4 1596.4,400.8 1597.1,401.1 1597.8,401.3 1598.5,401.0 1599.2,400.8 1599.9,401.0 1600.6,400.7 1601.3,401.3 1602.0,400.6 1602.7,401.2 1603.4,401.0 1604.1,400.7 1604.8,401.3 1605.5,401.4 1606.2,400.6 1606.9,400.8 1607.6,401.3 1608.3,400.6 1609.0,401.2 1609.7,400.7 1610.4,400.9 1611.1,400.7 1611.8,400.5 1612.5,400.9 1613.2,401.3 1613.9,400.6 1614.6,401.1 1615.3,400.5 1616.0,401.3 1616.7,400.4 1617.4,400.7 1618.1,400.7 1618.8,401.0 1619.5,400.9 1620.2,401.1 1620.9,401.0 1621.6,401.2 1622.3,400.6 1623.0,400.6 1623.7,400.9 1624.4,401.1 1625.1,400.7 1625.8,401.1 1626.5,400.4 1627.2,401.0 1627.9,400.5 1628.6,400.5 1629.3,400.5 1630.0,399.8 1630.7,398.1 1631.4,393.9 1632.1,386.7 1632.8,381.4 1633.0,381.1 1633.5,384.0 1634.2,390.8 1634.9,396.9 1635.6,399.3 1636.3,400.3 1637.0,400.2 1637.7,400.3 1638.4,400.6 1639.1,401.1 1639.8,400.6 1640.5,400.6 1641.2,401.0 1641.9,401.3 1642.6,401.0 1643.3,401.2 1644.0,400.8 1644.7,400.5 1645.4,401.3 1646.1,400.9 1646.8,401.1 1647.5,400.7 1648.2,401.3 1648.9,400.6 1649.6,401.0 1650.3,401.4 1651.0,401.2 1651.7,400.5 1652.4,401.3 1653.1,401.4 1653.8,401.4 1654.5,400.7 1655.2,400.5 1655.9,401.0 1656.6,401.1 1657.3,400.6 1658.0,400.9 1658.7,400.5 1659.4,400.5 1660.1,401.4 1660.8,401.1 1661.5,400.7 1662.2,401.0 1662.9,400.6 1663.6,400.8 1664.3,401.1 1665.0,400.7 1665.7,400.4 1666.4,401.3 1667.1,400.4 1667.8,400.8 1668.5,400.6 1669.2,400.6 1669.9,400.7 1670.6,400.1 1671.3,400.0 1672.0,399.5 1672.7,398.8 1673.4,396.7 1674.1,390.9 1674.8,381.7 1675.5,373.6 1675.7,373.2 1676.2,377.0 1676.9,387.0 1677.6,394.7 1678.3,398.3 1679.0,399.4 1679.7,400.5 1680.4,399.9 1681.1,400.5 1681.8,401.0 1682.5,400.4 1683.2,401.0 1683.9,401.0 1684.6,401.2 1685.3,400.7 1686.0,400.7 1686.7,401.1 1687.4,401.1 1688.1,401.0 1688.8,400.9 1689.5,400.5 1690.2,400.9 1690.9,400.8 1691.6,401.2 1692.3,401.4 1693.0,400.9 1693.7,401.2 1694.4,400.8 1695.1,400.8 1695.8,400.9 1696.5,400.2 1697.2,399.8 1697.9,398.1 1698.6,397.1 1698.9,397.4 1699.3,397.8 1700.0,398.5 1700.7,400.0 1701.4,400.5 1702.1,400.3 1702.8,400.5 1703.5,401.1 1704.2,400.6 1704.9,401.3 1705.6,401.4 1706.3,400.7 1707.0,400.5 1707.7,400.5 1708.4,400.6 1709.1,401.4 1709.8,401.1 1710.5,401.4 1711.2,401.1 1711.9,401.2 1712.6,400.8 1713.3,401.0 1714.0,401.3 1714.7,400.4 1715.4,400.3 1716.1,400.1 1716.8,400.2 1717.5,399.5 1718.2,398.0 1718.9,394.7 1719.6,390.1 1720.2,388.0 1720.3,388.0 1721.0,392.2 1721.7,396.0 1722.4,399.2 1723.1,400.2 1723.8,400.0 1724.5,400.5 1725.2,401.1 1725.9,400.8 1726.6,400.4 1727.3,401.2 1728.0,400.6 1728.7,400.9 1729.4,401.2 1730.1,400.4 1730.8,401.4 1731.5,400.5 1732.2,400.4 1732.9,400.6 1733.6,400.4 1734.3,400.9 1735.0,400.6 1735.7,400.3 1736.4,399.4 1737.1,396.9 1737.8,394.7 1738.3,394.5 1738.5,394.7 1739.2,396.6 1739.9,398.8 1740.6,400.4 1741.3,401.0 1742.0,400.3 1742.7,400.8 1743.4,401.4 1744.1,401.2 1744.8,401.1 1745.5,401.2 1746.2,400.6 1746.9,401.2 1747.6,401.1 1748.3,400.6 1749.0,400.7 1749.7,400.8 1750.4,400.9 1751.1,400.8 1751.8,401.2 1752.5,401.3 1753.2,401.4 1753.9,401.2 1754.6,401.2 1755.3,401.1 1756.0,401.3 1756.7,401.3 1757.4,400.6 1758.1,401.4 1758.8,401.6 1759.5,401.6 1760.2,400.9 1760.9,400.8 1761.6,401.5 1762.3,401.4 1763.0,400.6 1763.7,401.1 1764.4,401.2 1765.1,400.6 1765.8,401.5 1766.5,400.7 1767.2,401.4 1767.9,400.7 1768.6,400.5 1769.3,400.7 1770.0,400.5 1770.7,401.1 1771.4,400.9 1772.1,400.5 1772.8,400.9 1773.5,399.9 1774.2,398.9 1774.9,396.4 1775.6,393.1 1776.3,391.5 1776.3,391.4 1777.0,393.9 1777.7,397.4 1778.4,399.5 1779.1,400.0 1779.8,400.6 1780.5,400.6 1781.2,400.8 1781.9,400.7 1782.6,400.6 1783.3,401.3 1784.0,401.1 1784.7,401.0 1785.4,400.9 1786.1,400.5 1786.8,400.9 1787.5,400.4 1788.2,400.8 1788.9,400.7 1789.6,400.8 1790.3,400.8 1791.0,400.3 1791.7,400.1 1792.4,400.0 1793.1,399.9 1793.8,399.9 1794.5,398.7 1795.2,397.4 1795.9,392.5 1796.6,383.9 1797.3,371.3 1797.8,366.5 1798.0,367.0 1798.7,376.5 1799.4,388.7 1800.1,395.4 1800.8,398.3 1801.5,399.5 1802.2,400.3 1802.9,400.6 1803.6,400.1 1804.3,400.7 1805.0,401.1 1805.7,400.8 1806.4,400.6 1807.1,401.1 1807.8,400.5 1808.5,400.6 1809.2,400.5 1809.9,400.8 1810.6,400.9 1811.3,401.2 1812.0,400.8 1812.7,400.6 1813.4,401.1 1814.1,400.7 1814.8,401.3 1815.5,401.1 1816.2,401.0 1816.9,401.1 1817.6,400.6 1818.3,401.2 1819.0,401.1 1819.7,401.6 1820.4,401.6 1821.1,401.5 1821.8,400.7 1822.5,400.8 1823.2,401.6 1823.9,401.5 1824.6,401.6 1825.3,401.3 1826.0,400.8 1826.7,401.0 1827.4,401.0 1828.1,401.4 1828.8,400.8 1829.5,401.2 1830.2,401.2 1830.9,401.6 1831.6,401.4 1832.3,401.4 1833.0,401.4 1833.7,401.1 1834.4,401.0 1835.1,401.1 1835.8,400.8 1836.5,401.6 1837.2,400.7 1837.9,401.2 1838.6,401.6 1839.3,401.6 1840.0,400.9 1840.7,400.9 1841.4,400.9 1842.1,401.6 1842.8,401.4 1843.5,401.0 1844.2,401.6 1844.9,401.2 1845.6,400.9 1846.3,401.3 1847.0,401.2 1847.7,401.5 1848.4,400.9 1849.1,401.6 1849.8,401.4 1850.5,400.9 1851.2,400.9 1851.9,400.7 1852.6,401.5 1853.3,401.1 1854.0,401.5 1854.7,401.2 1855.4,400.7 1856.1,400.8 1856.8,401.3 1857.5,400.8 1858.2,400.7 1858.9,401.4 1859.6,401.6 1860.3,401.0 1861.0,401.6 1861.7,401.6 1862.4,401.1 1863.1,401.2 1863.8,400.9 1864.5,401.5 1865.2,401.5 1865.9,401.3 1866.6,400.9 1867.3,400.8 1868.0,400.5 1868.7,401.4 1869.4,401.1 1870.1,400.8 1870.8,400.5 1871.5,401.0 1872.2,401.2 1872.9,400.9 1873.6,400.0 1874.3,400.2 1875.0,398.6 1875.7,397.1 1876.4,391.5 1877.1,384.0 1877.7,381.3 1877.8,381.4 1878.5,387.2 1879.2,394.1 1879.9,398.4 1880.6,399.8 1881.3,400.7 1882.0,400.5 1882.7,401.0" fill="none" stroke="#1cbfc2" stroke-width="1.8" stroke-linejoin="round"/>
<polyline points="1098.7,359.7 1099.4,360.1 1100.1,360.3 1100.8,359.7 1101.5,360.3 1102.2,360.3 1102.9,360.3 1103.6,359.9 1104.3,359.8 1105.0,360.3 1105.7,360.7 1106.4,360.3 1107.1,360.6 1107.8,360.5 1108.5,361.1 1109.2,361.3 1109.9,360.8 1110.6,361.4 1111.3,360.6 1112.0,361.4 1112.7,361.5 1113.4,360.9 1114.1,361.5 1114.8,361.4 1115.5,361.9 1116.2,361.2 1116.9,361.6 1117.6,362.0 1118.3,361.8 1119.0,361.6 1119.7,361.4 1120.4,362.3 1121.1,361.9 1121.8,362.5 1122.5,361.7 1123.2,362.4 1123.9,362.5 1124.6,362.7 1125.3,361.8 1126.0,362.2 1126.7,362.0 1127.4,362.7 1128.1,362.4 1128.8,363.1 1129.5,362.5 1130.2,363.0 1130.9,363.1 1131.6,362.6 1132.3,362.9 1133.0,363.4 1133.7,363.0 1134.4,362.9 1135.1,362.8 1135.8,363.4 1136.5,362.8 1137.2,363.2 1137.9,363.2 1138.6,363.2 1139.3,362.7 1140.0,363.1 1140.7,363.2 1141.4,361.8 1142.1,358.5 1142.8,350.6 1143.3,345.6 1143.5,345.9 1144.2,354.3 1144.9,360.7 1145.6,360.7 1146.3,357.0 1147.0,352.4 1147.1,352.8 1147.7,357.1 1148.4,361.4 1149.1,362.8 1149.8,364.2 1150.5,364.3 1151.2,363.5 1151.9,364.1 1152.6,364.2 1153.3,363.6 1154.0,362.4 1154.7,360.2 1154.9,359.6 1155.4,360.6 1156.1,362.9 1156.8,364.0 1157.5,364.2 1158.2,364.3 1158.9,364.5 1159.6,365.2 1160.3,365.0 1161.0,365.3 1161.7,365.5 1162.4,365.4 1163.1,364.7 1163.8,365.6 1164.5,364.8 1165.2,365.6 1165.9,365.7 1166.6,365.5 1167.3,365.3 1168.0,365.1 1168.7,365.1 1169.4,365.7 1170.1,365.4 1170.8,365.7 1171.5,365.5 1172.2,365.4 1172.9,365.6 1173.6,366.0 1174.3,365.9 1175.0,365.8 1175.7,365.9 1176.4,366.0 1177.1,366.0 1177.8,366.0 1178.5,366.6 1179.2,366.4 1179.9,365.9 1180.6,366.0 1181.3,365.9 1182.0,366.2 1182.7,365.8 1183.4,366.6 1184.1,366.4 1184.8,366.3 1185.5,366.7 1186.2,365.7 1186.9,364.6 1187.5,364.0 1187.6,363.7 1188.3,365.2 1189.0,366.1 1189.7,367.0 1190.4,366.9 1191.1,366.5 1191.8,366.7 1192.5,366.9 1193.2,366.9 1193.9,367.0 1194.6,366.7 1195.3,367.1 1196.0,367.2 1196.7,367.3 1197.4,367.1 1198.1,367.1 1198.8,367.2 1199.5,367.3 1200.2,367.2 1200.9,366.8 1201.6,367.1 1202.3,367.8 1203.0,367.7 1203.7,367.4 1204.4,367.7 1205.1,367.2 1205.8,367.3 1206.5,367.6 1207.2,367.8 1207.9,367.1 1208.6,367.6 1209.3,368.1 1210.0,367.8 1210.7,368.2 1211.4,367.4 1212.1,368.2 1212.8,368.2 1213.5,367.4 1214.2,367.9 1214.9,368.2 1215.6,367.7 1216.3,368.1 1217.0,368.4 1217.7,368.3 1218.4,368.0 1219.1,367.7 1219.8,368.2 1220.5,367.8 1221.2,368.2 1221.9,368.0 1222.6,368.1 1223.3,368.3 1224.0,368.6 1224.7,368.8 1225.4,368.2 1226.1,367.9 1226.8,368.6 1227.5,368.2 1228.2,368.7 1228.9,368.8 1229.6,368.0 1230.3,368.7 1231.0,368.3 1231.7,368.3 1232.4,368.3 1233.1,368.5 1233.8,368.1 1234.5,368.2 1235.2,367.2 1235.9,364.1 1236.6,359.2 1236.9,359.0 1237.3,360.6 1238.0,365.5 1238.7,367.8 1239.4,368.1 1240.1,369.1 1240.8,369.0 1241.5,368.5 1242.2,368.7 1242.9,368.8 1243.6,369.0 1244.3,368.9 1245.0,369.0 1245.7,369.3 1246.4,368.7 1247.1,369.2 1247.8,368.8 1248.5,369.2 1249.2,369.0 1249.9,369.5 1250.6,369.6 1251.3,369.7 1252.0,369.1 1252.7,369.4 1253.4,368.9 1254.1,369.4 1254.8,369.4 1255.5,368.8 1256.2,367.6 1256.9,366.0 1257.2,365.7 1257.6,366.4 1258.3,367.9 1259.0,368.8 1259.7,369.0 1260.4,369.1 1261.1,368.9 1261.8,369.0 1262.5,369.3 1263.2,369.0 1263.9,368.5 1264.6,365.5 1265.1,364.3 1265.3,365.4 1266.0,367.1 1266.7,368.9 1267.4,369.7 1268.1,369.4 1268.8,370.1 1269.5,370.0 1270.2,369.6 1270.9,370.2 1271.6,370.2 1272.3,369.9 1273.0,369.5 1273.7,369.5 1274.4,370.2 1275.1,370.3 1275.8,370.1 1276.5,370.3 1277.2,370.3 1277.9,369.8 1278.6,369.7 1279.3,370.4 1280.0,370.4 1280.7,370.0 1281.4,369.9 1282.1,369.7 1282.8,370.0 1283.5,370.6 1284.2,369.9 1284.9,370.0 1285.6,369.7 1286.3,370.3 1287.0,369.8 1287.7,370.4 1288.4,370.2 1289.1,370.1 1289.8,369.9 1290.5,369.6 1291.2,369.2 1291.9,367.9 1292.0,367.6 1292.6,368.0 1293.3,369.3 1294.0,370.0 1294.7,370.7 1295.4,370.8 1296.1,370.1 1296.8,370.6 1297.5,370.3 1298.2,370.4 1298.9,370.2 1299.6,370.7 1300.3,370.8 1301.0,371.0 1301.7,370.5 1302.4,370.5 1303.1,370.7 1303.8,370.2 1304.5,371.0 1305.2,370.9 1305.9,370.4 1306.6,370.5 1307.3,370.6 1308.0,371.0 1308.7,370.9 1309.4,370.4 1310.1,371.2 1310.8,371.1 1311.5,371.1 1312.2,370.7 1312.9,370.7 1313.6,370.6 1314.3,371.2 1315.0,370.7 1315.7,371.1 1316.4,370.3 1317.1,370.1 1317.8,370.2 1318.5,368.8 1319.2,366.3 1319.6,365.4 1319.9,366.0 1320.6,368.9 1321.3,369.9 1322.0,370.4 1322.7,370.8 1323.4,370.5 1324.1,370.6 1324.8,370.7 1325.5,370.6 1326.2,370.9 1326.9,371.1 1327.6,370.3 1328.3,370.8 1329.0,370.8 1329.7,371.2 1330.4,370.9 1331.1,370.4 1331.8,370.6 1332.5,370.7 1333.2,370.5 1333.9,369.8 1334.6,367.9 1335.3,363.6 1336.0,317.5 1336.5,272.7 1336.7,295.6 1337.4,360.0 1338.1,368.1 1338.8,368.6 1339.5,370.0 1340.2,369.6 1340.9,370.1 1341.6,369.7 1342.3,369.8 1343.0,369.8 1343.7,369.7 1344.4,368.1 1345.1,367.1 1345.8,363.9 1346.5,354.6 1347.2,253.7 1347.7,133.6 1347.9,175.4 1348.6,339.6 1349.3,360.5 1350.0,360.1 1350.7,349.3 1351.4,328.5 1351.6,326.3 1352.1,334.0 1352.8,343.0 1353.5,330.3 1353.9,325.4 1354.2,329.8 1354.9,342.3 1355.6,332.6 1356.1,324.7 1356.3,327.4 1357.0,348.9 1357.7,360.2 1358.4,355.2 1359.1,338.3 1359.5,333.9 1359.8,338.3 1360.5,356.2 1361.2,366.4 1361.9,368.7 1362.6,370.1 1363.3,370.4 1364.0,370.5 1364.7,370.8 1365.4,371.0 1366.1,370.4 1366.8,370.7 1367.5,370.5 1368.2,370.6 1368.9,371.3 1369.6,370.9 1370.3,370.4 1371.0,370.2 1371.7,369.9 1372.4,368.5 1373.1,366.4 1373.8,343.4 1374.5,247.6 1374.5,247.5 1375.2,337.0 1375.9,365.9 1376.6,368.7 1377.3,369.8 1378.0,370.6 1378.7,370.8 1379.4,370.7 1380.1,371.5 1380.8,371.7 1381.5,371.7 1382.2,371.6 1382.9,371.4 1383.6,371.8 1384.3,371.2 1385.0,371.1 1385.7,371.2 1386.4,371.5 1387.1,371.2 1387.8,371.4 1388.5,371.7 1389.2,371.4 1389.9,370.9 1390.6,370.6 1391.3,370.2 1392.0,369.5 1392.7,367.1 1393.4,357.9 1394.1,342.5 1394.3,340.4 1394.8,347.0 1395.5,362.4 1396.2,368.8 1396.9,369.1 1397.6,369.8 1398.3,369.6 1399.0,366.2 1399.7,355.0 1400.4,332.9 1400.7,327.9 1401.1,333.9 1401.8,356.7 1402.5,367.2 1403.2,369.9 1403.9,370.7 1404.6,371.3 1405.3,371.3 1406.0,371.8 1406.7,371.1 1407.4,371.1 1408.1,371.2 1408.8,371.5 1409.5,371.6 1410.2,371.3 1410.9,368.2 1411.6,363.7 1412.0,362.8 1412.3,364.2 1413.0,368.5 1413.7,370.7 1414.4,371.3 1415.1,371.9 1415.8,371.9 1416.5,372.3 1417.2,371.7 1417.9,371.9 1418.6,372.4 1419.3,372.2 1420.0,371.7 1420.7,372.1 1421.4,371.8 1422.1,371.4 1422.8,371.1 1423.5,370.4 1424.2,366.6 1424.9,362.0 1425.0,362.4 1425.6,365.0 1426.3,369.7 1427.0,371.4 1427.7,371.3 1428.4,372.2 1429.1,371.7 1429.8,371.7 1430.5,372.0 1431.2,371.7 1431.9,371.5 1432.6,371.4 1433.3,370.5 1434.0,368.2 1434.7,365.1 1434.8,364.9 1435.4,367.2 1436.1,371.0 1436.8,371.8 1437.5,372.1 1438.2,371.6 1438.9,372.5 1439.6,371.7 1440.3,372.4 1441.0,372.3 1441.7,372.1 1442.4,372.0 1443.1,372.2 1443.8,372.2 1444.5,372.3 1445.2,371.4 1445.9,370.8 1446.6,368.8 1447.3,362.9 1447.7,361.4 1448.0,362.2 1448.7,367.5 1449.4,371.3 1450.1,371.5 1450.8,371.8 1451.5,372.3 1452.2,372.6 1452.9,372.5 1453.6,372.6 1454.3,372.0 1455.0,371.8 1455.7,371.7 1456.4,370.7 1457.1,368.6 1457.3,368.5 1457.8,369.6 1458.5,371.0 1459.2,372.1 1459.9,372.1 1460.6,372.6 1461.3,372.1 1462.0,372.3 1462.7,372.4 1463.4,372.5 1464.1,372.6 1464.8,372.5 1465.5,371.9 1466.2,372.7 1466.9,371.7 1467.6,372.3 1468.3,371.7 1469.0,371.3 1469.7,371.1 1470.4,369.8 1471.1,365.7 1471.8,353.0 1472.5,337.9 1472.6,337.4 1473.2,350.0 1473.9,365.0 1474.6,369.8 1475.3,370.8 1476.0,371.6 1476.7,372.3 1477.4,372.6 1478.1,372.3 1478.8,372.6 1479.5,372.3 1480.2,372.7 1480.9,372.7 1481.6,372.9 1482.3,372.2 1483.0,372.5 1483.7,372.1 1484.4,372.6 1485.1,372.5 1485.8,372.6 1486.5,372.6 1487.2,372.4 1487.9,372.2 1488.6,372.4 1489.3,372.9 1490.0,372.4 1490.7,373.1 1491.4,372.9 1492.1,372.4 1492.8,372.6 1493.5,372.9 1494.2,372.1 1494.9,372.9 1495.6,372.5 1496.3,372.8 1497.0,372.1 1497.7,372.8 1498.4,372.2 1499.1,372.4 1499.8,372.8 1500.5,372.8 1501.2,372.5 1501.9,372.4 1502.6,372.5 1503.3,372.5 1504.0,372.4 1504.7,372.4 1505.4,372.7 1506.1,372.9 1506.8,373.0 1507.5,372.6 1508.2,373.1 1508.9,372.5 1509.6,373.0 1510.3,373.0 1511.0,373.0 1511.7,373.1 1512.4,372.8 1513.1,373.1 1513.8,372.5 1514.5,372.7 1515.2,372.8 1515.9,372.8 1516.6,372.3 1517.3,372.5 1518.0,372.9 1518.7,372.6 1519.4,372.9 1520.1,373.0 1520.8,372.8 1521.5,372.4 1522.2,372.7 1522.9,373.2 1523.6,372.6 1524.3,372.3 1525.0,373.0 1525.7,372.6 1526.4,372.5 1527.1,372.8 1527.8,373.2 1528.5,372.8 1529.2,372.5 1529.9,372.3 1530.6,372.7 1531.3,372.5 1532.0,373.2 1532.7,373.1 1533.4,373.2 1534.1,373.1 1534.8,372.4 1535.5,372.7 1536.2,372.6 1536.9,372.4 1537.6,371.8 1538.3,369.0 1539.0,364.4 1539.3,363.4 1539.7,365.4 1540.4,369.4 1541.1,372.2 1541.8,372.5 1542.5,372.4 1543.2,373.0 1543.9,372.3 1544.6,372.4 1545.3,373.0 1546.0,372.6 1546.7,373.2 1547.4,372.8 1548.1,372.3 1548.8,373.2 1549.5,373.3 1550.2,372.8 1550.9,373.0 1551.6,373.0 1552.3,372.4 1553.0,373.1 1553.7,372.8 1554.4,373.0 1555.1,372.3 1555.8,372.7 1556.5,372.5 1557.2,373.2 1557.9,372.2 1558.6,371.9 1559.3,371.2 1560.0,369.6 1560.3,368.6 1560.7,369.6 1561.4,371.7 1562.1,372.5 1562.8,372.6 1563.5,373.0 1564.2,372.4 1564.9,372.6 1565.6,373.1 1566.3,372.5 1567.0,372.5 1567.7,372.3 1568.4,372.1 1569.1,371.2 1569.7,369.5 1569.8,370.0 1570.5,371.8 1571.2,372.0 1571.9,372.7 1572.6,372.6 1573.3,372.9 1574.0,373.3 1574.7,373.3 1575.4,372.7 1576.1,372.6 1576.8,372.9 1577.5,373.3 1578.2,372.6 1578.9,372.7 1579.6,372.8 1580.3,373.3 1581.0,372.7 1581.7,372.6 1582.4,372.8 1583.1,373.0 1583.8,372.6 1584.5,373.2 1585.2,372.6 1585.9,373.0 1586.6,372.8 1587.3,373.3 1588.0,373.4 1588.7,372.9 1589.4,372.8 1590.1,372.8 1590.8,373.1 1591.5,372.6 1592.2,372.5 1592.9,372.7 1593.6,373.0 1594.3,372.8 1595.0,372.6 1595.7,373.0 1596.4,373.4 1597.1,373.3 1597.8,372.6 1598.5,372.5 1599.2,373.0 1599.9,373.0 1600.6,371.8 1601.3,370.4 1602.0,367.2 1602.3,367.4 1602.7,368.6 1603.4,370.8 1604.1,372.8 1604.8,372.3 1605.5,372.6 1606.2,373.3 1606.9,372.7 1607.6,373.4 1608.3,373.0 1609.0,373.1 1609.7,373.4 1610.4,373.2 1611.1,372.8 1611.8,372.9 1612.5,372.8 1613.2,372.7 1613.9,372.8 1614.6,373.2 1615.3,372.9 1616.0,372.5 1616.7,373.3 1617.4,373.1 1618.1,373.4 1618.8,373.1 1619.5,372.8 1620.2,373.3 1620.9,373.2 1621.6,373.1 1622.3,373.1 1623.0,372.8 1623.7,372.7 1624.4,372.5 1625.1,372.9 1625.8,373.0 1626.5,372.6 1627.2,373.4 1627.9,373.3 1628.6,372.7 1629.3,372.5 1630.0,372.3 1630.7,372.7 1631.4,372.0 1632.1,368.9 1632.8,365.5 1633.0,364.8 1633.5,367.1 1634.2,370.7 1634.9,371.9 1635.6,372.2 1636.3,373.2 1637.0,372.5 1637.7,372.5 1638.4,373.1 1639.1,372.8 1639.8,373.0 1640.5,372.5 1641.2,372.5 1641.9,373.0 1642.6,373.5 1643.3,372.7 1644.0,372.7 1644.7,373.3 1645.4,373.3 1646.1,373.0 1646.8,373.2 1647.5,372.9 1648.2,372.8 1648.9,372.9 1649.6,372.8 1650.3,373.1 1651.0,373.3 1651.7,373.3 1652.4,373.2 1653.1,372.7 1653.8,373.2 1654.5,372.8 1655.2,372.7 1655.9,373.0 1656.6,373.5 1657.3,372.9 1658.0,373.2 1658.7,373.3 1659.4,373.2 1660.1,372.7 1660.8,373.2 1661.5,373.2 1662.2,372.8 1662.9,372.6 1663.6,372.6 1664.3,373.2 1665.0,373.4 1665.7,372.5 1666.4,372.9 1667.1,373.3 1667.8,373.4 1668.5,373.3 1669.2,372.6 1669.9,372.8 1670.6,372.5 1671.3,372.8 1672.0,373.1 1672.7,372.4 1673.4,372.9 1674.1,371.1 1674.8,367.6 1675.5,362.4 1675.7,362.1 1676.2,365.3 1676.9,370.2 1677.6,372.4 1678.3,372.7 1679.0,373.2 1679.7,373.2 1680.4,373.3 1681.1,373.4 1681.8,373.1 1682.5,372.9 1683.2,372.7 1683.9,372.8 1684.6,373.0 1685.3,373.3 1686.0,373.0 1686.7,372.6 1687.4,372.8 1688.1,373.1 1688.8,372.7 1689.5,373.4 1690.2,372.8 1690.9,372.6 1691.6,373.4 1692.3,373.0 1693.0,372.7 1693.7,372.6 1694.4,373.0 1695.1,373.4 1695.8,372.7 1696.5,372.6 1697.2,372.7 1697.9,370.9 1698.6,368.0 1698.9,366.6 1699.3,368.3 1700.0,371.5 1700.7,372.3 1701.4,373.1 1702.1,372.5 1702.8,372.7 1703.5,373.4 1704.2,372.7 1704.9,372.9 1705.6,372.8 1706.3,372.6 1707.0,373.4 1707.7,372.6 1708.4,373.4 1709.1,372.8 1709.8,373.1 1710.5,372.8 1711.2,372.7 1711.9,373.0 1712.6,373.3 1713.3,373.0 1714.0,372.5 1714.7,372.8 1715.4,372.8 1716.1,372.9 1716.8,372.1 1717.5,372.1 1718.2,370.4 1718.9,365.9 1719.6,351.9 1720.2,343.1 1720.3,344.0 1721.0,356.4 1721.7,360.4 1722.4,356.5 1722.5,356.5 1723.1,361.9 1723.8,369.1 1724.5,371.1 1725.2,372.3 1725.9,372.6 1726.6,372.7 1727.3,372.2 1728.0,372.7 1728.7,373.2 1729.4,372.6 1730.1,373.3 1730.8,373.2 1731.5,372.8 1732.2,372.6 1732.9,372.6 1733.6,373.2 1734.3,372.9 1735.0,373.0 1735.7,372.5 1736.4,372.1 1737.1,369.5 1737.8,364.0 1738.3,362.0 1738.5,362.5 1739.2,368.3 1739.9,371.4 1740.6,372.1 1741.3,372.5 1742.0,373.2 1742.7,373.3 1743.4,373.3 1744.1,372.7 1744.8,373.0 1745.5,373.2 1746.2,372.7 1746.9,372.9 1747.6,373.3 1748.3,373.5 1749.0,372.7 1749.7,373.0 1750.4,373.0 1751.1,373.0 1751.8,373.4 1752.5,372.5 1753.2,373.3 1753.9,373.3 1754.6,372.7 1755.3,373.0 1756.0,372.3 1756.7,369.8 1757.4,367.7 1757.4,367.8 1758.1,370.6 1758.8,371.9 1759.5,373.0 1760.2,372.4 1760.9,373.1 1761.6,372.6 1762.3,372.7 1763.0,371.5 1763.7,369.9 1764.1,369.2 1764.4,369.8 1765.1,371.1 1765.8,372.4 1766.5,373.2 1767.2,373.0 1767.9,372.5 1768.6,372.5 1769.3,372.9 1770.0,372.4 1770.7,372.3 1771.4,372.6 1772.1,372.3 1772.8,372.3 1773.5,371.9 1774.2,371.1 1774.9,366.8 1775.6,356.3 1776.3,346.0 1776.3,346.8 1777.0,356.6 1777.7,363.0 1778.4,359.0 1778.7,357.7 1779.1,360.2 1779.8,368.1 1780.5,371.2 1781.2,372.1 1781.9,372.2 1782.6,373.1 1783.3,372.9 1784.0,372.6 1784.7,373.3 1785.4,372.7 1786.1,373.4 1786.8,373.4 1787.5,373.2 1788.2,372.7 1788.9,373.4 1789.6,372.9 1790.3,372.4 1791.0,372.9 1791.7,372.9 1792.4,372.8 1793.1,372.3 1793.8,372.3 1794.5,372.2 1795.2,372.0 1795.9,371.1 1796.6,367.9 1797.3,359.1 1797.8,353.9 1798.0,354.4 1798.7,363.2 1799.4,369.1 1800.1,368.2 1800.8,363.2 1801.2,361.4 1801.5,363.2 1802.2,368.5 1802.9,371.5 1803.6,372.8 1804.3,372.7 1805.0,373.1 1805.7,373.2 1806.4,373.4 1807.1,372.7 1807.8,373.2 1808.5,373.4 1809.2,372.9 1809.9,373.4 1810.6,372.6 1811.3,372.7 1812.0,372.8 1812.7,372.9 1813.4,372.8 1814.1,372.9 1814.8,373.1 1815.5,373.2 1816.2,372.9 1816.9,373.5 1817.6,373.6 1818.3,373.6 1819.0,373.3 1819.7,373.6 1820.4,373.4 1821.1,373.6 1821.8,373.1 1822.5,373.6 1823.2,372.7 1823.9,373.4 1824.6,373.3 1825.3,372.8 1826.0,373.5 1826.7,373.0 1827.4,373.6 1828.1,373.6 1828.8,373.1 1829.5,373.6 1830.2,372.8 1830.9,372.9 1831.6,373.5 1832.3,373.4 1833.0,373.0 1833.7,373.1 1834.4,373.1 1835.1,373.4 1835.8,372.7 1836.5,373.2 1837.2,373.3 1837.9,373.4 1838.6,372.7 1839.3,372.9 1840.0,372.9 1840.7,373.1 1841.4,373.3 1842.1,373.2 1842.8,373.0 1843.5,373.1 1844.2,373.5 1844.9,373.6 1845.6,373.4 1846.3,373.0 1847.0,372.7 1847.7,373.3 1848.4,372.7 1849.1,372.9 1849.8,372.8 1850.5,372.9 1851.2,372.7 1851.9,372.7 1852.6,373.6 1853.3,373.6 1854.0,372.7 1854.7,373.5 1855.4,373.5 1856.1,373.6 1856.8,373.5 1857.5,372.9 1858.2,373.4 1858.9,372.7 1859.6,373.2 1860.3,373.5 1861.0,372.7 1861.7,372.8 1862.4,373.6 1863.1,373.1 1863.8,372.8 1864.5,373.0 1865.2,373.0 1865.9,372.7 1866.6,373.5 1867.3,373.1 1868.0,373.3 1868.7,373.3 1869.4,373.6 1870.1,373.5 1870.8,373.2 1871.5,373.0 1872.2,373.2 1872.9,372.8 1873.6,372.7 1874.3,373.1 1875.0,373.2 1875.7,372.8 1876.4,370.4 1877.1,366.8 1877.7,364.4 1877.8,364.7 1878.5,368.6 1879.2,371.8 1879.9,372.9 1880.6,372.5 1881.3,372.8 1882.0,372.6 1882.7,373.2" fill="none" stroke="#7f7f00" stroke-width="1.8" stroke-linejoin="round"/>
<rect x="1097.6" y="35.3" width="786.8" height="581.9" fill="none" stroke="#000" stroke-width="4"/>
<line x1="1097.6" y1="617.2" x2="1097.6" y2="607.2" stroke="#000" stroke-width="3.5"/>
<line x1="1153.8" y1="617.2" x2="1153.8" y2="612.7" stroke="#000" stroke-width="3.5"/>
<line x1="1210.0" y1="617.2" x2="1210.0" y2="607.2" stroke="#000" stroke-width="3.5"/>
<line x1="1266.2" y1="617.2" x2="1266.2" y2="612.7" stroke="#000" stroke-width="3.5"/>
<line x1="1322.4" y1="617.2" x2="1322.4" y2="607.2" stroke="#000" stroke-width="3.5"/>
<line x1="1378.6" y1="617.2" x2="1378.6" y2="612.7" stroke="#000" stroke-width="3.5"/>
<line x1="1434.8" y1="617.2" x2="1434.8" y2="607.2" stroke="#000" stroke-width="3.5"/>
<line x1="1491.0" y1="617.2" x2="1491.0" y2="612.7" stroke="#000" stroke-width="3.5"/>
<line x1="1547.2" y1="617.2" x2="1547.2" y2="607.2" stroke="#000" stroke-width="3.5"/>
<line x1="1603.4" y1="617.2" x2="1603.4" y2="612.7" stroke="#000" stroke-width="3.5"/>
<line x1="1659.6" y1="617.2" x2="1659.6" y2="607.2" stroke="#000" stroke-width="3.5"/>
<line x1="1715.8" y1="617.2" x2="1715.8" y2="612.7" stroke="#000" stroke-width="3.5"/>
<line x1="1772.0" y1="617.2" x2="1772.0" y2="607.2" stroke="#000" stroke-width="3.5"/>
<line x1="1828.2" y1="617.2" x2="1828.2" y2="612.7" stroke="#000" stroke-width="3.5"/>
<line x1="1884.4" y1="617.2" x2="1884.4" y2="607.2" stroke="#000" stroke-width="3.5"/>
<text x="1097.6" y="667.5" font-size="48" font-family="Liberation Serif" font-weight="bold" text-anchor="middle" >20</text>
<text x="1210.0" y="667.5" font-size="48" font-family="Liberation Serif" font-weight="bold" text-anchor="middle" >30</text>
<text x="1322.4" y="667.5" font-size="48" font-family="Liberation Serif" font-weight="bold" text-anchor="middle" >40</text>
<text x="1434.8" y="667.5" font-size="48" font-family="Liberation Serif" font-weight="bold" text-anchor="middle" >50</text>
<text x="1547.2" y="667.5" font-size="48" font-family="Liberation Serif" font-weight="bold" text-anchor="middle" >60</text>
<text x="1659.6" y="667.5" font-size="48" font-family="Liberation Serif" font-weight="bold" text-anchor="middle" >70</text>
<text x="1772.0" y="667.5" font-size="48" font-family="Liberation Serif" font-weight="bold" text-anchor="middle" >80</text>
<text x="1884.4" y="667.5" font-size="48" font-family="Liberation Serif" font-weight="bold" text-anchor="middle" >90</text>
<text x="1315.0" y="712.0" font-size="48.5" font-family="Liberation Serif" font-weight="bold" text-anchor="start" textLength="351.5" lengthAdjust="spacingAndGlyphs" >2 Theta (Degree)</text>
<text transform="translate(1074.8,424.5) rotate(-90)" font-size="50" font-family="Liberation Serif" font-weight="bold" textLength="186.0" lengthAdjust="spacingAndGlyphs">Intensity</text>
<circle cx="1114.6" cy="57.7" r="8" fill="#000"/>
<text x="1141.5" y="68.4" font-size="30" font-family="Liberation Serif" text-anchor="start" textLength="111.0" lengthAdjust="spacingAndGlyphs" >τ - MnAl</text>
<text x="1105.0" y="98.1" font-size="30" font-family="Liberation Serif" text-anchor="start" >$</text>
<text x="1136.5" y="98.1" font-size="30" font-family="Liberation Serif" text-anchor="start" textLength="182.5" lengthAdjust="spacingAndGlyphs" >ε - Mn<tspan font-size="20" dy="7">0.55</tspan><tspan dy="-7">Al</tspan><tspan font-size="20" dy="7">0.45</tspan></text>
<text x="1101.5" y="133.5" font-size="30" font-family="Liberation Serif" text-anchor="start" >@</text>
<text x="1137.0" y="133.5" font-size="30" font-family="Liberation Serif" text-anchor="start" textLength="173.0" lengthAdjust="spacingAndGlyphs" >ε - Mn<tspan font-size="20" dy="7">257</tspan><tspan dy="-7">Al</tspan><tspan font-size="20" dy="7">225</tspan></text>
<text x="1103.5" y="169.6" font-size="30" font-family="Liberation Sans" text-anchor="start" >+</text>
<text x="1137.0" y="169.6" font-size="30" font-family="Liberation Serif" text-anchor="start" textLength="134.0" lengthAdjust="spacingAndGlyphs" >β - Mn<tspan font-size="20" dy="7">3</tspan><tspan dy="-7">Al</tspan><tspan font-size="20" dy="7">2</tspan></text>
<text x="1103.0" y="204.4" font-size="30" font-family="Liberation Sans" font-weight="bold" text-anchor="start" >#</text>
<text x="1135.5" y="204.4" font-size="30" font-family="Liberation Serif" text-anchor="start" textLength="138.0" lengthAdjust="spacingAndGlyphs" >γ<tspan font-size="20" dy="7">2</tspan><tspan dy="-7"> - Mn</tspan><tspan font-size="20" dy="7">5</tspan><tspan dy="-7">Al</tspan><tspan font-size="20" dy="7">8</tspan></text>
<text x="1762.0" y="119.5" font-size="52" font-family="Liberation Sans" text-anchor="start" textLength="61.0" lengthAdjust="spacingAndGlyphs" >(b)</text>
<text x="1886.5" y="372.3" font-size="30" font-family="Liberation Serif" font-weight="bold" text-anchor="start" textLength="84.0" lengthAdjust="spacingAndGlyphs" >600 °C</text>
<text x="1886.5" y="404.7" font-size="30" font-family="Liberation Serif" font-weight="bold" text-anchor="start" textLength="84.0" lengthAdjust="spacingAndGlyphs" >500 °C</text>
<text x="1886.5" y="438.0" font-size="30" font-family="Liberation Serif" font-weight="bold" text-anchor="start" textLength="84.0" lengthAdjust="spacingAndGlyphs" >450 °C</text>
<text x="1886.5" y="473.2" font-size="30" font-family="Liberation Serif" font-weight="bold" text-anchor="start" textLength="84.0" lengthAdjust="spacingAndGlyphs" >400 °C</text>
<text x="1886.5" y="501.7" font-size="30" font-family="Liberation Serif" font-weight="bold" text-anchor="start" textLength="84.0" lengthAdjust="spacingAndGlyphs" >375 °C</text>
<text x="1886.5" y="555.0" font-size="30" font-family="Liberation Serif" font-weight="bold" text-anchor="start" textLength="84.0" lengthAdjust="spacingAndGlyphs" >350 °C</text>
<text x="1886.5" y="589.2" font-size="30" font-family="Liberation Serif" font-weight="bold" text-anchor="start" textLength="84.0" lengthAdjust="spacingAndGlyphs" >300 °C</text>
<text x="1886.5" y="615.8" font-size="30" font-family="Liberation Serif" font-weight="bold" text-anchor="start" textLength="60.0" lengthAdjust="spacingAndGlyphs" >ASQ</text>
<circle cx="1154.1" cy="339.8" r="7.8" fill="#000"/>
<circle cx="1236.2" cy="344.9" r="7.8" fill="#000"/>
<circle cx="1334.8" cy="151.9" r="7.8" fill="#000"/>
<circle cx="1392.9" cy="309.5" r="7.8" fill="#000"/>
<circle cx="1451.1" cy="353.1" r="7.8" fill="#000"/>
<circle cx="1472.2" cy="326.0" r="7.8" fill="#000"/>
<circle cx="1636.7" cy="350.8" r="7.8" fill="#000"/>
<circle cx="1676.7" cy="350.5" r="7.8" fill="#000"/>
<circle cx="1740.2" cy="349.2" r="7.8" fill="#000"/>
<circle cx="1796.4" cy="344.2" r="7.8" fill="#000"/>
<circle cx="1875.9" cy="348.0" r="7.8" fill="#000"/>
<text x="1142.0" y="305.7" font-size="30" font-family="Liberation Sans" text-anchor="middle" dominant-baseline="central">+</text>
<text x="1348.7" y="118.7" font-size="30" font-family="Liberation Sans" text-anchor="middle" dominant-baseline="central">+</text>
<text x="1375.2" y="229.9" font-size="30" font-family="Liberation Sans" text-anchor="middle" dominant-baseline="central">+</text>
<text x="1538.2" y="351.5" font-size="30" font-family="Liberation Sans" text-anchor="middle" dominant-baseline="central">+</text>
<text x="1141.5" y="336.0" font-size="30" font-family="Liberation Sans" font-weight="bold" text-anchor="middle" dominant-baseline="central">#</text>
<text x="1261.5" y="338.6" font-size="30" font-family="Liberation Sans" font-weight="bold" text-anchor="middle" dominant-baseline="central">#</text>
<text x="1299.0" y="343.6" font-size="30" font-family="Liberation Sans" font-weight="bold" text-anchor="middle" dominant-baseline="central">#</text>
<text x="1319.0" y="343.6" font-size="30" font-family="Liberation Sans" font-weight="bold" text-anchor="middle" dominant-baseline="central">#</text>
<text x="1406.8" y="319.6" font-size="30" font-family="Liberation Sans" font-weight="bold" text-anchor="middle" dominant-baseline="central">#</text>
<text x="1565.5" y="347.5" font-size="30" font-family="Liberation Sans" font-weight="bold" text-anchor="middle" dominant-baseline="central">#</text>
<text x="1718.3" y="332.8" font-size="30" font-family="Liberation Sans" font-weight="bold" text-anchor="middle" dominant-baseline="central">#</text>
<text x="1366.5" y="415.4" font-size="30" font-family="Liberation Serif" text-anchor="middle" dominant-baseline="central">$</text>
<text x="1305.2" y="530.7" font-size="30" font-family="Liberation Serif" text-anchor="middle" dominant-baseline="central">$</text>
<text x="1523.9" y="517.8" font-size="30" font-family="Liberation Serif" text-anchor="middle" dominant-baseline="central">$</text>
<text x="1653.1" y="541.2" font-size="30" font-family="Liberation Serif" text-anchor="middle" dominant-baseline="central">$</text>
<text x="1739.6" y="506.1" font-size="30" font-family="Liberation Serif" text-anchor="middle" dominant-baseline="central">$</text>
<text x="1801.6" y="529.5" font-size="30" font-family="Liberation Serif" text-anchor="middle" dominant-baseline="central">$</text>
<text x="1819.2" y="544.2" font-size="30" font-family="Liberation Serif" text-anchor="middle" dominant-baseline="central">$</text>
<text x="1188.4" y="538.0" font-size="30" font-family="Liberation Serif" text-anchor="middle" dominant-baseline="central">@</text>
<text x="1351.9" y="513.2" font-size="30" font-family="Liberation Serif" text-anchor="middle" dominant-baseline="central">@</text>
<polyline points="115.3,1044.9 116.8,1045.3 118.3,1044.5 119.8,1044.7 121.3,1045.4 122.8,1045.1 124.3,1044.6 125.8,1044.8 127.3,1045.3 128.8,1044.9 130.3,1044.5 131.8,1045.3 133.3,1044.6 134.8,1045.1 136.3,1045.0 137.8,1044.9 139.3,1045.3 140.8,1044.6 142.3,1045.0 143.8,1044.6 145.3,1045.3 146.8,1044.6 148.3,1044.9 149.8,1045.2 151.3,1045.3 152.8,1044.6 154.3,1045.3 155.8,1045.2 157.3,1044.8 158.8,1045.2 160.3,1044.7 161.8,1044.6 163.3,1044.6 164.8,1044.7 166.3,1045.2 167.8,1044.9 169.2,1045.4 170.8,1045.3 172.2,1044.7 173.8,1044.8 175.2,1044.5 176.8,1045.0 178.2,1045.0 179.7,1045.0 181.2,1044.5 182.7,1045.0 184.2,1044.6 185.7,1045.2 187.2,1044.9 188.7,1044.5 190.2,1045.3 191.7,1045.3 193.2,1044.7 194.7,1045.3 196.2,1044.7 197.7,1044.9 199.2,1044.9 200.7,1045.1 202.2,1044.5 203.7,1044.5 205.2,1044.6 206.7,1044.8 208.2,1045.1 209.7,1045.1 211.2,1044.5 212.7,1045.1 214.2,1044.6 215.7,1044.4 217.2,1044.8 218.7,1045.2 220.2,1045.2 221.7,1044.8 223.2,1045.1 224.7,1044.6 226.2,1044.5 227.7,1045.2 229.2,1045.0 230.7,1044.5 232.2,1044.7 233.7,1045.1 235.2,1044.4 236.7,1044.5 238.2,1045.1 239.7,1044.6 241.2,1044.7 242.7,1044.7 244.2,1044.8 245.7,1044.6 247.2,1044.5 248.7,1045.0 250.2,1045.0 251.7,1045.1 253.2,1044.3 254.7,1044.4 256.2,1045.0 257.7,1044.5 259.2,1045.0 260.7,1044.5 262.2,1044.6 263.7,1044.8 265.2,1044.6 266.7,1044.7 268.2,1044.2 269.7,1044.9 271.2,1044.7 272.7,1044.3 274.2,1044.5 275.7,1044.6 277.2,1044.9 278.7,1044.0 280.2,1044.8 281.6,1044.5 283.1,1044.0 284.6,1044.2 286.1,1044.5 287.6,1043.9 289.1,1044.2 290.6,1044.1 292.1,1044.1 293.6,1043.5 295.1,1043.3 296.6,1044.0 298.1,1042.9 299.6,1042.5 301.1,1042.2 302.6,1040.7 304.1,1039.9 305.6,1037.8 307.1,1034.7 308.6,1031.3 310.1,1026.7 311.6,1021.5 313.1,1015.2 314.6,1008.8 316.1,1002.9 317.6,998.5 319.1,994.7 320.6,992.1 320.9,992.4 322.1,992.2 323.6,994.6 325.1,997.8 326.6,1002.1 328.1,1006.4 329.6,1009.9 331.1,1012.7 332.6,1014.3 334.1,1015.0 335.6,1015.4 337.1,1016.5 338.6,1017.2 338.9,1017.0 340.1,1018.5 341.6,1020.4 343.1,1023.9 344.6,1027.2 346.1,1029.7 347.6,1033.4 349.1,1036.4 350.6,1038.7 352.1,1040.4 353.6,1041.2 355.1,1042.6 356.6,1043.0 358.1,1043.7 359.6,1043.7 361.1,1043.7 362.6,1044.2 364.1,1043.8 365.6,1043.9 367.1,1044.4 368.6,1044.5 370.1,1044.0 371.6,1043.9 373.1,1044.3 374.6,1044.0 376.1,1044.8 377.6,1044.2 379.1,1043.9 380.6,1044.4 382.1,1044.4 383.6,1044.3 385.1,1044.4 386.6,1044.0 388.1,1044.1 389.6,1044.5 391.1,1043.9 392.6,1044.3 394.1,1044.1 395.6,1044.6 397.1,1044.4 398.6,1044.4 400.1,1044.1 401.6,1044.3 403.1,1044.3 404.6,1044.2 406.1,1044.3 407.5,1044.2 409.0,1044.4 410.5,1044.1 412.0,1043.9 413.5,1043.7 415.0,1043.7 416.5,1043.6 418.0,1043.6 419.5,1044.2 421.0,1044.1 422.5,1043.7 424.0,1044.1 425.5,1043.6 427.0,1043.6 428.5,1043.8 430.0,1043.3 431.5,1043.4 433.0,1043.2 434.5,1043.5 436.0,1042.9 437.5,1043.0 439.0,1043.1 440.5,1042.9 442.0,1042.9 443.5,1042.2 445.0,1042.1 446.5,1041.5 448.0,1041.3 449.5,1041.3 451.0,1040.9 452.5,1039.8 454.0,1038.7 455.5,1038.1 457.0,1035.9 458.5,1033.6 460.0,1029.5 461.5,1024.1 463.0,1015.6 464.5,1003.2 466.0,988.4 467.5,969.8 469.0,950.3 470.5,932.5 472.0,920.3 472.8,917.6 473.5,917.3 475.0,924.0 476.5,936.9 478.0,950.4 479.5,963.2 481.0,972.4 482.5,978.0 484.0,980.0 485.5,979.8 487.0,977.2 488.5,973.7 490.0,971.3 491.5,968.8 493.0,967.5 493.8,967.9 494.5,967.8 496.0,970.1 497.5,973.6 499.0,977.9 500.5,983.4 502.0,989.7 503.5,995.9 505.0,1002.8 506.5,1008.5 508.0,1013.7 509.4,1018.6 510.9,1021.9 512.5,1023.2 514.0,1024.1 515.5,1022.7 517.0,1021.4 518.3,1021.6 518.5,1021.4 520.0,1024.2 521.4,1029.1 522.9,1032.4 524.4,1035.3 525.9,1037.1 527.4,1039.1 528.9,1040.0 530.4,1040.0 531.9,1041.2 533.4,1040.9 534.9,1041.0 536.4,1041.4 537.9,1041.7 539.4,1041.2 540.9,1041.3 542.4,1041.3 543.9,1041.4 545.4,1041.0 546.9,1041.3 548.4,1041.1 549.9,1040.8 551.4,1039.7 552.9,1039.7 554.4,1039.4 555.9,1038.4 557.4,1037.6 558.9,1036.8 560.4,1035.3 561.9,1033.2 563.4,1031.1 564.9,1029.4 566.4,1026.1 567.9,1023.3 569.4,1020.8 570.9,1018.7 571.9,1018.4 572.4,1018.8 573.9,1019.7 575.4,1021.9 576.9,1024.4 578.4,1027.4 579.9,1029.0 581.4,1030.9 582.9,1031.3 584.4,1031.1 585.9,1030.2 587.4,1030.1 588.8,1029.6 588.9,1030.2 590.4,1031.2 591.9,1032.5 593.4,1033.8 594.9,1035.5 596.4,1036.4 597.9,1037.1 599.4,1037.0 600.9,1036.9 602.4,1035.9 603.9,1034.8 605.4,1033.2 606.9,1031.9 608.4,1029.7 609.9,1027.3 611.4,1024.8 612.9,1022.5 614.0,1021.6 614.4,1021.4 615.9,1021.9 617.4,1021.9 618.9,1022.1 620.4,1022.3 621.9,1021.8 623.4,1020.9 624.9,1020.9 626.4,1019.9 627.9,1020.3 628.2,1020.2 629.4,1020.3 630.9,1022.2 632.4,1024.2 633.9,1026.7 635.3,1029.1 636.8,1030.8 638.3,1032.7 639.8,1034.7 641.3,1035.8 642.8,1036.7 644.3,1037.3 645.8,1039.0 647.3,1039.3 648.8,1040.1 650.3,1040.6 651.8,1040.5 653.3,1040.8 654.8,1041.6 656.3,1042.1 657.8,1042.0 659.3,1041.9 660.8,1042.3 662.3,1042.3 663.8,1042.5 665.3,1042.8 666.8,1043.0 668.3,1043.1 669.8,1043.5 671.3,1043.3 672.8,1043.4 674.3,1043.3 675.8,1043.3 677.3,1043.5 678.8,1043.9 680.3,1043.7 681.8,1043.9 683.3,1044.2 684.8,1043.6 686.3,1044.2 687.8,1044.4 689.3,1043.8 690.8,1044.1 692.3,1044.0 693.8,1044.1 695.3,1044.4 696.8,1044.3 698.3,1044.0 699.8,1043.9 701.3,1044.4 702.8,1044.1 704.3,1044.5 705.8,1044.2 707.3,1044.5 708.8,1044.4 710.3,1044.4 711.8,1044.2 713.3,1044.6 714.8,1044.2 716.3,1044.6 717.8,1044.4 719.3,1044.2 720.8,1044.5 722.3,1044.4 723.8,1044.7 725.3,1044.5 726.8,1044.9 728.3,1044.4 729.8,1044.9 731.3,1044.8 732.8,1044.5 734.3,1044.5 735.8,1044.7 737.2,1044.8 738.8,1044.3 740.2,1044.5 741.8,1044.3 743.2,1044.9 744.8,1044.8 746.2,1044.7 747.8,1044.5 749.2,1044.5 750.7,1044.9 752.2,1044.2 753.7,1044.3 755.2,1044.6 756.7,1045.0 758.2,1044.3 759.7,1045.0 761.2,1044.3 762.7,1044.7 764.2,1044.3 765.7,1045.0 767.2,1044.3 768.7,1044.8 770.2,1044.3 771.7,1045.0 773.2,1044.2 774.7,1045.0 776.2,1044.9 777.7,1045.0 779.2,1044.7 780.7,1044.5 782.2,1044.7 783.7,1044.3 785.2,1044.9 786.7,1044.5 788.2,1044.7 789.7,1045.0 791.2,1044.9 792.7,1044.7 794.2,1044.2 795.7,1044.3 797.2,1044.3 798.7,1044.4 800.2,1044.3 801.7,1044.2 803.2,1044.8 804.7,1045.0 806.2,1044.4 807.7,1044.7 809.2,1044.6 810.7,1044.4 812.2,1044.1 813.7,1044.6 815.2,1044.4 816.7,1044.7 818.2,1044.5 819.7,1044.1 821.2,1044.5 822.7,1044.2 824.2,1044.2 825.7,1044.3 827.2,1043.9 828.7,1044.2 830.2,1043.6 831.7,1043.4 833.2,1043.4 834.7,1043.7 836.2,1043.7 837.7,1043.3 839.2,1043.0 840.7,1042.0 842.2,1040.8 843.7,1039.7 845.2,1036.1 846.7,1031.3 848.2,1023.9 849.7,1015.0 851.1,1005.0 852.6,993.7 854.1,983.4 855.6,978.0 856.6,976.5 857.1,975.7 858.6,979.7 860.1,986.2 861.6,994.9 863.1,1003.2 864.6,1008.9 866.1,1012.1 867.6,1013.0 869.1,1011.4 870.6,1009.9 872.1,1006.9 873.6,1005.6 874.7,1005.5 875.1,1005.1 876.6,1007.3 878.1,1010.3 879.6,1014.0 881.1,1019.5 882.6,1023.6 884.1,1027.6 885.6,1031.3 887.1,1034.7 888.6,1037.2 890.1,1039.3 891.6,1040.9 893.1,1041.3 894.6,1042.4 896.1,1042.6 897.6,1043.0 899.1,1043.0 900.6,1043.7 902.1,1044.0 903.6,1043.9 905.1,1044.1 906.6,1044.1 908.1,1044.1 909.6,1044.2 911.1,1043.8 912.6,1044.0 914.1,1044.3" fill="none" stroke="#7f7f00" stroke-width="3.0" stroke-linejoin="round"/>
<polyline points="115.3,1082.8 116.8,1082.7 118.3,1082.6 119.8,1083.3 121.3,1083.0 122.8,1083.1 124.3,1082.9 125.8,1082.8 127.3,1083.1 128.8,1082.9 130.3,1083.1 131.8,1083.0 133.3,1083.2 134.8,1082.8 136.3,1082.6 137.8,1082.6 139.3,1083.1 140.8,1082.6 142.3,1083.0 143.8,1083.0 145.3,1082.5 146.8,1083.1 148.3,1082.4 149.8,1083.2 151.3,1083.2 152.8,1082.6 154.3,1083.1 155.8,1083.1 157.3,1082.5 158.8,1083.0 160.3,1082.5 161.8,1083.2 163.3,1083.0 164.8,1083.3 166.3,1082.4 167.8,1082.7 169.2,1082.9 170.8,1082.9 172.2,1082.5 173.8,1083.2 175.2,1083.1 176.8,1082.6 178.2,1082.5 179.7,1082.9 181.2,1082.7 182.7,1082.9 184.2,1082.8 185.7,1082.7 187.2,1082.3 188.7,1082.4 190.2,1082.7 191.7,1083.0 193.2,1082.7 194.7,1083.0 196.2,1082.8 197.7,1083.1 199.2,1082.9 200.7,1082.6 202.2,1082.4 203.7,1082.3 205.2,1082.3 206.7,1083.0 208.2,1083.0 209.7,1082.9 211.2,1082.3 212.7,1082.8 214.2,1082.3 215.7,1083.0 217.2,1082.8 218.7,1082.9 220.2,1082.7 221.7,1082.6 223.2,1082.9 224.7,1083.0 226.2,1082.4 227.7,1082.5 229.2,1082.8 230.7,1082.7 232.2,1082.5 233.7,1082.5 235.2,1082.9 236.7,1082.3 238.2,1082.2 239.7,1082.6 241.2,1082.3 242.7,1082.8 244.2,1082.3 245.7,1082.8 247.2,1082.3 248.7,1082.7 250.2,1082.6 251.7,1082.5 253.2,1082.0 254.7,1081.9 256.2,1081.8 257.7,1081.9 259.2,1082.3 260.7,1081.7 262.2,1081.8 263.7,1082.1 265.2,1081.7 266.7,1081.8 268.2,1081.6 269.7,1082.0 271.2,1081.4 272.7,1082.2 274.2,1081.7 275.7,1081.8 277.2,1081.5 278.7,1081.4 280.2,1081.7 281.6,1081.6 283.1,1081.4 284.6,1080.5 286.1,1080.9 287.6,1081.0 289.1,1080.6 290.6,1080.3 292.1,1080.1 293.6,1079.4 295.1,1079.5 296.6,1079.1 298.1,1077.8 299.6,1077.2 301.1,1075.8 302.6,1073.5 304.1,1070.9 305.6,1066.9 307.1,1061.2 308.6,1053.1 310.1,1043.5 311.6,1032.7 313.1,1019.4 314.6,1005.2 316.1,990.7 317.6,976.4 319.1,965.0 320.6,956.5 322.1,953.2 322.1,953.0 323.6,953.5 325.1,958.6 326.6,966.4 328.1,974.9 329.6,983.5 331.1,991.2 332.6,996.3 334.1,1000.1 335.6,1002.2 337.1,1003.2 338.6,1004.1 339.6,1006.8 340.1,1007.9 341.6,1013.3 343.1,1019.7 344.6,1028.3 346.1,1035.8 347.6,1043.8 349.1,1050.0 350.6,1055.8 351.4,1058.5 352.1,1061.3 353.6,1065.1 355.1,1069.4 356.6,1072.1 358.1,1074.0 359.6,1076.1 361.1,1077.2 362.6,1077.5 364.1,1078.8 365.6,1078.8 367.1,1078.9 368.6,1079.9 370.1,1080.1 371.6,1080.0 373.1,1080.1 374.6,1080.5 376.1,1080.8 377.6,1081.0 379.1,1080.9 380.6,1081.1 382.1,1081.4 383.6,1081.0 385.1,1081.1 386.6,1081.4 388.1,1081.7 389.6,1081.8 391.1,1081.9 392.6,1081.6 394.1,1081.9 395.6,1081.4 397.1,1081.7 398.6,1081.4 400.1,1082.2 401.6,1082.3 403.1,1082.1 404.6,1082.2 406.1,1081.8 407.5,1082.2 409.0,1081.6 410.5,1081.9 412.0,1081.9 413.5,1082.4 415.0,1081.7 416.5,1081.7 418.0,1081.7 419.5,1082.4 421.0,1081.9 422.5,1082.4 424.0,1081.9 425.5,1082.3 427.0,1081.7 428.5,1082.4 430.0,1082.4 431.5,1082.3 433.0,1082.1 434.5,1082.3 436.0,1082.2 437.5,1082.2 439.0,1081.6 440.5,1082.0 442.0,1081.9 443.5,1081.4 445.0,1081.2 446.5,1081.7 448.0,1081.2 449.5,1081.1 451.0,1081.3 452.5,1080.6 454.0,1080.1 455.5,1080.0 457.0,1079.1 458.5,1077.8 460.0,1076.5 461.5,1074.4 463.0,1070.6 464.5,1067.0 466.0,1061.7 467.5,1055.6 469.0,1048.9 470.5,1043.3 472.0,1038.1 473.5,1035.4 473.5,1035.9 475.0,1035.4 476.5,1037.2 478.0,1041.1 479.5,1044.7 481.0,1047.1 482.5,1049.3 484.0,1050.6 485.5,1051.1 487.0,1050.2 488.5,1050.3 490.0,1049.4 491.3,1049.8 491.5,1049.4 493.0,1050.0 494.5,1050.2 496.0,1051.5 497.5,1052.3 499.0,1054.1 500.5,1055.8 502.0,1057.5 503.5,1058.7 505.0,1060.1 506.5,1060.8 508.0,1061.9 509.4,1062.8 510.9,1063.1 512.5,1063.3 514.0,1063.9 514.7,1063.9 515.5,1064.0 517.0,1064.4 518.5,1064.7 520.0,1066.2 521.4,1067.1 522.9,1068.0 524.4,1069.0 525.9,1070.3 527.4,1071.6 528.9,1072.7 530.4,1073.7 531.9,1074.1 533.4,1075.9 534.9,1076.4 536.4,1077.1 537.9,1077.8 539.4,1078.2 540.9,1078.5 542.4,1079.4 543.9,1079.6 545.4,1079.4 546.9,1080.2 548.4,1080.3 549.9,1080.2 551.4,1079.8 552.9,1079.5 554.4,1079.4 555.9,1079.1 557.4,1079.3 558.9,1078.9 560.4,1078.4 561.9,1077.6 563.4,1077.0 564.9,1076.6 566.4,1075.6 567.9,1074.8 569.4,1074.7 570.9,1073.4 572.4,1072.7 573.9,1072.4 575.4,1071.6 576.9,1071.9 577.1,1071.5 578.4,1072.2 579.9,1071.8 581.4,1072.9 582.9,1072.9 584.4,1074.0 585.9,1074.7 587.4,1075.4 588.9,1075.2 590.4,1076.4 591.9,1076.1 593.4,1076.5 594.9,1076.4 596.4,1076.9 597.9,1076.5 599.4,1076.9 600.9,1077.0 602.4,1076.6 603.9,1076.1 605.4,1075.2 606.9,1075.6 608.4,1074.5 609.9,1074.5 611.4,1073.2 612.9,1072.8 614.4,1072.8 615.9,1072.1 617.4,1071.1 618.9,1070.9 620.4,1070.6 621.9,1070.0 623.4,1069.8 624.9,1069.5 626.4,1069.9 626.8,1069.8 627.9,1069.8 629.4,1070.1 630.9,1070.2 632.4,1070.6 633.9,1071.4 635.3,1071.4 636.8,1071.9 638.3,1072.9 639.8,1073.4 641.3,1074.2 642.8,1075.3 644.3,1076.1 645.8,1076.6 647.3,1077.4 648.8,1077.4 650.3,1078.1 651.8,1078.5 653.3,1079.2 654.8,1079.6 656.3,1080.0 657.8,1080.5 659.3,1081.4 660.8,1081.3 662.3,1081.9 663.8,1081.8 665.3,1082.1 666.8,1082.2 668.3,1082.3 669.8,1082.7 671.3,1082.5 672.8,1082.5 674.3,1082.3 675.8,1082.2 677.3,1082.5 678.8,1082.5 680.3,1082.3 681.8,1083.1 683.3,1082.3 684.8,1082.7 686.3,1082.5 687.8,1082.6 689.3,1083.0 690.8,1083.2 692.3,1082.7 693.8,1082.9 695.3,1083.1 696.8,1082.6 698.3,1082.7 699.8,1082.7 701.3,1083.1 702.8,1082.6 704.3,1083.1 705.8,1082.5 707.3,1082.9 708.8,1082.9 710.3,1082.4 711.8,1082.6 713.3,1083.1 714.8,1082.7 716.3,1082.4 717.8,1082.8 719.3,1082.8 720.8,1082.8 722.3,1082.7 723.8,1083.2 725.3,1083.0 726.8,1082.8 728.3,1082.8 729.8,1083.0 731.3,1082.6 732.8,1082.8 734.3,1083.0 735.8,1082.4 737.2,1082.5 738.8,1082.4 740.2,1083.0 741.8,1083.1 743.2,1083.0 744.8,1082.9 746.2,1082.4 747.8,1082.7 749.2,1082.8 750.7,1082.7 752.2,1082.6 753.7,1082.7 755.2,1082.6 756.7,1082.4 758.2,1082.9 759.7,1082.4 761.2,1082.7 762.7,1082.7 764.2,1083.1 765.7,1083.0 767.2,1082.8 768.7,1082.3 770.2,1083.0 771.7,1083.0 773.2,1082.9 774.7,1083.2 776.2,1082.8 777.7,1082.7 779.2,1082.8 780.7,1082.4 782.2,1082.9 783.7,1082.4 785.2,1082.9 786.7,1082.8 788.2,1082.9 789.7,1082.4 791.2,1082.9 792.7,1083.1 794.2,1083.1 795.7,1082.9 797.2,1082.4 798.7,1082.9 800.2,1082.4 801.7,1083.1 803.2,1082.2 804.7,1082.2 806.2,1082.5 807.7,1082.2 809.2,1083.0 810.7,1082.9 812.2,1082.3 813.7,1082.8 815.2,1082.3 816.7,1082.7 818.2,1082.1 819.7,1082.8 821.2,1082.3 822.7,1082.0 824.2,1082.2 825.7,1081.7 827.2,1081.7 828.7,1082.0 830.2,1082.0 831.7,1082.3 833.2,1081.7 834.7,1081.4 836.2,1081.2 837.7,1080.7 839.2,1081.2 840.7,1080.7 842.2,1079.7 843.7,1079.4 845.2,1078.3 846.7,1076.9 848.2,1074.9 849.7,1072.9 851.1,1070.2 852.6,1067.0 854.1,1063.2 855.6,1060.5 857.1,1058.6 858.3,1058.3 858.6,1057.9 860.1,1058.7 861.6,1060.4 863.1,1062.9 864.6,1065.4 866.1,1067.6 867.6,1068.3 869.1,1069.0 870.6,1068.4 872.1,1067.2 873.6,1066.6 875.1,1066.9 875.1,1066.2 876.6,1067.9 878.1,1070.0 879.6,1072.6 881.1,1074.3 882.6,1076.5 884.1,1078.2 885.6,1078.9 887.1,1080.2 888.6,1080.7 890.1,1081.3 891.6,1081.2 893.1,1081.1 894.6,1081.7 896.1,1081.9 897.6,1082.3 899.1,1082.2 900.6,1082.1 902.1,1082.5 903.6,1082.5 905.1,1082.4 906.6,1082.1 908.1,1081.9 909.6,1082.5 911.1,1082.0 912.6,1082.4 914.1,1083.0" fill="none" stroke="#1cbfc2" stroke-width="3.0" stroke-linejoin="round"/>
<polyline points="115.3,1117.4 116.8,1116.8 118.3,1117.1 119.8,1117.0 121.3,1117.5 122.8,1117.4 124.3,1117.6 125.8,1116.9 127.3,1117.2 128.8,1116.8 130.3,1117.0 131.8,1117.3 133.3,1116.8 134.8,1117.0 136.3,1117.4 137.8,1117.3 139.3,1117.0 140.8,1117.3 142.3,1117.5 143.8,1116.8 145.3,1117.5 146.8,1117.4 148.3,1117.1 149.8,1116.9 151.3,1117.6 152.8,1117.1 154.3,1116.8 155.8,1116.8 157.3,1117.5 158.8,1117.3 160.3,1117.5 161.8,1117.4 163.3,1117.2 164.8,1117.6 166.3,1117.1 167.8,1117.2 169.2,1117.5 170.8,1117.3 172.2,1117.5 173.8,1117.2 175.2,1117.3 176.8,1116.7 178.2,1116.9 179.7,1116.9 181.2,1116.7 182.7,1116.9 184.2,1116.8 185.7,1116.9 187.2,1117.2 188.7,1117.0 190.2,1117.0 191.7,1116.8 193.2,1116.9 194.7,1117.5 196.2,1117.2 197.7,1117.2 199.2,1116.8 200.7,1117.2 202.2,1116.7 203.7,1116.9 205.2,1117.5 206.7,1117.1 208.2,1117.0 209.7,1117.2 211.2,1117.3 212.7,1117.2 214.2,1116.7 215.7,1116.5 217.2,1116.8 218.7,1116.7 220.2,1116.6 221.7,1117.3 223.2,1117.2 224.7,1116.7 226.2,1117.0 227.7,1116.7 229.2,1117.2 230.7,1116.8 232.2,1116.6 233.7,1116.5 235.2,1116.8 236.7,1116.5 238.2,1116.8 239.7,1117.0 241.2,1116.6 242.7,1116.4 244.2,1117.0 245.7,1116.6 247.2,1116.2 248.7,1116.1 250.2,1116.1 251.7,1116.5 253.2,1116.7 254.7,1116.3 256.2,1115.9 257.7,1116.2 259.2,1116.7 260.7,1116.2 262.2,1116.5 263.7,1116.4 265.2,1115.5 266.7,1116.1 268.2,1116.0 269.7,1115.8 271.2,1115.5 272.7,1115.7 274.2,1115.1 275.7,1115.3 277.2,1115.2 278.7,1115.5 280.2,1115.3 281.6,1114.6 283.1,1114.7 284.6,1114.2 286.1,1114.6 287.6,1114.4 289.1,1113.6 290.6,1113.6 292.1,1113.2 293.6,1112.4 295.1,1112.4 296.6,1111.6 298.1,1110.9 299.6,1109.4 301.1,1107.2 302.6,1105.0 304.1,1101.3 305.6,1097.3 307.1,1090.8 308.6,1082.4 310.1,1071.6 311.6,1059.1 313.1,1046.2 314.6,1031.7 316.1,1016.7 317.6,1004.3 319.1,994.4 320.6,989.8 321.0,989.4 322.1,989.2 323.6,994.2 325.1,1002.3 326.6,1011.9 328.1,1022.4 329.6,1030.8 331.1,1037.0 332.6,1041.0 334.1,1041.9 335.6,1040.2 337.1,1038.8 338.6,1039.8 339.0,1040.1 340.1,1043.2 341.6,1050.5 343.1,1059.1 344.6,1068.3 346.1,1076.7 347.6,1084.0 349.1,1089.4 350.6,1094.0 352.1,1097.6 353.6,1101.0 355.1,1103.0 356.6,1105.5 358.1,1107.0 359.6,1107.6 361.1,1108.7 362.6,1110.0 364.1,1110.4 365.6,1110.9 367.1,1112.2 368.6,1112.4 370.1,1112.7 371.6,1113.3 373.1,1113.7 374.6,1113.4 376.1,1113.6 377.6,1114.1 379.1,1114.3 380.6,1114.6 382.1,1115.0 383.6,1115.1 385.1,1115.5 386.6,1114.8 388.1,1115.2 389.6,1115.3 391.1,1115.9 392.6,1115.4 394.1,1115.4 395.6,1115.8 397.1,1115.8 398.6,1115.8 400.1,1115.8 401.6,1116.5 403.1,1116.1 404.6,1116.5 406.1,1116.3 407.5,1115.9 409.0,1116.8 410.5,1116.7 412.0,1116.8 413.5,1116.8 415.0,1116.8 416.5,1116.2 418.0,1116.5 419.5,1116.3 421.0,1116.5 422.5,1116.2 424.0,1116.5 425.5,1117.1 427.0,1116.5 428.5,1117.0 430.0,1116.7 431.5,1116.7 433.0,1117.2 434.5,1117.2 436.0,1116.9 437.5,1117.0 439.0,1116.5 440.5,1116.7 442.0,1117.3 443.5,1117.0 445.0,1116.9 446.5,1117.1 448.0,1116.5 449.5,1117.0 451.0,1117.0 452.5,1117.3 454.0,1116.7 455.5,1117.4 457.0,1116.6 458.5,1116.7 460.0,1117.1 461.5,1117.2 463.0,1116.8 464.5,1116.7 466.0,1117.4 467.5,1116.8 469.0,1117.2 470.5,1117.2 472.0,1117.0 473.5,1117.2 475.0,1117.1 476.5,1117.5 478.0,1116.8 479.5,1117.3 481.0,1116.9 482.5,1117.0 484.0,1117.3 485.5,1117.0 487.0,1117.0 488.5,1117.4 490.0,1116.8 491.5,1117.1 493.0,1117.6 494.5,1117.6 496.0,1116.8 497.5,1116.9 499.0,1117.0 500.5,1117.6 502.0,1117.5 503.5,1117.5 505.0,1117.1 506.5,1116.9 508.0,1117.5 509.4,1117.4 510.9,1117.3 512.5,1117.6 514.0,1117.4 515.5,1116.8 517.0,1117.5 518.5,1117.0 520.0,1117.4 521.4,1117.6 522.9,1116.9 524.4,1116.9 525.9,1116.9 527.4,1117.3 528.9,1117.0 530.4,1117.3 531.9,1117.4 533.4,1117.0 534.9,1117.4 536.4,1117.0 537.9,1117.2 539.4,1117.6 540.9,1117.6 542.4,1116.9 543.9,1117.2 545.4,1117.1 546.9,1116.8 548.4,1117.5 549.9,1117.4 551.4,1117.1 552.9,1117.5 554.4,1117.3 555.9,1117.2 557.4,1116.8 558.9,1116.9 560.4,1117.6 561.9,1117.6 563.4,1117.3 564.9,1117.6 566.4,1117.4 567.9,1117.0 569.4,1117.0 570.9,1117.1 572.4,1117.7 573.9,1117.6 575.4,1117.6 576.9,1117.7 578.4,1117.0 579.9,1117.1 581.4,1116.9 582.9,1117.6 584.4,1117.6 585.9,1117.2 587.4,1117.4 588.9,1117.0 590.4,1117.7 591.9,1117.6 593.4,1117.7 594.9,1117.6 596.4,1117.7 597.9,1116.9 599.4,1117.5 600.9,1117.2 602.4,1117.7 603.9,1117.6 605.4,1117.6 606.9,1117.6 608.4,1117.1 609.9,1117.6 611.4,1117.0 612.9,1117.7 614.4,1117.6 615.9,1117.1 617.4,1117.6 618.9,1117.3 620.4,1117.2 621.9,1117.6 623.4,1117.1 624.9,1116.9 626.4,1117.1 627.9,1117.2 629.4,1117.7 630.9,1117.8 632.4,1117.1 633.9,1117.5 635.3,1117.2 636.8,1117.8 638.3,1117.4 639.8,1117.7 641.3,1117.0 642.8,1117.8 644.3,1117.0 645.8,1117.8 647.3,1117.1 648.8,1117.0 650.3,1117.3 651.8,1117.5 653.3,1117.2 654.8,1117.4 656.3,1117.4 657.8,1117.2 659.3,1117.4 660.8,1117.1 662.3,1117.5 663.8,1116.9 665.3,1117.7 666.8,1117.4 668.3,1117.5 669.8,1117.6 671.3,1117.5 672.8,1117.2 674.3,1117.0 675.8,1117.5 677.3,1117.2 678.8,1117.2 680.3,1117.7 681.8,1117.5 683.3,1117.2 684.8,1117.2 686.3,1117.3 687.8,1117.3 689.3,1117.2 690.8,1117.0 692.3,1117.3 693.8,1117.7 695.3,1117.5 696.8,1117.7 698.3,1117.5 699.8,1117.2 701.3,1117.4 702.8,1116.9 704.3,1117.2 705.8,1117.3 707.3,1117.4 708.8,1117.5 710.3,1117.3 711.8,1117.3 713.3,1117.1 714.8,1117.3 716.3,1117.7 717.8,1117.6 719.3,1117.1 720.8,1117.0 722.3,1117.4 723.8,1117.5 725.3,1117.2 726.8,1117.6 728.3,1117.6 729.8,1117.5 731.3,1117.1 732.8,1117.1 734.3,1116.9 735.8,1117.1 737.2,1117.3 738.8,1117.7 740.2,1117.0 741.8,1117.3 743.2,1117.5 744.8,1117.1 746.2,1117.5 747.8,1117.4 749.2,1117.1 750.7,1117.5 752.2,1116.9 753.7,1117.6 755.2,1117.6 756.7,1117.0 758.2,1117.3 759.7,1117.1 761.2,1117.8 762.7,1117.4 764.2,1117.0 765.7,1117.1 767.2,1117.7 768.7,1117.3 770.2,1117.6 771.7,1117.5 773.2,1117.8 774.7,1117.5 776.2,1117.8 777.7,1117.7 779.2,1117.5 780.7,1117.6 782.2,1117.4 783.7,1117.7 785.2,1117.4 786.7,1117.7 788.2,1117.6 789.7,1117.3 791.2,1117.2 792.7,1117.1 794.2,1117.5 795.7,1117.6 797.2,1117.4 798.7,1117.5 800.2,1117.2 801.7,1117.0 803.2,1117.2 804.7,1117.2 806.2,1117.2 807.7,1117.4 809.2,1117.0 810.7,1117.1 812.2,1117.5 813.7,1117.6 815.2,1117.0 816.7,1117.3 818.2,1117.4 819.7,1117.3 821.2,1117.1 822.7,1117.3 824.2,1117.7 825.7,1117.5 827.2,1117.6 828.7,1117.7 830.2,1117.6 831.7,1117.3 833.2,1116.9 834.7,1117.2 836.2,1117.6 837.7,1117.7 839.2,1117.8 840.7,1117.3 842.2,1117.6 843.7,1117.4 845.2,1117.5 846.7,1117.1 848.2,1117.1 849.7,1117.3 851.1,1117.0 852.6,1117.2 854.1,1117.5 855.6,1117.3 857.1,1117.1 858.6,1117.3 860.1,1117.0 861.6,1117.5 863.1,1117.0 864.6,1117.3 866.1,1117.4 867.6,1117.0 869.1,1117.5 870.6,1117.1 872.1,1117.3 873.6,1117.0 875.1,1117.3 876.6,1117.1 878.1,1117.2 879.6,1117.6 881.1,1117.3 882.6,1117.6 884.1,1117.7 885.6,1117.2 887.1,1117.0 888.6,1116.9 890.1,1117.4 891.6,1117.8 893.1,1117.2 894.6,1117.5 896.1,1117.6 897.6,1117.5 899.1,1117.6 900.6,1117.8 902.1,1117.1 903.6,1116.9 905.1,1117.1 906.6,1117.0 908.1,1117.5 909.6,1117.4 911.1,1117.1 912.6,1117.6 914.1,1117.6" fill="none" stroke="#c98f10" stroke-width="3.0" stroke-linejoin="round"/>
<polyline points="115.3,1160.3 116.8,1160.9 118.3,1160.4 119.8,1160.7 121.3,1160.9 122.8,1161.0 124.3,1160.7 125.8,1160.7 127.3,1160.3 128.8,1160.7 130.3,1160.6 131.8,1161.0 133.3,1160.8 134.8,1160.9 136.3,1160.6 137.8,1160.4 139.3,1161.0 140.8,1161.0 142.3,1160.6 143.8,1160.3 145.3,1160.7 146.8,1160.7 148.3,1160.9 149.8,1160.7 151.3,1160.7 152.8,1160.7 154.3,1160.5 155.8,1160.2 157.3,1160.2 158.8,1161.0 160.3,1160.9 161.8,1160.4 163.3,1160.9 164.8,1160.6 166.3,1160.2 167.8,1160.9 169.2,1160.6 170.8,1160.9 172.2,1160.7 173.8,1160.2 175.2,1160.6 176.8,1160.8 178.2,1160.9 179.7,1160.4 181.2,1160.5 182.7,1160.7 184.2,1160.2 185.7,1160.8 187.2,1160.7 188.7,1160.0 190.2,1160.5 191.7,1160.3 193.2,1160.1 194.7,1160.5 196.2,1160.8 197.7,1160.4 199.2,1160.0 200.7,1160.3 202.2,1160.6 203.7,1160.7 205.2,1160.5 206.7,1159.9 208.2,1160.7 209.7,1160.3 211.2,1159.8 212.7,1159.9 214.2,1159.8 215.7,1160.3 217.2,1159.8 218.7,1160.4 220.2,1159.7 221.7,1160.1 223.2,1160.0 224.7,1159.6 226.2,1159.5 227.7,1160.3 229.2,1160.3 230.7,1159.5 232.2,1160.0 233.7,1160.2 235.2,1160.1 236.7,1160.1 238.2,1159.5 239.7,1159.8 241.2,1159.6 242.7,1159.9 244.2,1159.7 245.7,1159.7 247.2,1159.7 248.7,1159.2 250.2,1159.4 251.7,1158.8 253.2,1158.8 254.7,1159.4 256.2,1158.9 257.7,1159.0 259.2,1158.8 260.7,1158.4 262.2,1158.6 263.7,1158.8 265.2,1158.2 266.7,1158.0 268.2,1157.8 269.7,1157.6 271.2,1158.0 272.7,1157.7 274.2,1157.8 275.7,1157.3 277.2,1157.3 278.7,1156.4 280.2,1156.1 281.6,1155.8 283.1,1155.6 284.6,1155.7 286.1,1154.6 287.6,1154.3 289.1,1153.3 290.6,1152.5 292.1,1152.0 293.6,1150.9 295.1,1149.4 296.6,1147.8 298.1,1145.3 299.6,1142.2 301.1,1137.9 302.6,1132.7 304.1,1126.7 305.6,1120.1 307.1,1111.3 308.6,1101.7 310.1,1092.0 311.6,1080.5 313.1,1069.6 314.6,1058.3 316.1,1048.6 317.6,1040.1 319.1,1034.9 319.9,1033.2 320.6,1032.2 322.1,1032.4 323.6,1035.5 325.1,1039.9 326.6,1044.6 328.1,1049.6 329.6,1054.5 331.1,1059.0 332.6,1062.0 334.1,1065.2 335.6,1067.4 337.1,1071.0 338.4,1073.7 338.6,1074.4 340.1,1079.6 341.6,1084.9 343.1,1091.3 344.6,1097.4 346.1,1104.2 347.6,1109.9 349.1,1115.7 350.6,1120.9 352.1,1126.1 352.1,1126.0 353.6,1130.4 355.1,1134.9 356.6,1138.5 358.1,1141.8 359.6,1144.4 361.1,1146.6 362.6,1148.2 364.1,1150.3 365.6,1151.3 367.1,1152.4 368.6,1153.1 370.1,1153.2 371.6,1153.9 373.1,1155.1 374.6,1155.4 376.1,1156.0 377.6,1156.3 379.1,1156.0 380.6,1157.0 382.1,1156.9 383.6,1157.2 385.1,1157.3 386.6,1157.2 388.1,1157.6 389.6,1157.7 391.1,1157.7 392.6,1157.9 394.1,1158.1 395.6,1158.1 397.1,1158.1 398.6,1158.8 400.1,1158.5 401.6,1158.6 403.1,1159.0 404.6,1159.0 406.1,1158.9 407.5,1158.8 409.0,1159.3 410.5,1158.9 412.0,1159.1 413.5,1159.1 415.0,1159.7 416.5,1159.1 418.0,1159.4 419.5,1159.4 421.0,1159.0 422.5,1159.1 424.0,1159.8 425.5,1159.7 427.0,1159.2 428.5,1159.2 430.0,1159.9 431.5,1159.6 433.0,1159.7 434.5,1159.8 436.0,1159.2 437.5,1159.4 439.0,1159.8 440.5,1159.1 442.0,1159.1 443.5,1159.6 445.0,1159.5 446.5,1159.1 448.0,1158.6 449.5,1159.1 451.0,1158.5 452.5,1158.7 454.0,1158.1 455.5,1157.8 457.0,1158.1 458.5,1157.5 460.0,1157.2 461.5,1157.0 463.0,1156.7 464.5,1156.4 466.0,1156.2 467.5,1155.3 469.0,1155.4 470.5,1154.9 472.0,1154.8 473.5,1153.9 475.0,1153.9 476.5,1153.1 478.0,1153.2 479.5,1152.9 481.0,1152.5 482.5,1152.2 484.0,1152.4 485.5,1151.8 487.0,1151.5 487.5,1151.7 488.5,1151.4 490.0,1152.2 491.5,1152.3 493.0,1151.9 494.5,1152.4 496.0,1152.3 497.5,1153.1 499.0,1153.0 500.5,1152.9 502.0,1153.7 503.5,1153.4 505.0,1154.3 506.5,1154.5 508.0,1154.3 509.4,1154.0 510.9,1154.5 512.5,1153.8 514.0,1153.7 515.5,1153.6 517.0,1153.2 518.5,1153.6 520.0,1153.0 521.4,1152.7 522.9,1152.1 524.4,1151.3 525.9,1150.9 527.4,1150.9 528.9,1150.7 530.4,1150.3 531.9,1149.9 533.4,1150.3 533.9,1149.9 534.9,1150.2 536.4,1150.6 537.9,1150.8 539.4,1151.0 540.9,1151.7 542.4,1151.9 543.9,1152.7 545.4,1153.7 546.9,1154.0 548.4,1154.1 549.9,1155.4 551.4,1155.3 552.9,1155.7 554.4,1156.5 555.9,1157.0 557.4,1156.6 558.9,1157.1 560.4,1157.1 561.9,1156.8 563.4,1157.2 564.9,1156.7 566.4,1156.9 567.9,1156.4 569.4,1156.1 570.9,1155.4 572.4,1155.5 573.9,1154.4 575.4,1154.2 576.9,1153.6 578.4,1153.2 579.9,1152.7 581.4,1152.9 582.9,1152.2 584.4,1152.0 585.9,1152.1 587.4,1152.2 588.3,1151.7 588.9,1152.1 590.4,1152.1 591.9,1152.5 593.4,1152.6 594.9,1153.0 596.4,1152.7 597.9,1153.5 599.4,1153.3 600.9,1153.6 602.4,1154.1 603.9,1154.1 605.4,1155.0 606.9,1154.7 608.4,1155.4 609.9,1155.1 611.4,1155.6 612.9,1155.5 614.4,1156.2 615.9,1155.6 617.4,1155.5 618.9,1155.4 620.4,1155.0 621.9,1155.3 623.4,1154.7 624.9,1154.5 626.4,1154.2 627.9,1154.0 629.4,1154.1 630.9,1153.3 632.4,1152.9 633.9,1152.8 635.3,1152.8 636.8,1152.4 638.3,1152.1 639.8,1152.2 641.3,1152.7 642.8,1152.6 642.8,1152.2 644.3,1152.2 645.8,1152.1 647.3,1152.7 648.8,1152.9 650.3,1152.7 651.8,1153.3 653.3,1153.1 654.8,1153.6 656.3,1153.9 657.8,1154.8 659.3,1155.0 660.8,1155.3 662.3,1155.6 663.8,1156.1 665.3,1156.4 666.8,1156.6 668.3,1157.5 669.8,1157.8 671.3,1157.8 672.8,1158.1 674.3,1158.9 675.8,1158.4 677.3,1159.3 678.8,1159.0 680.3,1159.2 681.8,1159.5 683.3,1160.0 684.8,1159.8 686.3,1160.2 687.8,1160.3 689.3,1160.7 690.8,1160.5 692.3,1160.3 693.8,1160.7 695.3,1160.7 696.8,1160.5 698.3,1160.9 699.8,1160.3 701.3,1161.2 702.8,1161.1 704.3,1160.4 705.8,1161.0 707.3,1160.5 708.8,1161.3 710.3,1160.8 711.8,1161.1 713.3,1160.6 714.8,1161.0 716.3,1160.5 717.8,1161.1 719.3,1160.7 720.8,1160.6 722.3,1160.8 723.8,1160.9 725.3,1160.5 726.8,1160.6 728.3,1160.8 729.8,1160.9 731.3,1161.1 732.8,1160.6 734.3,1161.2 735.8,1160.8 737.2,1161.3 738.8,1160.8 740.2,1160.9 741.8,1160.8 743.2,1160.5 744.8,1161.3 746.2,1161.0 747.8,1161.1 749.2,1160.6 750.7,1160.9 752.2,1160.7 753.7,1160.7 755.2,1160.8 756.7,1161.0 758.2,1160.9 759.7,1161.1 761.2,1161.4 762.7,1161.0 764.2,1161.2 765.7,1161.3 767.2,1161.3 768.7,1160.8 770.2,1161.2 771.7,1161.1 773.2,1160.5 774.7,1161.2 776.2,1161.3 777.7,1161.3 779.2,1160.8 780.7,1161.1 782.2,1161.2 783.7,1160.9 785.2,1161.0 786.7,1160.8 788.2,1161.3 789.7,1160.9 791.2,1160.7 792.7,1160.9 794.2,1161.0 795.7,1160.8 797.2,1160.8 798.7,1161.0 800.2,1160.8 801.7,1160.9 803.2,1160.6 804.7,1160.8 806.2,1160.6 807.7,1160.9 809.2,1160.8 810.7,1160.8 812.2,1160.5 813.7,1161.4 815.2,1160.7 816.7,1160.5 818.2,1161.0 819.7,1160.5 821.2,1161.0 822.7,1161.3 824.2,1160.5 825.7,1160.9 827.2,1161.2 828.7,1160.7 830.2,1160.6 831.7,1160.5 833.2,1161.1 834.7,1161.1 836.2,1160.8 837.7,1160.6 839.2,1161.1 840.7,1160.3 842.2,1160.5 843.7,1160.2 845.2,1159.4 846.7,1159.3 848.2,1158.4 849.7,1158.5 851.1,1158.0 852.6,1157.7 853.4,1157.9 854.1,1157.7 855.6,1158.1 857.1,1158.0 858.6,1158.4 860.1,1159.4 861.6,1159.4 863.1,1159.7 864.6,1160.5 866.1,1160.4 867.6,1160.6 869.1,1160.9 870.6,1160.5 872.1,1161.2 873.6,1161.0 875.1,1160.5 876.6,1160.6 878.1,1160.8 879.6,1160.9 881.1,1161.2 882.6,1161.2 884.1,1161.2 885.6,1161.2 887.1,1161.0 888.6,1160.6 890.1,1160.8 891.6,1161.2 893.1,1160.5 894.6,1160.7 896.1,1160.5 897.6,1160.8 899.1,1160.8 900.6,1160.9 902.1,1160.7 903.6,1161.0 905.1,1160.6 906.6,1161.2 908.1,1161.3 909.6,1160.9 911.1,1161.3 912.6,1161.1 914.1,1161.0" fill="none" stroke="#a063e0" stroke-width="3.0" stroke-linejoin="round"/>
<polyline points="115.3,1203.2 116.8,1203.3 118.3,1203.6 119.8,1203.0 121.3,1203.0 122.8,1202.8 124.3,1202.9 125.8,1202.8 127.3,1202.9 128.8,1203.2 130.3,1203.7 131.8,1203.4 133.3,1203.1 134.8,1203.1 136.3,1203.4 137.8,1203.0 139.3,1202.8 140.8,1203.5 142.3,1203.3 143.8,1202.8 145.3,1202.8 146.8,1202.8 148.3,1203.6 149.8,1202.8 151.3,1203.2 152.8,1203.5 154.3,1202.7 155.8,1203.0 157.3,1203.1 158.8,1203.5 160.3,1202.8 161.8,1202.8 163.3,1202.8 164.8,1202.6 166.3,1203.2 167.8,1203.3 169.2,1203.0 170.8,1202.6 172.2,1203.2 173.8,1203.2 175.2,1203.1 176.8,1202.8 178.2,1203.2 179.7,1203.0 181.2,1203.0 182.7,1202.9 184.2,1202.6 185.7,1202.8 187.2,1203.1 188.7,1203.0 190.2,1202.7 191.7,1203.1 193.2,1203.1 194.7,1202.4 196.2,1202.4 197.7,1202.5 199.2,1202.3 200.7,1202.9 202.2,1202.8 203.7,1202.7 205.2,1203.1 206.7,1202.5 208.2,1202.3 209.7,1202.2 211.2,1202.4 212.7,1202.8 214.2,1202.6 215.7,1202.0 217.2,1202.3 218.7,1202.0 220.2,1202.4 221.7,1201.9 223.2,1202.0 224.7,1202.3 226.2,1202.5 227.7,1202.2 229.2,1201.9 230.7,1202.2 232.2,1201.8 233.7,1201.5 235.2,1201.7 236.7,1202.0 238.2,1201.9 239.7,1201.4 241.2,1201.9 242.7,1201.8 244.2,1201.3 245.7,1201.8 247.2,1201.1 248.7,1200.8 250.2,1201.1 251.7,1201.4 253.2,1201.0 254.7,1200.8 256.2,1200.7 257.7,1200.4 259.2,1200.2 260.7,1200.2 262.2,1200.2 263.7,1200.3 265.2,1199.4 266.7,1199.3 268.2,1199.7 269.7,1199.3 271.2,1198.5 272.7,1198.5 274.2,1198.4 275.7,1198.3 277.2,1197.2 278.7,1197.6 280.2,1197.0 281.6,1196.1 283.1,1195.8 284.6,1195.5 286.1,1194.3 287.6,1193.9 289.1,1192.9 290.6,1191.4 292.1,1190.3 293.6,1188.9 295.1,1186.8 296.6,1185.3 298.1,1181.8 299.6,1178.3 301.1,1174.3 302.6,1168.9 304.1,1162.4 305.6,1154.7 307.1,1146.0 308.6,1136.1 310.1,1124.1 311.6,1112.8 313.1,1100.8 314.6,1089.3 316.1,1080.4 317.6,1074.0 317.8,1074.1 319.1,1072.0 320.6,1073.0 322.1,1076.2 323.6,1080.6 325.1,1085.8 326.6,1090.3 328.1,1093.4 329.6,1096.8 331.1,1099.6 332.6,1101.8 334.1,1104.5 335.4,1107.4 335.6,1107.8 337.1,1112.0 338.6,1117.1 340.1,1122.8 341.6,1128.9 343.1,1134.9 344.6,1141.1 346.1,1148.1 347.6,1153.7 349.1,1159.3 350.6,1164.5 351.4,1166.8 352.1,1169.0 353.6,1172.9 355.1,1176.9 356.6,1180.2 358.1,1182.3 359.6,1185.4 361.1,1186.8 362.6,1188.4 364.1,1189.9 365.6,1191.6 367.1,1192.9 368.6,1193.9 370.1,1194.0 371.6,1194.9 373.1,1195.9 374.6,1196.4 376.1,1196.9 377.6,1196.8 379.1,1197.2 380.6,1197.4 382.1,1197.9 383.6,1198.3 385.1,1198.9 386.6,1199.1 388.1,1198.9 389.6,1199.1 391.1,1199.5 392.6,1200.1 394.1,1199.9 395.6,1200.4 397.1,1200.4 398.6,1200.7 400.1,1200.5 401.6,1200.5 403.1,1200.7 404.6,1201.2 406.1,1200.8 407.5,1200.8 409.0,1201.5 410.5,1201.2 412.0,1201.5 413.5,1201.1 415.0,1201.1 416.5,1201.3 418.0,1201.6 419.5,1201.3 421.0,1201.6 422.5,1202.2 424.0,1201.8 425.5,1201.5 427.0,1202.2 428.5,1201.8 430.0,1201.8 431.5,1202.2 433.0,1202.3 434.5,1202.0 436.0,1202.4 437.5,1202.6 439.0,1202.1 440.5,1202.3 442.0,1201.9 443.5,1202.4 445.0,1202.2 446.5,1202.6 448.0,1202.7 449.5,1202.3 451.0,1202.6 452.5,1202.9 454.0,1202.2 455.5,1202.8 457.0,1202.5 458.5,1203.0 460.0,1202.2 461.5,1202.5 463.0,1202.3 464.5,1202.4 466.0,1203.0 467.5,1202.7 469.0,1202.5 470.5,1203.1 472.0,1202.3 473.5,1202.3 475.0,1202.9 476.5,1202.8 478.0,1203.0 479.5,1202.7 481.0,1203.1 482.5,1202.6 484.0,1202.5 485.5,1203.0 487.0,1202.7 488.5,1202.2 490.0,1202.2 491.5,1202.2 493.0,1202.8 494.5,1202.7 496.0,1202.2 497.5,1202.7 499.0,1202.6 500.5,1202.4 502.0,1202.2 503.5,1201.9 505.0,1202.0 506.5,1201.5 508.0,1201.7 509.4,1201.1 510.9,1200.9 512.5,1200.7 514.0,1200.4 515.5,1199.5 517.0,1198.6 518.5,1198.5 520.0,1198.3 521.4,1197.1 522.9,1196.6 524.4,1196.0 525.9,1195.5 527.4,1195.5 528.9,1194.9 530.4,1194.1 531.9,1194.3 533.4,1194.4 533.9,1193.7 534.9,1193.9 536.4,1193.9 537.9,1194.7 539.4,1194.8 540.9,1194.9 542.4,1195.6 543.9,1196.0 545.4,1196.9 546.9,1197.2 548.4,1197.7 549.9,1198.1 551.4,1198.3 552.9,1198.9 554.4,1199.5 555.9,1199.7 557.4,1199.9 558.9,1199.7 560.4,1199.7 561.9,1200.3 563.4,1200.2 564.9,1200.1 566.4,1200.3 567.9,1199.5 569.4,1199.7 570.9,1199.1 572.4,1199.1 573.9,1199.2 575.4,1198.5 576.9,1198.4 578.4,1198.5 579.9,1197.9 581.4,1197.5 582.9,1197.9 584.4,1197.6 585.9,1197.2 587.4,1197.1 588.3,1196.9 588.9,1196.9 590.4,1197.8 591.9,1197.5 593.4,1197.8 594.9,1197.4 596.4,1198.2 597.9,1198.3 599.4,1198.6 600.9,1198.5 602.4,1199.2 603.9,1199.1 605.4,1199.0 606.9,1199.9 608.4,1199.6 609.9,1200.3 611.4,1200.1 612.9,1200.1 614.4,1200.3 615.9,1200.3 617.4,1200.0 618.9,1200.0 620.4,1199.9 621.9,1200.5 623.4,1199.9 624.9,1199.4 626.4,1199.5 627.9,1199.5 629.4,1199.2 630.9,1199.2 632.4,1198.4 633.9,1198.7 635.3,1197.6 636.8,1197.5 638.3,1197.6 639.8,1197.6 641.3,1197.3 642.8,1197.6 642.8,1197.4 644.3,1197.0 645.8,1197.4 647.3,1197.8 648.8,1197.7 650.3,1197.9 651.8,1198.6 653.3,1198.8 654.8,1199.6 656.3,1199.9 657.8,1199.7 659.3,1199.8 660.8,1200.2 662.3,1200.8 663.8,1201.1 665.3,1201.3 666.8,1201.3 668.3,1201.7 669.8,1202.0 671.3,1202.5 672.8,1202.1 674.3,1202.7 675.8,1202.6 677.3,1203.0 678.8,1203.0 680.3,1202.7 681.8,1203.2 683.3,1202.9 684.8,1203.4 686.3,1202.7 687.8,1203.0 689.3,1203.2 690.8,1203.0 692.3,1203.1 693.8,1203.3 695.3,1203.0 696.8,1203.6 698.3,1203.1 699.8,1203.5 701.3,1203.7 702.8,1203.0 704.3,1203.7 705.8,1203.1 707.3,1203.3 708.8,1203.0 710.3,1203.7 711.8,1203.2 713.3,1203.4 714.8,1203.8 716.3,1203.1 717.8,1203.0 719.3,1203.6 720.8,1203.0 722.3,1203.1 723.8,1203.2 725.3,1203.0 726.8,1203.3 728.3,1203.0 729.8,1203.8 731.3,1203.4 732.8,1203.0 734.3,1203.7 735.8,1203.2 737.2,1203.8 738.8,1203.0 740.2,1203.1 741.8,1203.3 743.2,1203.7 744.8,1203.8 746.2,1203.9 747.8,1203.2 749.2,1203.3 750.7,1203.8 752.2,1203.7 753.7,1203.9 755.2,1203.1 756.7,1203.0 758.2,1203.4 759.7,1203.8 761.2,1203.6 762.7,1203.4 764.2,1203.6 765.7,1203.4 767.2,1203.8 768.7,1203.3 770.2,1203.7 771.7,1203.2 773.2,1203.6 774.7,1203.3 776.2,1203.3 777.7,1203.3 779.2,1203.1 780.7,1203.1 782.2,1203.6 783.7,1203.6 785.2,1203.6 786.7,1203.4 788.2,1203.6 789.7,1203.8 791.2,1203.9 792.7,1203.4 794.2,1203.7 795.7,1203.8 797.2,1203.8 798.7,1203.7 800.2,1203.3 801.7,1203.8 803.2,1203.6 804.7,1203.7 806.2,1203.7 807.7,1203.2 809.2,1203.1 810.7,1203.8 812.2,1203.7 813.7,1203.1 815.2,1203.1 816.7,1203.4 818.2,1203.6 819.7,1203.2 821.2,1203.7 822.7,1203.4 824.2,1203.6 825.7,1203.3 827.2,1203.3 828.7,1203.2 830.2,1203.7 831.7,1203.6 833.2,1203.1 834.7,1203.2 836.2,1203.8 837.7,1203.3 839.2,1203.9 840.7,1204.0 842.2,1203.8 843.7,1203.2 845.2,1203.2 846.7,1203.8 848.2,1203.5 849.7,1203.1 851.1,1203.2 852.6,1203.3 854.1,1203.3 855.6,1203.1 857.1,1203.7 858.6,1203.1 860.1,1203.3 861.6,1203.7 863.1,1203.8 864.6,1203.8 866.1,1203.3 867.6,1203.2 869.1,1203.6 870.6,1203.8 872.1,1203.7 873.6,1203.8 875.1,1203.5 876.6,1203.7 878.1,1203.9 879.6,1203.6 881.1,1203.2 882.6,1203.8 884.1,1203.1 885.6,1203.1 887.1,1203.4 888.6,1203.4 890.1,1204.0 891.6,1203.8 893.1,1203.5 894.6,1203.6 896.1,1203.5 897.6,1203.9 899.1,1203.6 900.6,1203.4 902.1,1203.9 903.6,1203.8 905.1,1203.5 906.6,1204.0 908.1,1203.1 909.6,1203.9 911.1,1203.5 912.6,1203.5 914.1,1203.9" fill="none" stroke="#22a04e" stroke-width="3.0" stroke-linejoin="round"/>
<polyline points="115.3,1243.6 116.8,1243.8 118.3,1243.4 119.8,1243.7 121.3,1243.4 122.8,1243.4 124.3,1243.6 125.8,1243.4 127.3,1243.6 128.8,1244.0 130.3,1243.4 131.8,1243.9 133.3,1243.4 134.8,1244.0 136.3,1244.0 137.8,1243.5 139.3,1244.1 140.8,1243.9 142.3,1243.4 143.8,1243.7 145.3,1243.9 146.8,1244.1 148.3,1243.4 149.8,1243.5 151.3,1244.0 152.8,1244.1 154.3,1243.3 155.8,1243.3 157.3,1243.9 158.8,1243.5 160.3,1243.6 161.8,1244.0 163.3,1243.9 164.8,1243.8 166.3,1244.0 167.8,1243.9 169.2,1243.9 170.8,1243.8 172.2,1243.7 173.8,1243.2 175.2,1244.0 176.8,1244.0 178.2,1243.5 179.7,1243.7 181.2,1243.2 182.7,1243.6 184.2,1243.7 185.7,1243.4 187.2,1243.5 188.7,1243.8 190.2,1243.2 191.7,1243.5 193.2,1243.1 194.7,1243.4 196.2,1243.8 197.7,1243.6 199.2,1243.0 200.7,1243.8 202.2,1243.6 203.7,1243.4 205.2,1243.2 206.7,1243.2 208.2,1243.1 209.7,1243.5 211.2,1242.9 212.7,1243.7 214.2,1242.9 215.7,1243.4 217.2,1243.3 218.7,1243.1 220.2,1243.0 221.7,1243.1 223.2,1243.0 224.7,1243.6 226.2,1243.2 227.7,1243.1 229.2,1243.2 230.7,1243.0 232.2,1242.7 233.7,1242.5 235.2,1243.4 236.7,1243.2 238.2,1242.5 239.7,1242.9 241.2,1243.0 242.7,1243.1 244.2,1242.3 245.7,1242.3 247.2,1242.5 248.7,1242.6 250.2,1242.1 251.7,1242.5 253.2,1242.5 254.7,1242.2 256.2,1242.4 257.7,1241.9 259.2,1242.2 260.7,1241.7 262.2,1241.6 263.7,1241.5 265.2,1241.7 266.7,1241.7 268.2,1240.8 269.7,1241.1 271.2,1241.1 272.7,1240.8 274.2,1240.2 275.7,1240.1 277.2,1240.3 278.7,1239.4 280.2,1239.7 281.6,1238.8 283.1,1238.6 284.6,1238.3 286.1,1237.7 287.6,1237.0 289.1,1236.6 290.6,1235.6 292.1,1234.8 293.6,1233.4 295.1,1231.8 296.6,1229.5 298.1,1227.8 299.6,1224.1 301.1,1220.1 302.6,1214.9 304.1,1209.1 305.6,1201.0 307.1,1191.9 308.6,1181.0 310.1,1168.6 311.6,1155.0 313.1,1141.3 314.6,1128.1 316.1,1117.7 317.6,1112.4 318.0,1111.9 319.1,1111.3 320.6,1115.6 322.1,1122.4 323.6,1130.6 325.1,1139.1 326.6,1145.3 328.1,1150.6 329.6,1154.1 331.1,1155.0 332.6,1155.5 334.1,1154.6 335.6,1153.4 337.1,1152.7 338.6,1152.9 340.1,1153.8 340.2,1153.9 341.6,1156.2 343.1,1159.5 344.6,1164.6 346.1,1170.1 347.6,1177.3 349.1,1184.4 350.6,1191.4 352.1,1198.4 353.6,1204.8 355.1,1210.0 356.6,1214.5 358.1,1217.4 359.6,1219.0 361.1,1220.3 362.6,1219.8 364.1,1218.8 365.6,1217.8 366.7,1218.5 367.1,1218.5 368.6,1220.8 370.1,1224.2 371.6,1227.0 373.1,1229.6 374.6,1232.1 376.1,1234.4 377.6,1236.2 379.1,1236.6 380.6,1237.9 382.1,1238.5 383.6,1239.2 385.1,1239.9 386.6,1240.2 388.1,1240.3 389.6,1241.1 391.1,1241.3 392.6,1241.6 394.1,1241.1 395.6,1241.7 397.1,1241.5 398.6,1241.5 400.1,1242.4 401.6,1242.3 403.1,1242.2 404.6,1242.5 406.1,1242.7 407.5,1242.4 409.0,1242.2 410.5,1242.9 412.0,1242.6 413.5,1242.6 415.0,1242.5 416.5,1242.8 418.0,1243.1 419.5,1243.2 421.0,1242.6 422.5,1242.6 424.0,1243.4 425.5,1243.0 427.0,1243.1 428.5,1243.2 430.0,1243.0 431.5,1243.0 433.0,1243.4 434.5,1243.2 436.0,1242.7 437.5,1242.7 439.0,1243.5 440.5,1243.3 442.0,1243.4 443.5,1243.2 445.0,1243.4 446.5,1243.1 448.0,1243.1 449.5,1243.1 451.0,1243.1 452.5,1243.7 454.0,1243.6 455.5,1243.3 457.0,1242.8 458.5,1243.6 460.0,1243.5 461.5,1243.4 463.0,1243.7 464.5,1243.5 466.0,1243.3 467.5,1243.1 469.0,1243.3 470.5,1243.2 472.0,1242.9 473.5,1242.9 475.0,1242.8 476.5,1243.3 478.0,1243.0 479.5,1243.6 481.0,1243.5 482.5,1242.9 484.0,1242.7 485.5,1243.3 487.0,1243.3 488.5,1242.8 490.0,1243.1 491.5,1243.1 493.0,1242.6 494.5,1242.4 496.0,1242.4 497.5,1242.4 499.0,1242.0 500.5,1242.0 502.0,1240.8 503.5,1240.3 505.0,1239.8 506.5,1239.9 508.0,1238.6 509.4,1237.6 510.9,1236.8 512.5,1235.7 514.0,1235.1 515.5,1234.1 517.0,1232.7 518.5,1231.4 520.0,1230.4 521.4,1230.1 522.9,1228.8 524.4,1228.6 525.9,1228.7 525.9,1228.6 527.4,1229.3 528.9,1229.7 530.4,1230.0 531.9,1230.9 533.4,1231.7 534.9,1233.0 536.4,1233.6 537.9,1234.8 539.4,1236.4 540.9,1237.0 542.4,1237.9 543.9,1239.0 545.4,1239.5 546.9,1239.6 548.4,1240.4 549.9,1241.1 551.4,1240.9 552.9,1241.6 554.4,1241.0 555.9,1241.2 557.4,1240.9 558.9,1240.9 560.4,1240.7 561.9,1240.8 563.4,1240.6 564.9,1240.4 566.4,1239.3 567.9,1239.7 569.4,1239.0 570.9,1238.1 572.4,1238.0 573.9,1237.5 575.4,1236.7 576.9,1236.2 578.4,1235.6 579.9,1235.3 581.4,1235.6 582.9,1234.8 584.4,1234.8 585.9,1234.5 587.4,1234.2 588.3,1234.4 588.9,1234.2 590.4,1234.5 591.9,1234.4 593.4,1234.5 594.9,1235.4 596.4,1235.3 597.9,1236.0 599.4,1236.7 600.9,1237.1 602.4,1237.5 603.9,1237.6 605.4,1238.1 606.9,1238.1 608.4,1239.1 609.9,1239.3 611.4,1239.4 612.9,1240.1 614.4,1240.2 615.9,1240.4 617.4,1240.0 618.9,1240.1 620.4,1240.3 621.9,1240.2 623.4,1239.6 624.9,1239.4 626.4,1238.9 627.9,1238.2 629.4,1238.3 630.9,1237.5 632.4,1236.7 633.9,1236.5 635.3,1236.3 636.8,1235.2 638.3,1234.9 639.8,1235.0 641.3,1234.4 642.8,1235.0 642.8,1234.8 644.3,1234.8 645.8,1234.9 647.3,1235.7 648.8,1235.5 650.3,1236.2 651.8,1236.6 653.3,1237.6 654.8,1237.7 656.3,1237.9 657.8,1238.8 659.3,1239.5 660.8,1240.2 662.3,1240.5 663.8,1241.2 665.3,1241.0 666.8,1241.7 668.3,1242.2 669.8,1242.5 671.3,1242.6 672.8,1242.7 674.3,1242.6 675.8,1243.2 677.3,1243.2 678.8,1243.0 680.3,1243.5 681.8,1243.5 683.3,1243.6 684.8,1243.6 686.3,1243.7 687.8,1243.2 689.3,1243.2 690.8,1243.7 692.3,1242.9 693.8,1243.7 695.3,1243.6 696.8,1243.0 698.3,1243.4 699.8,1243.2 701.3,1243.5 702.8,1243.7 704.3,1243.5 705.8,1243.5 707.3,1243.0 708.8,1243.2 710.3,1243.1 711.8,1243.5 713.3,1242.8 714.8,1243.2 716.3,1243.2 717.8,1242.8 719.3,1243.3 720.8,1243.2 722.3,1242.5 723.8,1242.5 725.3,1242.6 726.8,1242.0 728.3,1242.0 729.8,1241.7 731.3,1241.9 732.8,1241.4 734.3,1240.5 735.8,1240.6 737.2,1239.5 738.8,1238.6 740.2,1237.0 741.8,1235.8 743.2,1233.5 744.8,1231.9 746.2,1228.6 747.8,1226.0 749.2,1223.6 750.7,1220.9 752.2,1218.8 753.7,1218.1 754.8,1217.6 755.2,1217.7 756.7,1217.9 758.2,1219.9 759.7,1222.0 761.2,1223.5 762.7,1225.5 764.2,1227.4 765.7,1228.5 767.2,1229.6 768.7,1229.6 770.2,1229.4 771.7,1229.0 773.2,1228.6 774.7,1228.6 775.6,1228.9 776.2,1228.9 777.7,1230.0 779.2,1231.7 780.7,1233.3 782.2,1235.0 783.7,1236.7 785.2,1238.3 786.7,1239.9 788.2,1240.6 789.7,1241.6 791.2,1241.8 792.7,1242.6 794.2,1242.7 795.7,1243.2 797.2,1243.4 798.7,1242.8 800.2,1243.5 801.7,1243.3 803.2,1243.6 804.7,1242.9 806.2,1243.7 807.7,1243.6 809.2,1243.8 810.7,1243.3 812.2,1243.3 813.7,1243.6 815.2,1243.4 816.7,1243.6 818.2,1243.9 819.7,1243.5 821.2,1244.1 822.7,1244.0 824.2,1243.9 825.7,1244.0 827.2,1243.2 828.7,1243.8 830.2,1244.1 831.7,1243.6 833.2,1243.8 834.7,1243.4 836.2,1244.0 837.7,1243.5 839.2,1244.2 840.7,1243.9 842.2,1243.4 843.7,1243.8 845.2,1243.4 846.7,1243.6 848.2,1243.9 849.7,1243.4 851.1,1244.1 852.6,1244.0 854.1,1244.0 855.6,1243.7 857.1,1243.5 858.6,1243.8 860.1,1244.0 861.6,1244.2 863.1,1244.0 864.6,1244.1 866.1,1243.8 867.6,1243.6 869.1,1243.9 870.6,1244.2 872.1,1243.9 873.6,1243.5 875.1,1244.0 876.6,1244.2 878.1,1243.9 879.6,1244.0 881.1,1243.6 882.6,1244.0 884.1,1243.9 885.6,1244.1 887.1,1243.9 888.6,1243.8 890.1,1243.8 891.6,1244.2 893.1,1244.3 894.6,1243.9 896.1,1243.7 897.6,1244.1 899.1,1243.7 900.6,1244.2 902.1,1243.5 903.6,1243.8 905.1,1244.3 906.6,1243.5 908.1,1244.2 909.6,1244.0 911.1,1244.1 912.6,1243.5 914.1,1244.1" fill="none" stroke="#1559e3" stroke-width="3.0" stroke-linejoin="round"/>
<polyline points="115.3,1278.5 116.8,1278.0 118.3,1278.2 119.8,1278.4 121.3,1277.9 122.8,1278.1 124.3,1278.2 125.8,1278.5 127.3,1277.7 128.8,1277.7 130.3,1277.9 131.8,1278.4 133.3,1278.4 134.8,1277.7 136.3,1278.4 137.8,1278.1 139.3,1278.5 140.8,1278.4 142.3,1277.7 143.8,1278.5 145.3,1278.0 146.8,1277.7 148.3,1278.0 149.8,1277.6 151.3,1278.2 152.8,1278.0 154.3,1277.6 155.8,1277.7 157.3,1278.0 158.8,1278.2 160.3,1277.8 161.8,1277.6 163.3,1277.8 164.8,1277.6 166.3,1277.8 167.8,1278.3 169.2,1277.6 170.8,1277.7 172.2,1278.1 173.8,1277.6 175.2,1277.5 176.8,1277.6 178.2,1278.0 179.7,1278.0 181.2,1278.0 182.7,1277.4 184.2,1277.6 185.7,1277.5 187.2,1277.9 188.7,1277.7 190.2,1278.0 191.7,1277.8 193.2,1277.8 194.7,1277.4 196.2,1277.8 197.7,1277.3 199.2,1277.3 200.7,1278.0 202.2,1277.4 203.7,1277.2 205.2,1277.8 206.7,1277.3 208.2,1277.4 209.7,1277.6 211.2,1278.0 212.7,1277.1 214.2,1277.7 215.7,1277.1 217.2,1277.7 218.7,1277.3 220.2,1277.1 221.7,1277.3 223.2,1277.5 224.7,1277.0 226.2,1277.2 227.7,1277.5 229.2,1277.5 230.7,1277.4 232.2,1277.2 233.7,1277.3 235.2,1276.8 236.7,1277.0 238.2,1276.9 239.7,1276.7 241.2,1276.5 242.7,1276.5 244.2,1277.3 245.7,1276.7 247.2,1276.6 248.7,1276.8 250.2,1276.8 251.7,1276.9 253.2,1276.8 254.7,1276.0 256.2,1276.1 257.7,1276.1 259.2,1275.9 260.7,1276.1 262.2,1275.7 263.7,1276.2 265.2,1275.5 266.7,1275.9 268.2,1275.8 269.7,1275.4 271.2,1274.9 272.7,1274.5 274.2,1275.2 275.7,1274.9 277.2,1274.2 278.7,1273.6 280.2,1274.0 281.6,1273.2 283.1,1273.0 284.6,1273.1 286.1,1272.6 287.6,1272.1 289.1,1270.9 290.6,1270.8 292.1,1270.0 293.6,1269.3 295.1,1267.7 296.6,1267.3 298.1,1265.3 299.6,1263.4 301.1,1262.0 302.6,1259.5 304.1,1256.5 305.6,1252.3 307.1,1248.0 308.6,1243.1 310.1,1237.2 311.6,1230.5 313.1,1222.3 314.6,1215.0 316.1,1206.9 317.6,1200.3 319.1,1195.3 320.4,1193.5 320.6,1193.1 322.1,1193.9 323.6,1196.2 325.1,1199.8 326.6,1203.7 328.1,1206.4 329.6,1207.7 331.1,1207.6 332.6,1204.5 334.1,1200.1 335.6,1193.5 337.1,1186.1 338.6,1177.4 340.1,1169.1 341.6,1161.7 343.1,1156.4 344.6,1154.7 345.3,1154.3 346.1,1155.5 347.6,1160.2 349.1,1167.2 350.6,1176.3 352.1,1187.5 353.6,1198.7 355.1,1209.4 356.6,1218.1 358.1,1224.7 359.6,1229.1 361.1,1229.4 362.6,1225.8 364.1,1221.9 365.6,1218.8 366.6,1218.5 367.1,1220.1 368.6,1226.9 370.1,1237.7 371.6,1247.9 373.1,1257.0 374.6,1263.0 376.1,1267.2 377.6,1269.7 379.1,1271.3 380.6,1271.9 382.1,1272.2 383.6,1272.9 385.1,1273.3 386.6,1273.6 388.1,1273.8 389.6,1274.7 391.1,1274.4 392.6,1274.3 394.1,1274.7 395.6,1275.3 397.1,1275.4 398.6,1275.3 400.1,1275.1 401.6,1275.4 403.1,1276.1 404.6,1275.5 406.1,1275.5 407.5,1275.9 409.0,1275.6 410.5,1276.5 412.0,1276.5 413.5,1275.9 415.0,1276.6 416.5,1276.8 418.0,1276.6 419.5,1276.7 421.0,1276.1 422.5,1276.3 424.0,1276.5 425.5,1276.3 427.0,1276.9 428.5,1276.5 430.0,1276.8 431.5,1276.6 433.0,1277.1 434.5,1276.6 436.0,1277.1 437.5,1277.1 439.0,1276.9 440.5,1276.4 442.0,1277.2 443.5,1276.5 445.0,1276.4 446.5,1277.1 448.0,1276.5 449.5,1276.4 451.0,1277.1 452.5,1277.1 454.0,1276.6 455.5,1276.6 457.0,1276.9 458.5,1276.9 460.0,1276.5 461.5,1276.3 463.0,1276.3 464.5,1276.4 466.0,1276.2 467.5,1276.8 469.0,1276.4 470.5,1276.5 472.0,1276.2 473.5,1276.3 475.0,1276.5 476.5,1276.6 478.0,1276.5 479.5,1276.1 481.0,1276.4 482.5,1275.8 484.0,1276.0 485.5,1275.5 487.0,1276.0 488.5,1275.3 490.0,1274.8 491.5,1275.3 493.0,1274.4 494.5,1274.8 496.0,1274.3 497.5,1273.9 499.0,1272.6 500.5,1272.2 502.0,1271.1 503.5,1270.2 505.0,1269.4 506.5,1268.3 508.0,1266.3 509.4,1265.3 510.9,1263.2 512.5,1261.0 514.0,1259.3 515.5,1256.8 517.0,1254.4 518.5,1252.6 520.0,1250.0 521.4,1247.8 522.9,1246.1 524.4,1245.0 525.9,1243.4 527.4,1243.5 527.5,1243.7 528.9,1243.7 530.4,1244.0 531.9,1245.9 533.4,1247.4 534.9,1249.0 536.4,1251.7 537.9,1254.1 539.4,1256.2 540.9,1258.5 542.4,1259.8 543.9,1262.5 545.4,1264.1 546.9,1265.2 548.4,1266.7 549.9,1268.1 551.4,1269.0 552.9,1269.6 554.4,1269.9 555.9,1270.7 557.4,1271.4 558.9,1271.6 560.4,1271.2 561.9,1271.1 563.4,1271.4 564.9,1271.4 566.4,1271.5 567.9,1271.2 569.4,1270.6 570.9,1269.9 572.4,1269.9 573.9,1269.1 575.4,1268.0 576.9,1267.6 578.4,1266.9 579.9,1265.7 581.4,1264.7 582.9,1263.8 584.4,1262.6 585.9,1261.0 587.4,1259.4 588.9,1259.1 590.4,1258.0 591.9,1257.1 593.1,1257.0 593.4,1257.4 594.9,1256.7 596.4,1257.7 597.9,1258.4 599.4,1259.8 600.9,1260.1 602.4,1261.8 603.9,1262.1 605.4,1263.2 606.9,1264.4 608.4,1264.6 609.9,1265.0 611.4,1265.4 612.9,1265.8 614.4,1265.7 615.9,1266.5 617.4,1265.9 618.9,1265.6 620.4,1265.6 621.9,1265.0 623.4,1264.2 624.9,1264.2 626.4,1263.2 627.9,1262.1 629.4,1261.8 630.9,1260.7 632.4,1259.4 633.9,1259.2 635.3,1258.2 636.8,1257.5 638.3,1257.2 639.6,1257.8 639.8,1257.2 641.3,1258.0 642.8,1258.3 644.3,1258.8 645.8,1260.0 647.3,1260.6 648.8,1262.1 650.3,1262.8 651.8,1264.3 653.3,1265.0 654.8,1266.7 656.3,1267.5 657.8,1267.8 659.3,1269.3 660.8,1269.9 662.3,1270.0 663.8,1270.8 665.3,1271.5 666.8,1272.2 668.3,1272.0 669.8,1272.9 671.3,1273.0 672.8,1273.0 674.3,1273.5 675.8,1273.6 677.3,1274.5 678.8,1274.7 680.3,1274.2 681.8,1275.1 683.3,1275.1 684.8,1275.2 686.3,1275.4 687.8,1275.5 689.3,1275.7 690.8,1275.5 692.3,1275.9 693.8,1276.0 695.3,1276.0 696.8,1275.5 698.3,1276.1 699.8,1275.9 701.3,1275.8 702.8,1276.2 704.3,1275.6 705.8,1275.9 707.3,1275.7 708.8,1276.3 710.3,1276.3 711.8,1276.1 713.3,1276.0 714.8,1275.9 716.3,1275.7 717.8,1275.7 719.3,1275.7 720.8,1275.8 722.3,1275.0 723.8,1275.2 725.3,1274.6 726.8,1274.4 728.3,1274.4 729.8,1273.7 731.3,1272.2 732.8,1271.3 734.3,1268.8 735.8,1266.0 737.2,1263.1 738.8,1258.2 740.2,1252.0 741.8,1245.2 743.2,1236.5 744.8,1227.3 746.2,1217.7 747.8,1208.8 749.2,1201.3 750.7,1195.4 752.2,1192.6 752.6,1192.6 753.7,1193.2 755.2,1195.8 756.7,1201.8 758.2,1208.4 759.7,1214.5 761.2,1219.6 762.7,1224.5 764.2,1226.4 765.7,1228.0 767.2,1227.4 768.7,1227.4 770.2,1228.0 771.6,1228.9 771.7,1228.7 773.2,1232.2 774.7,1236.7 776.2,1242.3 777.7,1247.7 779.2,1254.3 780.7,1259.6 782.2,1263.6 783.7,1267.3 785.2,1270.0 786.7,1272.7 788.2,1273.8 789.7,1274.8 791.2,1275.8 792.7,1275.9 794.2,1276.0 795.7,1276.3 797.2,1276.5 798.7,1276.9 800.2,1276.8 801.7,1276.8 803.2,1277.4 804.7,1277.0 806.2,1277.0 807.7,1277.4 809.2,1277.2 810.7,1277.4 812.2,1277.8 813.7,1277.1 815.2,1277.8 816.7,1277.6 818.2,1277.4 819.7,1277.2 821.2,1277.9 822.7,1277.5 824.2,1278.0 825.7,1278.0 827.2,1277.3 828.7,1277.8 830.2,1277.6 831.7,1277.8 833.2,1277.3 834.7,1277.5 836.2,1277.3 837.7,1277.4 839.2,1278.1 840.7,1277.7 842.2,1277.7 843.7,1278.2 845.2,1277.6 846.7,1278.3 848.2,1277.5 849.7,1277.5 851.1,1278.1 852.6,1277.9 854.1,1277.9 855.6,1277.8 857.1,1278.4 858.6,1278.0 860.1,1277.6 861.6,1278.1 863.1,1278.3 864.6,1278.4 866.1,1278.4 867.6,1278.4 869.1,1278.3 870.6,1277.6 872.1,1278.3 873.6,1277.9 875.1,1277.9 876.6,1277.7 878.1,1278.0 879.6,1277.9 881.1,1277.8 882.6,1278.4 884.1,1278.0 885.6,1278.2 887.1,1277.7 888.6,1278.2 890.1,1278.3 891.6,1277.9 893.1,1277.8 894.6,1277.7 896.1,1278.1 897.6,1277.9 899.1,1277.7 900.6,1278.3 902.1,1278.4 903.6,1278.2 905.1,1277.9 906.6,1277.9 908.1,1278.0 909.6,1277.8 911.1,1278.2 912.6,1278.2 914.1,1278.5" fill="none" stroke="#ee2222" stroke-width="3.0" stroke-linejoin="round"/>
<polyline points="115.3,1351.7 116.8,1351.8 118.3,1351.8 119.8,1351.7 121.3,1351.9 122.8,1351.8 124.3,1351.5 125.8,1351.8 127.3,1351.4 128.8,1351.5 130.3,1351.7 131.8,1352.3 133.3,1351.9 134.8,1351.9 136.3,1352.2 137.8,1352.2 139.3,1351.9 140.8,1351.6 142.3,1351.9 143.8,1351.7 145.3,1352.3 146.8,1351.4 148.3,1351.7 149.8,1352.0 151.3,1351.9 152.8,1351.9 154.3,1352.1 155.8,1351.6 157.3,1352.2 158.8,1352.2 160.3,1351.4 161.8,1351.7 163.3,1351.7 164.8,1351.7 166.3,1351.9 167.8,1351.6 169.2,1352.0 170.8,1352.2 172.2,1352.2 173.8,1352.1 175.2,1351.6 176.8,1352.0 178.2,1352.1 179.7,1351.9 181.2,1352.0 182.7,1351.6 184.2,1352.1 185.7,1351.6 187.2,1351.9 188.7,1351.6 190.2,1351.8 191.7,1351.4 193.2,1351.6 194.7,1352.0 196.2,1351.6 197.7,1352.0 199.2,1352.1 200.7,1351.9 202.2,1351.9 203.7,1351.5 205.2,1351.8 206.7,1352.2 208.2,1352.2 209.7,1351.8 211.2,1351.7 212.7,1352.2 214.2,1351.8 215.7,1352.0 217.2,1351.4 218.7,1351.5 220.2,1352.0 221.7,1351.8 223.2,1352.0 224.7,1351.7 226.2,1352.1 227.7,1351.3 229.2,1351.5 230.7,1351.8 232.2,1351.7 233.7,1351.8 235.2,1351.7 236.7,1351.9 238.2,1351.9 239.7,1351.5 241.2,1351.2 242.7,1351.4 244.2,1351.5 245.7,1352.1 247.2,1352.0 248.7,1351.8 250.2,1351.3 251.7,1352.0 253.2,1351.2 254.7,1351.2 256.2,1351.8 257.7,1351.4 259.2,1351.4 260.7,1351.3 262.2,1351.1 263.7,1351.2 265.2,1351.1 266.7,1351.0 268.2,1351.0 269.7,1351.1 271.2,1351.4 272.7,1351.4 274.2,1351.6 275.7,1351.6 277.2,1351.4 278.7,1351.4 280.2,1350.8 281.6,1350.9 283.1,1351.5 284.6,1351.6 286.1,1351.0 287.6,1351.5 289.1,1351.4 290.6,1350.8 292.1,1350.6 293.6,1350.6 295.1,1350.5 296.6,1350.4 298.1,1350.8 299.6,1350.5 301.1,1351.0 302.6,1350.6 304.1,1350.5 305.6,1350.6 307.1,1350.3 308.6,1350.5 310.1,1349.5 311.6,1349.7 313.1,1349.6 314.6,1349.7 316.1,1348.9 317.6,1348.5 319.1,1348.0 320.6,1347.9 322.1,1346.6 323.6,1344.7 325.1,1342.7 326.6,1337.6 328.1,1331.1 329.6,1321.3 331.1,1307.5 332.6,1289.7 334.1,1269.8 335.6,1249.6 337.1,1231.5 338.6,1221.2 339.5,1219.0 340.1,1219.2 341.6,1226.5 343.1,1240.6 344.6,1257.5 346.1,1271.8 347.6,1282.6 349.1,1288.1 350.6,1288.6 352.1,1284.5 353.6,1278.0 355.1,1272.3 356.6,1269.4 357.1,1269.7 358.1,1271.4 359.6,1277.2 361.1,1287.5 362.6,1298.3 364.1,1309.9 365.6,1320.2 367.1,1328.2 368.6,1335.3 370.1,1340.1 371.6,1343.2 373.1,1345.2 374.6,1346.6 376.1,1347.7 377.6,1348.2 379.1,1348.5 380.6,1349.0 382.1,1349.5 383.6,1349.6 385.1,1349.2 386.6,1350.1 388.1,1349.9 389.6,1349.8 391.1,1350.5 392.6,1350.2 394.1,1350.2 395.6,1350.0 397.1,1350.8 398.6,1350.8 400.1,1350.8 401.6,1350.5 403.1,1350.5 404.6,1351.0 406.1,1351.1 407.5,1350.8 409.0,1350.5 410.5,1350.5 412.0,1350.5 413.5,1351.1 415.0,1351.1 416.5,1351.2 418.0,1350.8 419.5,1351.1 421.0,1350.7 422.5,1351.0 424.0,1350.5 425.5,1350.8 427.0,1350.4 428.5,1351.2 430.0,1350.9 431.5,1350.9 433.0,1351.2 434.5,1350.6 436.0,1350.6 437.5,1351.2 439.0,1350.7 440.5,1350.8 442.0,1351.2 443.5,1350.7 445.0,1350.7 446.5,1350.5 448.0,1350.2 449.5,1350.7 451.0,1350.9 452.5,1350.9 454.0,1350.9 455.5,1350.6 457.0,1350.6 458.5,1350.5 460.0,1350.4 461.5,1350.4 463.0,1350.5 464.5,1350.1 466.0,1349.8 467.5,1350.2 469.0,1349.7 470.5,1349.6 472.0,1349.8 473.5,1349.5 475.0,1349.4 476.5,1349.7 478.0,1349.0 479.5,1349.0 481.0,1348.8 482.5,1348.9 484.0,1348.8 485.5,1348.9 487.0,1348.6 488.5,1348.4 490.0,1348.0 491.5,1347.3 493.0,1347.6 494.5,1346.9 496.0,1346.9 497.5,1345.7 499.0,1345.5 500.5,1345.1 502.0,1344.0 503.5,1343.0 505.0,1342.3 506.5,1340.7 508.0,1339.4 509.4,1337.8 510.9,1336.4 512.5,1333.9 514.0,1332.4 515.5,1329.9 517.0,1328.9 518.5,1327.7 519.5,1327.6 520.0,1327.1 521.4,1328.0 522.9,1329.6 524.4,1330.7 525.9,1332.2 527.4,1334.5 528.9,1335.7 530.4,1337.3 531.9,1339.0 533.4,1340.0 534.9,1341.1 536.4,1341.9 537.9,1342.1 539.4,1342.8 540.9,1343.5 542.4,1343.0 543.9,1343.8 545.4,1343.7 546.9,1343.5 548.4,1343.8 549.9,1343.2 551.4,1343.9 552.9,1343.5 554.4,1343.3 555.9,1342.9 557.4,1342.8 558.9,1341.9 560.4,1341.4 561.9,1341.5 563.4,1340.7 564.9,1340.8 566.4,1339.6 567.9,1339.5 569.4,1339.2 570.9,1338.2 572.4,1337.8 573.9,1337.7 575.4,1337.3 576.9,1337.7 578.4,1337.0 578.7,1337.3 579.9,1337.3 581.4,1337.1 582.9,1337.0 584.4,1337.5 585.9,1337.6 587.4,1338.6 588.9,1338.4 590.4,1339.0 591.9,1339.9 593.4,1340.2 594.9,1340.5 596.4,1340.7 597.9,1341.2 599.4,1341.0 600.9,1341.3 602.4,1341.6 603.9,1341.6 605.4,1341.3 606.9,1341.4 608.4,1341.1 609.9,1340.9 611.4,1340.8 612.9,1340.5 614.4,1339.4 615.9,1339.7 617.4,1338.3 618.9,1338.5 620.4,1337.8 621.9,1336.7 623.4,1336.3 624.9,1335.4 626.4,1335.2 627.9,1335.4 628.8,1334.9 629.4,1335.7 630.9,1335.8 632.4,1336.5 633.9,1336.9 635.3,1337.5 636.8,1338.8 638.3,1339.3 639.8,1340.4 641.3,1340.7 642.8,1342.3 644.3,1342.4 645.8,1342.9 647.3,1344.0 648.8,1344.9 650.3,1345.2 651.8,1345.8 653.3,1345.5 654.8,1346.5 656.3,1347.0 657.8,1346.8 659.3,1347.4 660.8,1347.8 662.3,1347.2 663.8,1347.8 665.3,1347.8 666.8,1348.0 668.3,1348.7 669.8,1348.2 671.3,1349.0 672.8,1348.8 674.3,1349.1 675.8,1349.2 677.3,1348.8 678.8,1349.2 680.3,1349.0 681.8,1349.1 683.3,1349.1 684.8,1349.5 686.3,1349.7 687.8,1348.9 689.3,1349.4 690.8,1349.5 692.3,1349.3 693.8,1349.1 695.3,1348.9 696.8,1348.8 698.3,1348.9 699.8,1349.1 701.3,1349.1 702.8,1348.9 704.3,1349.4 705.8,1349.2 707.3,1349.3 708.8,1348.8 710.3,1348.5 711.8,1348.7 713.3,1348.7 714.8,1347.7 716.3,1347.8 717.8,1347.2 719.3,1347.0 720.8,1346.7 722.3,1346.4 723.8,1346.2 725.3,1345.1 726.8,1344.0 728.3,1343.2 729.8,1341.1 731.3,1339.4 732.8,1336.5 734.3,1332.5 735.8,1328.0 737.2,1321.2 738.8,1314.1 740.2,1305.0 741.8,1294.9 743.2,1284.0 744.8,1273.8 746.2,1263.9 747.8,1256.7 749.2,1251.8 749.7,1251.4 750.7,1251.4 752.2,1254.8 753.7,1261.2 755.2,1268.0 756.7,1275.2 758.2,1280.8 759.7,1286.1 761.2,1288.9 762.7,1291.4 764.2,1291.8 765.7,1291.8 767.2,1292.5 768.7,1294.3 768.9,1294.5 770.2,1296.8 771.7,1300.8 773.2,1306.3 774.7,1311.4 776.2,1317.6 777.7,1322.7 779.2,1328.6 780.7,1332.8 782.2,1336.9 783.7,1339.6 785.2,1341.9 786.7,1344.4 788.2,1345.9 789.7,1346.4 791.2,1347.0 792.7,1347.8 794.2,1348.0 795.7,1348.2 797.2,1349.0 798.7,1349.3 800.2,1349.6 801.7,1349.9 803.2,1349.3 804.7,1349.5 806.2,1349.5 807.7,1350.0 809.2,1350.3 810.7,1350.3 812.2,1350.0 813.7,1350.6 815.2,1350.7 816.7,1350.7 818.2,1350.5 819.7,1350.8 821.2,1351.1 822.7,1350.5 824.2,1351.1 825.7,1350.5 827.2,1350.5 828.7,1350.7 830.2,1351.2 831.7,1350.6 833.2,1351.4 834.7,1350.7 836.2,1351.1 837.7,1350.8 839.2,1351.5 840.7,1351.6 842.2,1351.2 843.7,1351.5 845.2,1351.3 846.7,1351.7 848.2,1351.4 849.7,1351.4 851.1,1350.9 852.6,1351.6 854.1,1351.4 855.6,1351.4 857.1,1351.5 858.6,1351.1 860.1,1351.2 861.6,1351.1 863.1,1351.8 864.6,1351.3 866.1,1351.4 867.6,1351.7 869.1,1351.5 870.6,1351.8 872.1,1351.6 873.6,1351.4 875.1,1351.9 876.6,1351.5 878.1,1351.3 879.6,1351.5 881.1,1351.8 882.6,1351.9 884.1,1351.6 885.6,1351.5 887.1,1351.5 888.6,1351.4 890.1,1352.0 891.6,1351.5 893.1,1351.9 894.6,1351.2 896.1,1351.9 897.6,1351.4 899.1,1351.6 900.6,1351.3 902.1,1352.0 903.6,1351.8 905.1,1351.7 906.6,1351.5 908.1,1351.8 909.6,1352.0 911.1,1351.8 912.6,1351.8 914.1,1351.4" fill="none" stroke="#3c3c3c" stroke-width="3.0" stroke-linejoin="round"/>
<rect x="114.5" y="765.5" width="800.4" height="591.9" fill="none" stroke="#000" stroke-width="4"/>
<line x1="114.5" y1="1357.4" x2="114.5" y2="1347.4" stroke="#000" stroke-width="3.5"/>
<line x1="194.5" y1="1357.4" x2="194.5" y2="1352.9" stroke="#000" stroke-width="3.5"/>
<line x1="274.6" y1="1357.4" x2="274.6" y2="1347.4" stroke="#000" stroke-width="3.5"/>
<line x1="354.6" y1="1357.4" x2="354.6" y2="1352.9" stroke="#000" stroke-width="3.5"/>
<line x1="434.7" y1="1357.4" x2="434.7" y2="1347.4" stroke="#000" stroke-width="3.5"/>
<line x1="514.7" y1="1357.4" x2="514.7" y2="1352.9" stroke="#000" stroke-width="3.5"/>
<line x1="594.7" y1="1357.4" x2="594.7" y2="1347.4" stroke="#000" stroke-width="3.5"/>
<line x1="674.8" y1="1357.4" x2="674.8" y2="1352.9" stroke="#000" stroke-width="3.5"/>
<line x1="754.8" y1="1357.4" x2="754.8" y2="1347.4" stroke="#000" stroke-width="3.5"/>
<line x1="834.9" y1="1357.4" x2="834.9" y2="1352.9" stroke="#000" stroke-width="3.5"/>
<line x1="914.9" y1="1357.4" x2="914.9" y2="1347.4" stroke="#000" stroke-width="3.5"/>
<text x="114.5" y="1408.5" font-size="49" font-family="Liberation Serif" font-weight="bold" text-anchor="middle" >40</text>
<text x="274.6" y="1408.5" font-size="49" font-family="Liberation Serif" font-weight="bold" text-anchor="middle" >41</text>
<text x="434.7" y="1408.5" font-size="49" font-family="Liberation Serif" font-weight="bold" text-anchor="middle" >42</text>
<text x="594.7" y="1408.5" font-size="49" font-family="Liberation Serif" font-weight="bold" text-anchor="middle" >43</text>
<text x="754.8" y="1408.5" font-size="49" font-family="Liberation Serif" font-weight="bold" text-anchor="middle" >44</text>
<text x="914.9" y="1408.5" font-size="49" font-family="Liberation Serif" font-weight="bold" text-anchor="middle" >45</text>
<text x="335.8" y="1453.0" font-size="49" font-family="Liberation Serif" font-weight="bold" text-anchor="start" textLength="357.5" lengthAdjust="spacingAndGlyphs" >2 Theta (Degree)</text>
<text transform="translate(90.8,1161.5) rotate(-90)" font-size="51" font-family="Liberation Serif" font-weight="bold" textLength="188.0" lengthAdjust="spacingAndGlyphs">Intensity</text>
<text x="119.5" y="1033.1" font-size="30.5" font-family="Liberation Serif" font-weight="bold" text-anchor="start" textLength="87.0" lengthAdjust="spacingAndGlyphs" >600 °C</text>
<text x="119.0" y="1077.0" font-size="30.5" font-family="Liberation Serif" font-weight="bold" text-anchor="start" textLength="87.0" lengthAdjust="spacingAndGlyphs" >500 °C</text>
<text x="115.5" y="1113.2" font-size="30.5" font-family="Liberation Serif" font-weight="bold" text-anchor="start" textLength="87.0" lengthAdjust="spacingAndGlyphs" >450 °C</text>
<text x="116.5" y="1152.4" font-size="30.5" font-family="Liberation Serif" font-weight="bold" text-anchor="start" textLength="87.0" lengthAdjust="spacingAndGlyphs" >400 °C</text>
<text x="116.0" y="1195.8" font-size="30.5" font-family="Liberation Serif" font-weight="bold" text-anchor="start" textLength="87.0" lengthAdjust="spacingAndGlyphs" >375 °C</text>
<text x="116.0" y="1235.0" font-size="30.5" font-family="Liberation Serif" font-weight="bold" text-anchor="start" textLength="87.0" lengthAdjust="spacingAndGlyphs" >350 °C</text>
<text x="116.0" y="1274.2" font-size="30.5" font-family="Liberation Serif" font-weight="bold" text-anchor="start" textLength="87.0" lengthAdjust="spacingAndGlyphs" >300 °C</text>
<text x="119.5" y="1338.6" font-size="31" font-family="Liberation Serif" font-weight="bold" text-anchor="start" textLength="63.0" lengthAdjust="spacingAndGlyphs" >ASQ</text>
<circle cx="137.4" cy="799.9" r="8.2" fill="#000"/>
<text x="163.5" y="808.2" font-size="30.5" font-family="Liberation Serif" text-anchor="start" textLength="113.0" lengthAdjust="spacingAndGlyphs" >τ - MnAl</text>
<text x="468.5" y="803.0" font-size="30.5" font-family="Liberation Serif" text-anchor="start" >$</text>
<text x="500.5" y="803.0" font-size="30.5" font-family="Liberation Serif" text-anchor="start" textLength="186.0" lengthAdjust="spacingAndGlyphs" >ε - Mn<tspan font-size="20" dy="7">0.55</tspan><tspan dy="-7">Al</tspan><tspan font-size="20" dy="7">0.45</tspan></text>
<text x="469.0" y="851.8" font-size="30.5" font-family="Liberation Serif" text-anchor="start" >@</text>
<text x="505.0" y="851.8" font-size="30.5" font-family="Liberation Serif" text-anchor="start" textLength="175.5" lengthAdjust="spacingAndGlyphs" >ε - Mn<tspan font-size="20" dy="7">257</tspan><tspan dy="-7">Al</tspan><tspan font-size="20" dy="7">225</tspan></text>
<text x="731.0" y="806.0" font-size="30.5" font-family="Liberation Sans" text-anchor="start" >+</text>
<text x="767.0" y="806.0" font-size="30.5" font-family="Liberation Serif" text-anchor="start" textLength="135.5" lengthAdjust="spacingAndGlyphs" >β - Mn<tspan font-size="20" dy="7">3</tspan><tspan dy="-7">Al</tspan><tspan font-size="20" dy="7">2</tspan></text>
<text x="731.5" y="858.7" font-size="30.5" font-family="Liberation Sans" font-weight="bold" text-anchor="start" >#</text>
<text x="765.5" y="858.7" font-size="30.5" font-family="Liberation Serif" text-anchor="start" textLength="141.0" lengthAdjust="spacingAndGlyphs" >γ<tspan font-size="20" dy="7">2</tspan><tspan dy="-7"> - Mn</tspan><tspan font-size="20" dy="7">5</tspan><tspan dy="-7">Al</tspan><tspan font-size="20" dy="7">8</tspan></text>
<text x="358.5" y="852.0" font-size="52" font-family="Liberation Sans" text-anchor="start" textLength="54.0" lengthAdjust="spacingAndGlyphs" >(c)</text>
<circle cx="322.5" cy="940.9" r="8" fill="#000"/>
<text x="475.8" y="896.6" font-size="30" font-family="Liberation Sans" text-anchor="middle" dominant-baseline="central">+</text>
<text x="856.3" y="963.8" font-size="30" font-family="Liberation Sans" text-anchor="middle" dominant-baseline="central">+</text>
<text x="572.1" y="1009.0" font-size="30" font-family="Liberation Sans" font-weight="bold" text-anchor="middle" dominant-baseline="central">#</text>
<text x="619.8" y="1007.8" font-size="30" font-family="Liberation Sans" font-weight="bold" text-anchor="middle" dominant-baseline="central">#</text>
<text x="347.9" y="1149.6" font-size="28" font-family="Liberation Serif" text-anchor="middle" dominant-baseline="central">$</text>
<text x="749.2" y="1307.8" font-size="28" font-family="Liberation Serif" text-anchor="middle" dominant-baseline="central">$</text>
<text x="518.0" y="1306.4" font-size="30" font-family="Liberation Serif" text-anchor="middle" dominant-baseline="central">@</text>
<text x="637.2" y="1305.0" font-size="30" font-family="Liberation Serif" text-anchor="middle" dominant-baseline="central">@</text>
<line x1="356.4" y1="1300.4" x2="356.4" y2="1340.0" stroke="#000" stroke-width="1.3"/>
<path d="M352.9,1302.4 L356.4,1292.4 L359.9,1302.4 Z" fill="#000"/>
<line x1="766.8" y1="1308.8" x2="766.8" y2="1345.6" stroke="#000" stroke-width="1.3"/>
<path d="M763.3,1310.8 L766.8,1300.8 L770.3,1310.8 Z" fill="#000"/>
<text x="368.5" y="1328.8" font-size="35" font-family="Liberation Sans" font-weight="bold" text-anchor="start" >K<tspan font-size="24" font-weight="normal" font-family="Liberation Serif" dy="8">α2</tspan></text>
<text x="781.0" y="1326.0" font-size="35" font-family="Liberation Sans" font-weight="bold" text-anchor="start" >K<tspan font-size="24" font-weight="normal" font-family="Liberation Serif" dy="8">α2</tspan></text>
<polyline points="1091.1,1210.1 1093.1,1208.1 1095.1,1208.7 1097.1,1207.6 1099.1,1210.3 1101.1,1207.6 1103.1,1209.3 1105.1,1209.0 1107.1,1209.4 1109.1,1208.4 1111.1,1208.3 1113.1,1208.3 1115.1,1207.3 1117.0,1208.0 1119.0,1207.9 1121.0,1209.5 1123.0,1208.4 1125.0,1207.2 1127.0,1207.0 1129.0,1208.0 1131.0,1210.0 1133.0,1206.9 1135.0,1208.2 1137.0,1209.2 1139.0,1207.1 1141.0,1209.3 1143.0,1209.5 1145.0,1209.3 1147.0,1207.0 1149.0,1209.6 1151.0,1207.3 1153.0,1209.1 1155.0,1209.0 1157.0,1208.1 1159.0,1208.8 1160.9,1208.8 1162.9,1208.9 1164.9,1207.2 1166.9,1209.3 1168.9,1208.1 1170.9,1207.2 1172.9,1206.4 1174.9,1208.7 1176.9,1209.1 1178.9,1208.6 1180.9,1207.9 1182.9,1208.0 1184.9,1206.9 1186.9,1206.0 1188.9,1208.4 1190.9,1207.9 1192.9,1207.0 1194.9,1208.0 1196.9,1205.6 1198.8,1205.3 1200.8,1205.7 1202.8,1207.6 1204.8,1205.7 1206.8,1204.7 1208.8,1204.9 1210.8,1204.5 1212.8,1206.8 1214.8,1206.9 1216.8,1203.8 1218.8,1205.5 1220.8,1203.8 1222.8,1205.6 1224.8,1203.5 1226.8,1204.7 1228.8,1202.2 1230.8,1203.5 1232.8,1202.7 1234.8,1201.3 1236.8,1203.4 1238.8,1201.5 1240.8,1201.9 1242.8,1199.5 1244.7,1199.3 1246.7,1200.4 1248.7,1198.4 1250.7,1199.0 1252.7,1197.1 1254.7,1196.9 1256.7,1193.6 1258.7,1192.7 1260.7,1192.2 1262.7,1187.4 1264.7,1186.6 1266.7,1181.8 1268.7,1178.6 1270.7,1174.1 1272.7,1166.8 1274.7,1157.2 1276.7,1145.0 1278.7,1131.0 1280.7,1110.8 1282.7,1083.9 1284.7,1050.9 1286.6,1014.5 1288.6,969.4 1290.6,926.0 1292.6,879.1 1294.6,837.5 1296.6,806.6 1298.6,790.6 1299.1,791.1 1300.6,797.1 1302.6,820.4 1304.6,858.0 1306.6,902.0 1308.6,949.3 1310.6,993.0 1312.6,1035.3 1314.6,1068.0 1316.6,1098.6 1318.6,1121.2 1320.6,1140.4 1322.6,1154.0 1324.5,1163.4 1326.5,1172.9 1328.5,1178.2 1330.5,1180.5 1332.5,1184.4 1334.5,1186.9 1336.5,1189.8 1338.5,1191.9 1340.5,1193.4 1342.5,1196.0 1344.5,1195.5 1346.5,1198.1 1348.5,1197.7 1350.5,1199.3 1352.5,1198.3 1354.5,1201.0 1356.5,1200.0 1358.5,1202.0 1360.5,1201.3 1362.5,1203.2 1364.5,1203.6 1366.5,1201.8 1368.5,1204.4 1370.4,1204.0 1372.4,1202.9 1374.4,1205.0 1376.4,1204.5 1378.4,1206.4 1380.4,1205.4 1382.4,1204.2 1384.4,1205.8 1386.4,1204.3 1388.4,1204.8 1390.4,1204.7 1392.4,1204.7 1394.4,1206.2 1396.4,1207.9 1398.4,1206.3 1400.4,1205.8 1402.4,1205.1 1404.4,1206.6 1406.3,1206.4 1408.3,1205.7 1410.3,1208.0 1412.3,1207.8 1414.3,1205.7 1416.3,1207.5 1418.3,1207.3 1420.3,1208.6 1422.3,1206.4 1424.3,1206.4 1426.3,1208.6 1428.3,1206.8 1430.3,1207.4 1432.3,1206.5 1434.3,1206.8 1436.3,1208.8 1438.3,1206.6 1440.3,1208.6 1442.3,1206.6 1444.3,1208.0 1446.3,1207.4 1448.2,1207.1 1450.2,1205.9 1452.2,1203.7 1454.2,1202.7 1456.2,1198.2 1458.2,1195.0 1460.2,1192.9 1462.2,1188.4 1464.2,1186.5 1466.2,1184.0 1467.8,1185.5 1468.2,1185.3 1470.2,1185.8 1472.2,1187.5 1474.2,1190.4 1476.2,1193.1 1478.2,1196.5 1480.2,1199.8 1482.2,1203.5 1484.2,1202.6 1486.2,1205.9 1488.2,1206.1 1490.2,1208.3 1492.2,1207.7 1494.1,1206.9 1496.1,1208.2 1498.1,1205.8 1500.1,1206.2 1502.1,1207.2 1504.1,1207.4 1506.1,1205.5 1508.1,1205.9 1510.1,1205.3 1512.1,1204.0 1514.1,1201.4 1516.1,1200.0 1518.1,1200.7 1520.1,1200.1 1521.3,1198.3 1522.1,1198.3 1524.1,1199.4 1526.1,1200.0 1528.1,1200.7 1530.1,1204.0 1532.0,1204.5 1534.0,1204.4 1536.0,1206.8 1538.0,1206.5 1540.0,1207.5 1542.0,1206.0 1544.0,1205.6 1546.0,1206.4 1548.0,1206.3 1550.0,1208.7 1552.0,1206.3 1554.0,1209.2 1556.0,1209.7 1558.0,1208.2 1560.0,1209.8 1562.0,1209.6 1564.0,1207.1 1566.0,1209.1 1568.0,1209.3 1570.0,1207.6 1572.0,1207.1 1574.0,1207.4 1576.0,1207.9 1577.9,1210.3 1579.9,1207.6 1581.9,1208.1 1583.9,1209.4 1585.9,1208.9 1587.9,1206.6 1589.9,1206.1 1591.9,1205.5 1593.9,1203.2 1595.9,1202.1 1596.9,1202.9 1597.9,1203.8 1599.9,1205.6 1601.9,1206.4 1603.9,1206.6 1605.9,1209.7 1607.9,1209.9 1609.9,1209.9 1611.9,1209.4 1613.8,1208.8 1615.8,1210.1 1617.8,1207.6 1619.8,1209.7 1621.8,1209.3 1623.8,1208.2 1625.8,1210.4 1627.8,1210.2 1629.8,1208.9 1631.8,1209.6 1633.8,1208.0 1635.8,1208.8 1637.8,1209.4 1639.8,1209.9 1641.8,1207.6 1643.8,1208.1 1645.8,1210.1 1647.8,1207.0 1649.8,1207.5 1651.8,1206.1 1653.8,1202.3 1655.8,1199.5 1656.9,1200.5 1657.8,1200.9 1659.7,1203.2 1661.7,1204.3 1663.7,1206.5 1665.7,1208.3 1667.7,1209.3 1669.7,1209.9 1671.7,1210.2 1673.7,1210.0 1675.7,1209.6 1677.7,1210.0 1679.7,1209.3 1681.7,1209.1 1683.7,1210.2 1685.7,1208.4 1687.7,1208.5 1689.7,1210.4 1691.7,1209.9 1693.7,1208.9 1695.7,1209.1 1697.7,1208.8 1699.7,1209.4 1701.6,1208.5 1703.6,1210.8 1705.6,1210.4 1707.6,1208.8 1709.6,1208.0 1711.6,1208.2 1713.6,1208.5 1715.6,1210.7 1717.6,1208.9 1719.6,1208.3 1721.6,1208.3 1723.6,1209.4 1725.6,1210.4 1727.6,1209.8 1729.6,1209.2 1731.6,1209.5 1733.6,1209.3 1735.6,1209.1 1737.6,1210.9 1739.5,1208.9 1741.5,1210.3 1743.5,1210.3 1745.5,1209.3 1747.5,1209.8 1749.5,1209.4 1751.5,1208.3 1753.5,1209.9 1755.5,1208.8 1757.5,1209.0 1759.5,1210.3 1761.5,1209.9 1763.5,1209.1 1765.5,1210.5 1767.5,1209.0 1769.5,1209.6 1771.5,1210.7 1773.5,1209.1 1775.5,1209.7 1777.5,1208.9 1779.5,1210.8 1781.5,1209.3 1783.5,1209.9 1785.4,1210.2 1787.4,1208.3 1789.4,1208.7 1791.4,1208.1 1793.4,1210.0 1795.4,1208.0 1797.4,1210.3 1799.4,1210.4 1801.4,1208.3 1803.4,1210.7 1805.4,1209.3 1807.4,1209.0 1809.4,1207.8 1811.4,1208.5 1813.4,1208.4 1815.4,1210.9 1817.4,1207.8 1819.4,1208.7 1821.4,1208.6 1823.3,1209.6 1825.3,1208.5 1827.3,1210.6 1829.3,1210.2 1831.3,1209.1 1833.3,1207.9 1835.3,1208.6 1837.3,1209.9 1839.3,1208.8 1841.3,1209.8 1843.3,1208.0 1845.3,1208.1 1847.3,1209.3 1849.3,1208.4 1851.3,1210.6 1853.3,1208.8 1855.3,1209.3 1857.3,1210.6 1859.3,1210.2 1861.3,1210.4 1863.2,1208.5 1865.2,1209.4 1867.2,1208.7 1869.2,1210.4 1871.2,1210.4 1873.2,1208.9 1875.2,1210.1 1877.2,1208.8 1879.2,1208.2 1881.2,1207.4 1883.2,1208.1 1885.2,1208.7 1887.2,1206.9 1889.2,1206.7 1891.2,1205.3" fill="none" stroke="#1a55e6" stroke-width="1.7" stroke-linejoin="round"/>
<polyline points="1091.1,1250.6 1093.1,1251.7 1095.1,1249.5 1097.1,1253.0 1099.1,1252.4 1101.1,1253.0 1103.1,1250.4 1105.1,1250.1 1107.1,1249.6 1109.1,1250.1 1111.1,1249.5 1113.1,1251.9 1115.1,1250.7 1117.0,1252.3 1119.0,1252.1 1121.0,1250.6 1123.0,1249.9 1125.0,1250.6 1127.0,1249.4 1129.0,1251.7 1131.0,1250.0 1133.0,1249.8 1135.0,1252.5 1137.0,1250.9 1139.0,1252.7 1141.0,1252.8 1143.0,1251.6 1145.0,1250.1 1147.0,1249.8 1149.0,1250.1 1151.0,1251.9 1153.0,1251.0 1155.0,1250.3 1157.0,1249.2 1159.0,1250.4 1160.9,1250.6 1162.9,1249.4 1164.9,1250.0 1166.9,1250.2 1168.9,1250.6 1170.9,1250.8 1172.9,1251.1 1174.9,1252.1 1176.9,1250.1 1178.9,1249.3 1180.9,1250.0 1182.9,1249.7 1184.9,1251.0 1186.9,1250.6 1188.9,1250.0 1190.9,1249.2 1192.9,1251.5 1194.9,1251.0 1196.9,1251.0 1198.8,1251.2 1200.8,1251.7 1202.8,1248.7 1204.8,1249.2 1206.8,1250.2 1208.8,1251.0 1210.8,1250.2 1212.8,1250.2 1214.8,1249.4 1216.8,1249.1 1218.8,1251.3 1220.8,1251.6 1222.8,1249.8 1224.8,1249.6 1226.8,1248.3 1228.8,1249.9 1230.8,1248.4 1232.8,1249.8 1234.8,1248.4 1236.8,1248.9 1238.8,1250.2 1240.8,1248.1 1242.8,1248.7 1244.7,1247.7 1246.7,1248.1 1248.7,1249.2 1250.7,1247.6 1252.7,1249.0 1254.7,1246.6 1256.7,1246.4 1258.7,1246.7 1260.7,1245.6 1262.7,1245.7 1264.7,1243.6 1266.7,1241.8 1268.7,1242.2 1270.7,1239.5 1272.7,1238.2 1274.7,1236.5 1276.7,1232.1 1278.7,1225.5 1280.7,1213.0 1282.7,1195.0 1284.7,1168.9 1286.6,1135.0 1288.6,1090.2 1290.6,1037.5 1292.6,981.8 1294.6,925.9 1296.6,876.9 1298.6,847.8 1300.1,839.6 1300.6,839.5 1302.6,860.1 1304.6,896.4 1306.6,948.3 1308.6,1002.9 1310.6,1054.1 1312.6,1093.3 1314.6,1124.5 1316.6,1137.0 1318.6,1142.6 1320.6,1138.3 1322.6,1129.8 1324.5,1117.8 1326.5,1110.3 1328.3,1111.3 1328.5,1111.8 1330.5,1118.0 1332.5,1132.7 1334.5,1148.8 1336.5,1168.5 1338.5,1187.5 1340.5,1202.6 1342.5,1218.5 1344.5,1225.8 1346.5,1232.9 1348.5,1240.7 1350.5,1242.1 1352.5,1242.9 1354.5,1246.8 1356.5,1245.1 1358.5,1246.6 1360.5,1245.5 1362.5,1246.3 1364.5,1247.8 1366.5,1248.9 1368.5,1247.0 1370.4,1249.5 1372.4,1249.3 1374.4,1249.5 1376.4,1250.7 1378.4,1249.1 1380.4,1247.5 1382.4,1247.8 1384.4,1250.9 1386.4,1248.2 1388.4,1248.9 1390.4,1250.3 1392.4,1250.7 1394.4,1250.9 1396.4,1250.2 1398.4,1249.4 1400.4,1251.6 1402.4,1248.4 1404.4,1249.3 1406.3,1252.0 1408.3,1249.2 1410.3,1251.6 1412.3,1250.7 1414.3,1250.9 1416.3,1250.9 1418.3,1250.3 1420.3,1251.7 1422.3,1248.9 1424.3,1249.8 1426.3,1251.5 1428.3,1251.4 1430.3,1251.1 1432.3,1251.3 1434.3,1249.9 1436.3,1251.0 1438.3,1250.9 1440.3,1251.8 1442.3,1249.7 1444.3,1249.9 1446.3,1250.1 1448.2,1249.7 1450.2,1251.6 1452.2,1250.7 1454.2,1249.2 1456.2,1252.2 1458.2,1250.9 1460.2,1252.0 1462.2,1251.7 1464.2,1250.4 1466.2,1250.2 1468.2,1251.0 1470.2,1252.4 1472.2,1251.9 1474.2,1252.5 1476.2,1251.1 1478.2,1251.0 1480.2,1250.1 1482.2,1251.0 1484.2,1251.0 1486.2,1251.7 1488.2,1251.9 1490.2,1252.0 1492.2,1249.3 1494.1,1250.3 1496.1,1247.4 1498.1,1246.8 1500.1,1245.9 1502.1,1240.7 1504.1,1239.5 1506.1,1232.5 1508.1,1223.9 1510.1,1215.3 1512.1,1205.9 1514.1,1191.9 1516.1,1183.0 1518.1,1171.0 1520.1,1161.3 1522.1,1153.4 1524.1,1151.8 1524.7,1150.2 1526.1,1150.5 1528.1,1157.6 1530.1,1163.4 1532.0,1174.8 1534.0,1185.2 1536.0,1197.2 1538.0,1207.9 1540.0,1219.6 1542.0,1228.0 1544.0,1233.4 1546.0,1239.3 1548.0,1242.0 1550.0,1246.9 1552.0,1247.0 1554.0,1248.5 1556.0,1248.9 1558.0,1247.5 1560.0,1248.4 1562.0,1249.9 1564.0,1249.0 1566.0,1247.5 1568.0,1246.9 1570.0,1248.9 1572.0,1248.0 1574.0,1247.3 1576.0,1243.3 1577.9,1242.5 1579.9,1239.0 1581.9,1234.7 1583.9,1228.8 1585.9,1222.9 1587.9,1214.6 1589.9,1204.4 1591.9,1196.5 1593.9,1191.4 1595.8,1191.6 1595.9,1191.8 1597.9,1193.3 1599.9,1197.9 1601.9,1206.0 1603.9,1214.6 1605.9,1220.5 1607.9,1229.8 1609.9,1234.6 1611.9,1235.0 1613.8,1237.9 1615.8,1239.0 1617.8,1241.1 1619.8,1240.5 1621.8,1239.0 1623.8,1235.0 1625.8,1232.5 1627.8,1227.8 1629.8,1223.2 1631.8,1221.0 1633.8,1216.1 1635.8,1212.7 1637.8,1208.5 1639.8,1203.5 1641.8,1199.1 1643.8,1199.6 1644.6,1200.8 1645.8,1199.5 1647.8,1201.8 1649.8,1204.3 1651.8,1208.0 1653.8,1212.4 1655.8,1216.5 1657.8,1222.1 1659.7,1227.8 1661.7,1231.8 1663.7,1232.9 1665.7,1236.7 1667.7,1238.8 1669.7,1241.0 1671.7,1242.4 1673.7,1246.3 1675.7,1245.4 1677.7,1247.8 1679.7,1249.0 1681.7,1247.0 1683.7,1247.7 1685.7,1247.5 1687.7,1247.7 1689.7,1250.9 1691.7,1250.7 1693.7,1251.1 1695.7,1248.4 1697.7,1249.3 1699.7,1249.9 1701.6,1248.2 1703.6,1250.3 1705.6,1251.2 1707.6,1251.4 1709.6,1251.2 1711.6,1249.2 1713.6,1251.0 1715.6,1248.8 1717.6,1249.7 1719.6,1248.3 1721.6,1248.4 1723.6,1248.3 1725.6,1249.3 1727.6,1250.6 1729.6,1249.9 1731.6,1248.4 1733.6,1248.8 1735.6,1249.0 1737.6,1248.0 1739.5,1248.0 1741.5,1250.7 1743.5,1249.9 1745.5,1249.4 1747.5,1247.0 1749.5,1248.2 1751.5,1248.8 1753.5,1248.4 1755.5,1245.4 1757.5,1244.8 1759.5,1243.8 1761.5,1239.5 1763.5,1237.1 1765.5,1229.4 1767.5,1224.3 1769.5,1211.9 1771.5,1200.0 1773.5,1187.1 1775.5,1171.9 1777.5,1159.3 1779.5,1146.8 1781.5,1139.1 1782.4,1137.9 1783.5,1141.1 1785.4,1147.5 1787.4,1157.0 1789.4,1173.4 1791.4,1186.7 1793.4,1200.0 1795.4,1212.3 1797.4,1223.4 1799.4,1232.4 1801.4,1237.1 1803.4,1240.3 1805.4,1244.2 1807.4,1243.8 1809.4,1247.5 1811.4,1248.1 1813.4,1247.9 1815.4,1246.9 1817.4,1248.4 1819.4,1250.5 1821.4,1250.8 1823.3,1250.4 1825.3,1250.3 1827.3,1251.5 1829.3,1249.0 1831.3,1251.3 1833.3,1251.6 1835.3,1251.4 1837.3,1249.3 1839.3,1250.9 1841.3,1248.7 1843.3,1249.5 1845.3,1251.7 1847.3,1249.3 1849.3,1251.1 1851.3,1249.6 1853.3,1252.4 1855.3,1252.3 1857.3,1252.4 1859.3,1251.1 1861.3,1252.6 1863.2,1249.6 1865.2,1251.2 1867.2,1249.5 1869.2,1251.3 1871.2,1252.7 1873.2,1251.8 1875.2,1252.0 1877.2,1252.5 1879.2,1252.4 1881.2,1251.5 1883.2,1252.0 1885.2,1249.8 1887.2,1250.2 1889.2,1251.9 1891.2,1251.9" fill="none" stroke="#ee2020" stroke-width="1.7" stroke-linejoin="round"/>
<polyline points="1091.1,1305.7 1093.1,1308.2 1095.1,1310.1 1097.1,1307.0 1099.1,1308.0 1101.1,1307.2 1103.1,1308.9 1105.1,1308.7 1107.1,1308.2 1109.1,1310.0 1111.1,1308.7 1113.1,1307.0 1115.1,1307.2 1117.0,1308.4 1119.0,1308.7 1121.0,1306.4 1123.0,1309.2 1125.0,1307.5 1127.0,1309.0 1129.0,1305.8 1131.0,1306.8 1133.0,1305.4 1135.0,1307.3 1137.0,1306.5 1139.0,1307.0 1141.0,1306.4 1143.0,1309.4 1145.0,1308.3 1147.0,1307.0 1149.0,1307.7 1151.0,1306.2 1153.0,1309.8 1155.0,1309.6 1157.0,1308.0 1159.0,1306.0 1160.9,1309.8 1162.9,1306.3 1164.9,1305.5 1166.9,1307.2 1168.9,1307.0 1170.9,1309.3 1172.9,1305.9 1174.9,1305.5 1176.9,1307.3 1178.9,1305.4 1180.9,1308.3 1182.9,1307.5 1184.9,1309.3 1186.9,1309.6 1188.9,1306.2 1190.9,1308.9 1192.9,1307.5 1194.9,1309.6 1196.9,1305.5 1198.8,1307.2 1200.8,1309.7 1202.8,1305.3 1204.8,1306.5 1206.8,1306.5 1208.8,1306.7 1210.8,1309.7 1212.8,1305.9 1214.8,1308.9 1216.8,1306.2 1218.8,1309.1 1220.8,1305.6 1222.8,1305.3 1224.8,1309.6 1226.8,1304.9 1228.8,1307.8 1230.8,1305.7 1232.8,1307.5 1234.8,1306.2 1236.8,1307.6 1238.8,1307.9 1240.8,1308.2 1242.8,1305.1 1244.7,1308.5 1246.7,1305.6 1248.7,1307.2 1250.7,1308.2 1252.7,1308.0 1254.7,1306.7 1256.7,1306.5 1258.7,1304.8 1260.7,1308.2 1262.7,1306.7 1264.7,1307.5 1266.7,1308.3 1268.7,1306.9 1270.7,1304.9 1272.7,1305.6 1274.7,1303.9 1276.7,1304.3 1278.7,1306.8 1280.7,1305.7 1282.7,1303.0 1284.7,1304.4 1286.6,1303.6 1288.6,1305.1 1290.6,1304.7 1292.6,1301.7 1294.6,1299.5 1296.6,1298.6 1298.6,1298.1 1300.6,1293.5 1302.6,1286.0 1304.6,1280.1 1306.6,1265.2 1308.6,1243.0 1310.6,1213.0 1312.6,1177.1 1314.6,1132.5 1316.6,1078.3 1318.6,1023.8 1320.6,972.0 1322.6,929.4 1324.5,905.6 1326.1,899.5 1326.5,899.7 1328.5,913.8 1330.5,948.6 1332.5,994.3 1334.5,1051.9 1336.5,1104.3 1338.5,1152.2 1340.5,1193.7 1342.5,1228.0 1344.5,1253.4 1346.5,1272.6 1348.5,1281.4 1350.5,1292.5 1352.5,1294.6 1354.5,1297.1 1356.5,1301.2 1358.5,1300.1 1360.5,1304.9 1362.5,1304.0 1364.5,1304.7 1366.5,1304.1 1368.5,1306.0 1370.4,1306.2 1372.4,1304.9 1374.4,1303.2 1376.4,1305.9 1378.4,1307.6 1380.4,1304.1 1382.4,1306.4 1384.4,1303.7 1386.4,1307.3 1388.4,1306.0 1390.4,1306.2 1392.4,1306.3 1394.4,1306.1 1396.4,1306.8 1398.4,1306.6 1400.4,1305.1 1402.4,1307.9 1404.4,1304.4 1406.3,1307.4 1408.3,1305.9 1410.3,1304.3 1412.3,1305.2 1414.3,1306.2 1416.3,1304.5 1418.3,1306.9 1420.3,1308.5 1422.3,1307.3 1424.3,1306.5 1426.3,1306.7 1428.3,1306.2 1430.3,1307.5 1432.3,1307.2 1434.3,1306.2 1436.3,1307.4 1438.3,1306.8 1440.3,1304.1 1442.3,1304.4 1444.3,1305.5 1446.3,1305.1 1448.2,1306.8 1450.2,1305.7 1452.2,1306.7 1454.2,1306.8 1456.2,1307.8 1458.2,1305.7 1460.2,1304.3 1462.2,1307.7 1464.2,1304.5 1466.2,1306.3 1468.2,1303.8 1470.2,1304.4 1472.2,1305.3 1474.2,1306.5 1476.2,1306.4 1478.2,1306.3 1480.2,1303.8 1482.2,1304.6 1484.2,1304.3 1486.2,1302.8 1488.2,1303.4 1490.2,1301.2 1492.2,1300.8 1494.1,1299.3 1496.1,1297.4 1498.1,1299.8 1500.1,1296.1 1502.1,1293.7 1504.1,1291.7 1506.1,1285.9 1508.1,1280.4 1510.1,1277.5 1512.1,1269.2 1514.1,1261.7 1516.1,1255.7 1518.1,1247.8 1520.1,1244.2 1522.1,1238.1 1523.1,1239.2 1524.1,1238.1 1526.1,1238.8 1528.1,1241.0 1530.1,1241.6 1532.0,1246.0 1534.0,1241.4 1536.0,1244.5 1536.8,1246.7 1538.0,1251.2 1540.0,1262.5 1542.0,1273.0 1544.0,1279.6 1546.0,1286.6 1548.0,1290.1 1550.0,1292.4 1552.0,1293.4 1554.0,1295.4 1556.0,1296.9 1558.0,1294.3 1560.0,1297.2 1562.0,1298.6 1564.0,1294.6 1566.0,1298.7 1568.0,1297.8 1570.0,1295.3 1572.0,1295.2 1574.0,1293.6 1576.0,1291.7 1577.9,1290.9 1579.9,1292.3 1581.9,1286.3 1583.9,1286.1 1585.9,1282.8 1587.9,1281.7 1589.9,1280.2 1591.9,1275.4 1593.9,1270.2 1595.9,1270.8 1597.9,1265.7 1599.9,1266.5 1601.1,1266.4 1601.9,1263.6 1603.9,1263.9 1605.9,1269.7 1607.9,1272.0 1609.9,1271.8 1611.9,1277.9 1613.8,1280.3 1615.8,1279.6 1617.8,1281.0 1619.8,1284.6 1621.8,1284.1 1623.8,1283.7 1625.8,1282.4 1627.8,1283.0 1629.8,1280.3 1631.8,1278.6 1633.8,1277.3 1635.8,1276.3 1637.8,1274.2 1639.8,1270.4 1641.8,1267.3 1643.8,1266.9 1645.8,1265.8 1647.8,1264.2 1648.9,1264.7 1649.8,1265.4 1651.8,1268.3 1653.8,1266.1 1655.8,1272.4 1657.8,1275.2 1659.7,1276.6 1661.7,1281.1 1663.7,1285.6 1665.7,1288.2 1667.7,1291.1 1669.7,1290.4 1671.7,1293.4 1673.7,1294.9 1675.7,1300.5 1677.7,1298.2 1679.7,1300.2 1681.7,1302.6 1683.7,1303.9 1685.7,1301.7 1687.7,1305.1 1689.7,1302.8 1691.7,1305.6 1693.7,1302.3 1695.7,1306.2 1697.7,1302.1 1699.7,1306.2 1701.6,1303.9 1703.6,1305.3 1705.6,1306.1 1707.6,1306.7 1709.6,1306.5 1711.6,1306.1 1713.6,1302.7 1715.6,1306.9 1717.6,1304.2 1719.6,1303.2 1721.6,1303.4 1723.6,1305.6 1725.6,1306.7 1727.6,1304.8 1729.6,1306.0 1731.6,1304.1 1733.6,1303.9 1735.6,1301.4 1737.6,1304.5 1739.5,1305.1 1741.5,1300.4 1743.5,1302.6 1745.5,1301.9 1747.5,1298.8 1749.5,1302.2 1751.5,1299.5 1753.5,1294.3 1755.5,1295.1 1757.5,1285.7 1759.5,1279.7 1761.5,1265.7 1763.5,1249.5 1765.5,1230.2 1767.5,1200.7 1769.5,1161.5 1771.5,1124.6 1773.5,1080.3 1775.5,1038.1 1777.5,995.0 1779.5,967.2 1781.5,948.8 1782.4,949.5 1783.5,949.9 1785.4,969.9 1787.4,997.0 1789.4,1038.9 1791.4,1082.4 1793.4,1125.2 1795.4,1162.7 1797.4,1201.9 1799.4,1230.2 1801.4,1252.1 1803.4,1270.1 1805.4,1280.0 1807.4,1287.7 1809.4,1294.8 1811.4,1296.2 1813.4,1298.7 1815.4,1298.8 1817.4,1303.4 1819.4,1300.1 1821.4,1302.0 1823.3,1303.4 1825.3,1304.5 1827.3,1302.9 1829.3,1306.1 1831.3,1305.8 1833.3,1303.4 1835.3,1305.0 1837.3,1306.4 1839.3,1305.2 1841.3,1305.2 1843.3,1305.5 1845.3,1304.2 1847.3,1306.8 1849.3,1306.1 1851.3,1307.2 1853.3,1305.7 1855.3,1306.7 1857.3,1307.8 1859.3,1304.1 1861.3,1304.5 1863.2,1307.7 1865.2,1305.6 1867.2,1304.9 1869.2,1306.6 1871.2,1308.6 1873.2,1304.6 1875.2,1309.0 1877.2,1307.6 1879.2,1306.3 1881.2,1305.0 1883.2,1306.0 1885.2,1306.2 1887.2,1308.8 1889.2,1307.6 1891.2,1308.9" fill="none" stroke="#000000" stroke-width="1.7" stroke-linejoin="round"/>
<rect x="1091.4" y="765.4" width="800.0" height="581.1" fill="none" stroke="#000" stroke-width="4.5"/>
<line x1="1092.0" y1="1346.5" x2="1092.0" y2="1336.5" stroke="#000" stroke-width="3.5"/>
<line x1="1180.7" y1="1346.5" x2="1180.7" y2="1342.0" stroke="#000" stroke-width="3.5"/>
<line x1="1269.4" y1="1346.5" x2="1269.4" y2="1336.5" stroke="#000" stroke-width="3.5"/>
<line x1="1358.1" y1="1346.5" x2="1358.1" y2="1342.0" stroke="#000" stroke-width="3.5"/>
<line x1="1446.8" y1="1346.5" x2="1446.8" y2="1336.5" stroke="#000" stroke-width="3.5"/>
<line x1="1535.5" y1="1346.5" x2="1535.5" y2="1342.0" stroke="#000" stroke-width="3.5"/>
<line x1="1624.2" y1="1346.5" x2="1624.2" y2="1336.5" stroke="#000" stroke-width="3.5"/>
<line x1="1712.9" y1="1346.5" x2="1712.9" y2="1342.0" stroke="#000" stroke-width="3.5"/>
<line x1="1801.6" y1="1346.5" x2="1801.6" y2="1336.5" stroke="#000" stroke-width="3.5"/>
<text x="1091.0" y="1393.6" font-size="44" font-family="Liberation Serif" font-weight="bold" text-anchor="middle" >40</text>
<text x="1268.4" y="1393.6" font-size="44" font-family="Liberation Serif" font-weight="bold" text-anchor="middle" >41</text>
<text x="1445.8" y="1393.6" font-size="44" font-family="Liberation Serif" font-weight="bold" text-anchor="middle" >42</text>
<text x="1623.2" y="1393.6" font-size="44" font-family="Liberation Serif" font-weight="bold" text-anchor="middle" >43</text>
<text x="1800.6" y="1393.6" font-size="44" font-family="Liberation Serif" font-weight="bold" text-anchor="middle" >44</text>
<text x="1311.7" y="1454.0" font-size="48" font-family="Liberation Serif" font-weight="bold" text-anchor="start" textLength="358.5" lengthAdjust="spacingAndGlyphs" >2 Theta (Degree)</text>
<text transform="translate(1067.1,1155.3) rotate(-90)" font-size="50" font-family="Liberation Serif" font-weight="bold" textLength="188.0" lengthAdjust="spacingAndGlyphs">Intensity</text>
<text x="1107.5" y="1237.6" font-size="30" font-family="Liberation Sans" text-anchor="start" >450 <tspan font-size="20" dy="-12.9">o</tspan><tspan dy="12.9">C</tspan></text>
<text x="1106.0" y="1281.4" font-size="30" font-family="Liberation Sans" text-anchor="start" >300 <tspan font-size="20" dy="-12.9">o</tspan><tspan dy="12.9">C</tspan></text>
<text x="1109.0" y="1334.6" font-size="30" font-family="Liberation Sans" text-anchor="start" textLength="64.0" lengthAdjust="spacingAndGlyphs" >ASQ</text>
<text x="1124.5" y="834.5" font-size="52" font-family="Liberation Sans" text-anchor="start" textLength="61.0" lengthAdjust="spacingAndGlyphs" >(d)</text>
</svg></body></html>
